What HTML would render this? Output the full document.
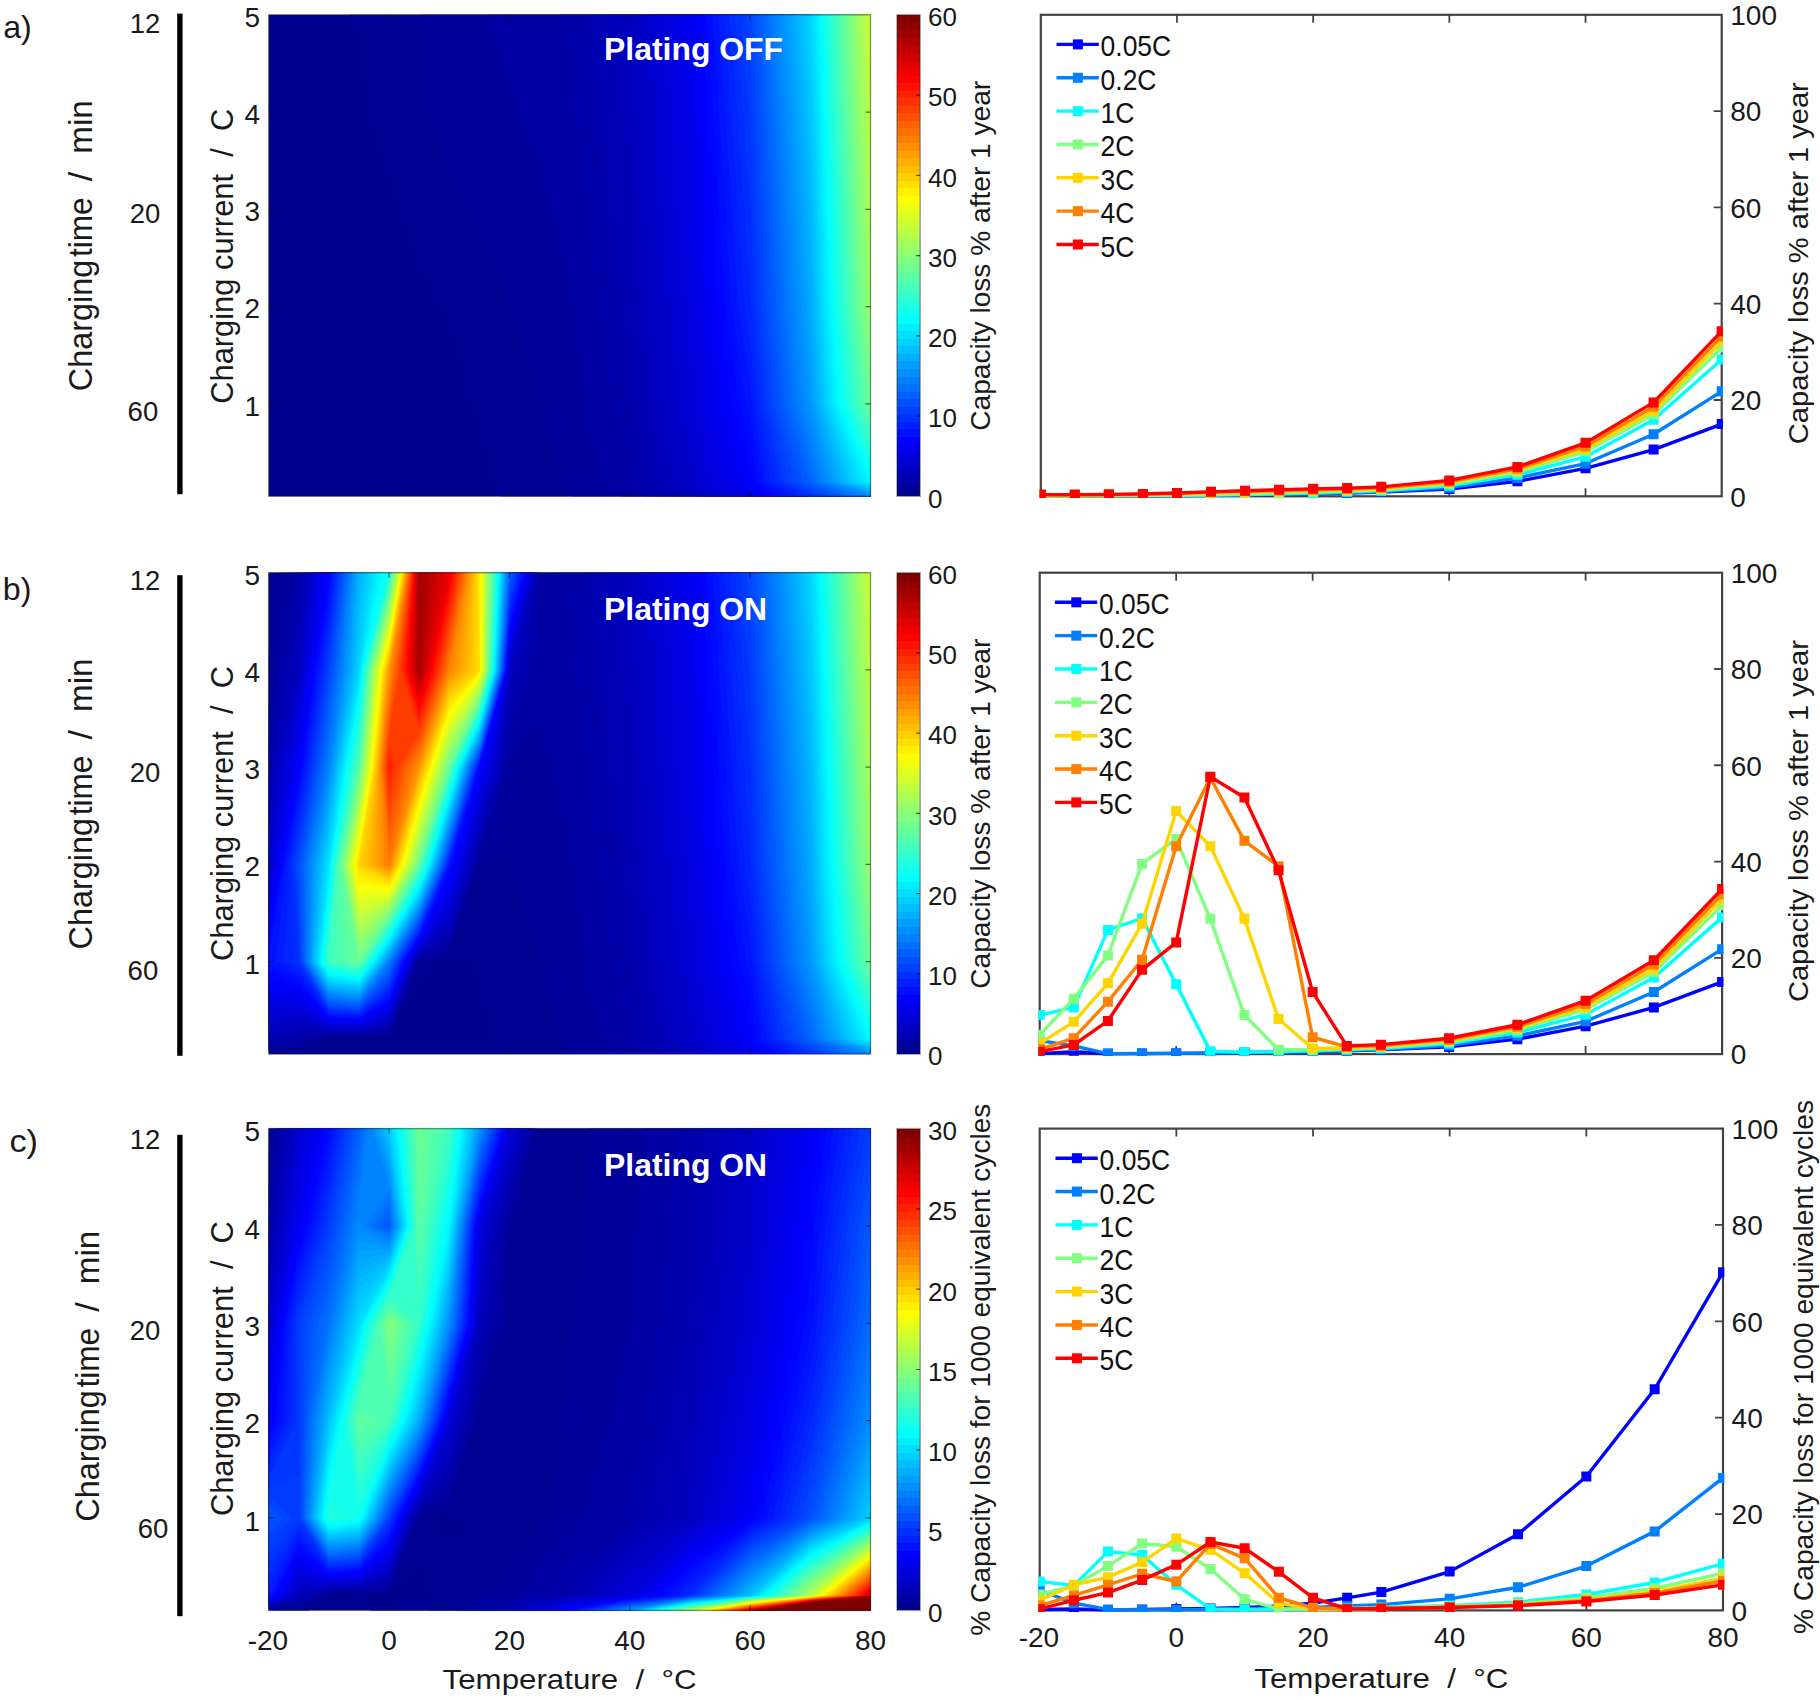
<!DOCTYPE html>
<html lang="en"><head><meta charset="utf-8"><title>Capacity loss maps</title>
<style>html,body{margin:0;padding:0;background:#fff}svg{display:block}text{font-family:"Liberation Sans", sans-serif;white-space:pre}</style></head>
<body>
<svg width="1820" height="1700" viewBox="0 0 1820 1700">
<rect width="1820" height="1700" fill="#fff"/>
<defs>
<clipPath id="lc0"><rect x="1039.5" y="8.8" width="683.5" height="489.1"/></clipPath>
<clipPath id="lc1"><rect x="1038.4" y="566.7" width="685" height="489"/></clipPath>
<clipPath id="lc2"><rect x="1038.4" y="1122.6" width="685.9" height="489.4"/></clipPath>
</defs>
<g>
<rect x="268.7" y="14.8" width="601.8" height="481.5" fill="#00008f"/>
<path d="M500 496.3h9.4h30.1h30.1h60.2h60.2h60.1h60.2h60.2v-14.6v-77.8v-97.3v-97.3v-97.2v-97.3h-60.2h-60.2h-60.1h-60.2h-60.2h-30.1h-30.1h-30.1h-30.1h-30.1h-30h-30.1h-9.4l9.4 38l8.1 59.3l22 70.9l8.1 26.3l21.9 58.1l22.3 39.2l7.8 25.3l22.3 72l7.8 30.4l11.3 47.4z" fill="#000093"/>
<path d="M562.1 481.7l7.5 9.1l3.8 5.5h56.4h60.2h60.1h60.2h60.2v-14.6v-77.8v-97.3v-97.3v-97.2v-97.3h-60.2h-60.2h-60.1h-60.2h-60.2h-30.1h-30.1h-30.1h-30.1h-27.7l5.2 97.3l22.5 54.7l17.6 42.5l12.5 20.3l30.1 69.6l2.9 7.4l27.2 87.8l2.3 9.5z" fill="#00009b"/>
<path d="M620.4 496.3h9.4h60.2h60.1h60.2h60.2v-14.6v-77.8v-97.3v-97.3v-97.2v-97.3h-60.2h-60.2h-60.1h-60.2h-60.2h-30.1h-30.1h-21.6l21.6 69.9l11.3 27.4l18.8 45.6l12.8 51.6l17.3 70l2.9 27.3l11.8 97.3l15.9 77.8z" fill="#0000a3"/>
<path d="M643.9 496.3h46.1h60.1h60.2h60.2v-14.6v-77.8v-97.3v-97.3v-97.2v-97.3h-60.2h-60.2h-60.1h-60.2h-60.2h-9.8l9.8 39.4l6 57.9l9.6 97.2l11.9 97.3l14.1 97.3l18.6 63.2l2.2 14.6z" fill="#0000ab"/>
<path d="M661.5 496.3h28.5h60.1h60.2h60.2v-14.6v-77.8v-97.3v-97.3v-97.2v-97.3h-60.2h-60.2h-60.1h-60.2h-43l11.4 97.3l9.6 97.2l13.8 97.3l8.2 50.7l3.7 46.6l12.6 77.8z" fill="#0000b3"/>
<path d="M679.1 496.3h10.9h60.1h60.2h60.2v-14.6v-77.8v-97.3v-97.3v-97.2v-97.3h-60.2h-60.2h-60.1h-60.2h-21.9l12.9 97.3l9 91.2l0.3 6l7.2 97.3l8.5 97.3l14.4 77.8z" fill="#0000bb"/>
<path d="M674.4 481.7l15.6 10.8l4 3.8h56.1h60.2h60.2v-14.6v-77.8v-97.3v-97.3v-97.2v-97.3h-60.2h-60.2h-60.1h-60.2h-0.9l0.9 6.1l6.2 91.2l4.9 97.2l7.7 97.3l9.5 97.3z" fill="#0000c3"/>
<path d="M688.5 481.7l1.5 1.1l14.4 13.5h45.7h60.2h60.2v-14.6v-77.8v-97.3v-97.3v-97.2v-97.3h-60.2h-60.2h-60.1h-50.5l7 97.3l5.3 97.2l8.1 97.3l10.4 97.3z" fill="#0000cb"/>
<path d="M714.9 496.3h35.2h60.2h60.2v-14.6v-77.8v-97.3v-97.3v-97.2v-97.3h-60.2h-60.2h-60.1h-40.5l7.4 97.3l5.7 97.2l8.6 97.3l11.4 97.3l7.4 31.3l8.4 46.5z" fill="#0000d3"/>
<path d="M725.3 496.3h24.8h60.2h60.2v-14.6v-77.8v-97.3v-97.3v-97.2v-97.3h-60.2h-60.2h-60.1h-30.4l7.8 97.3l6.1 97.2l8.9 97.3l7.6 60.8l3 36.5l14.8 77.8z" fill="#0000db"/>
<path d="M735.8 496.3h14.3h60.2h60.2v-14.6v-77.8v-97.3v-97.3v-97.2v-97.3h-60.2h-60.2h-60.1h-20.3l8.1 97.3l6.5 97.2l5.7 59.3l2.1 38l8.5 97.3l16.6 77.8z" fill="#0000e3"/>
<path d="M746.2 496.3h3.9h60.2h60.2v-14.6v-77.8v-97.3v-97.3v-97.2v-97.3h-60.2h-60.2h-60.1h-10.2l8.5 97.3l1.7 24.3l3 72.9l5.7 97.3l9.6 97.3l18.3 77.8z" fill="#0000eb"/>
<path d="M736 481.7l14.1 10.3l4.6 4.3h55.6h60.2v-14.6v-77.8v-97.3v-97.3v-97.2v-97.3h-60.2h-60.2h-60.1h-0.2l0.2 1.5l5 95.8l4.4 97.2l5.9 97.3l10.6 97.3z" fill="#0000f3"/>
<path d="M745.4 481.7l4.7 3.5l11.8 11.1h48.4h60.2v-14.6v-77.8v-97.3v-97.3v-97.2v-97.3h-60.2h-60.2h-54.6l5.5 97.3l4.9 97.2l5.9 97.3l11.7 97.3z" fill="#0000fb"/>
<path d="M769.1 496.3h41.2h60.2v-14.6v-77.8v-97.3v-97.3v-97.2v-97.3h-60.2h-60.2h-48.9l5.8 97.3l5.3 97.2l6.1 97.3l12.7 97.3l19 65l2.3 12.8z" fill="#0004ff"/>
<path d="M776.4 496.3h33.9h60.2v-14.6v-77.8v-97.3v-97.3v-97.2v-97.3h-60.2h-60.2h-43.3l6.2 97.3l5.7 97.2l6.2 97.3l13.9 97.3l11.3 38.9l6.9 38.9z" fill="#000cff"/>
<path d="M783.6 496.3h26.7h60.2v-14.6v-77.8v-97.3v-97.3v-97.2v-97.3h-60.2h-60.2h-37.6l6.5 97.3l6.1 97.2l6.4 97.3l14.9 97.3l3.7 12.8l11.6 65z" fill="#0014ff"/>
<path d="M790.8 496.3h19.5h60.2v-14.6v-77.8v-97.3v-97.3v-97.2v-97.3h-60.2h-60.2h-32l6.9 97.3l6.5 97.2l6.6 97.3l12 76.3l1.9 21l14.3 77.8z" fill="#001cff"/>
<path d="M798.1 496.3h12.2h60.2v-14.6v-77.8v-97.3v-97.3v-97.2v-97.3h-60.2h-60.2h-26.4l7.3 97.3l6.9 97.2l6.7 97.3l5.5 34.8l5.6 62.5l15.2 77.8z" fill="#0024ff"/>
<path d="M805.3 496.3h5h60.2v-14.6v-77.8v-97.3v-97.3v-97.2v-97.3h-60.2h-60.2h-20.7l7.6 97.3l7.3 97.2l5.8 82.7l0.6 14.6l8.6 97.3l16.2 77.8z" fill="#002cff"/>
<path d="M780.2 481.7l30.1 13.9l1.7 0.7h58.5v-14.6v-77.8v-97.3v-97.3v-97.2v-97.3h-60.2h-60.2h-15.1l8 97.3l7.1 90.2l0.4 7l3.9 97.3l8.6 97.3z" fill="#0034ff"/>
<path d="M784.8 481.7l25.5 11.8l7 2.8h53.2v-14.6v-77.8v-97.3v-97.3v-97.2v-97.3h-60.2h-60.2h-9.4l8.3 97.3l1.1 14.2l3.9 83l4.1 97.3l8.6 97.3z" fill="#003cff"/>
<path d="M789.4 481.7l20.9 9.7l12.3 4.9h47.9v-14.6v-77.8v-97.3v-97.3v-97.2v-97.3h-60.2h-60.2h-3.8l3.8 44.3l2.8 53l4.7 97.2l4.1 97.3l8.6 97.3z" fill="#0044ff"/>
<path d="M794 481.7l16.3 7.5l17.6 7.1h42.6v-14.6v-77.8v-97.3v-97.3v-97.2v-97.3h-60.2h-59.1l5.2 97.3l4.8 97.2l4.2 97.3l8.6 97.3z" fill="#004cff"/>
<path d="M798.7 481.7l11.6 5.4l22.9 9.2h37.3v-14.6v-77.8v-97.3v-97.3v-97.2v-97.3h-60.2h-55.7l5.2 97.3l5 97.2l4.2 97.3l8.6 97.3z" fill="#0054ff"/>
<path d="M803.3 481.7l7 3.3l28.3 11.3h31.9v-14.6v-77.8v-97.3v-97.3v-97.2v-97.3h-60.2h-52.4l5.4 97.3l5 97.2l4.4 97.3l8.6 97.3z" fill="#005cff"/>
<path d="M807.9 481.7l2.4 1.1l33.6 13.5h26.6v-14.6v-77.8v-97.3v-97.3v-97.2v-97.3h-60.2h-49l5.4 97.3l5.2 97.2l4.5 97.3l8.6 97.3z" fill="#0064ff"/>
<path d="M849.2 496.3h21.3v-14.6v-77.8v-97.3v-97.3v-97.2v-97.3h-60.2h-45.7l5.5 97.3l5.4 97.2l4.5 97.3l8.6 97.3l21.7 72l1.5 5.8z" fill="#006cff"/>
<path d="M854.5 496.3h16v-14.6v-77.8v-97.3v-97.3v-97.2v-97.3h-60.2h-42.3l5.6 97.3l5.4 97.2l4.7 97.3l8.6 97.3l18 59.8l4.7 18z" fill="#0074ff"/>
<path d="M859.9 496.3h10.6v-14.6v-77.8v-97.3v-97.3v-97.2v-97.3h-60.2h-38.9l5.6 97.3l5.6 97.2l4.8 97.3l8.6 97.3l14.3 47.7l7.9 30.1z" fill="#007cff"/>
<path d="M865.2 496.3h5.3v-14.6v-77.8v-97.3v-97.3v-97.2v-97.3h-60.2h-35.6l5.8 97.3l5.7 97.2l4.8 97.3l8.6 97.3l10.7 35.5l11.1 42.3z" fill="#0083ff"/>
<path d="M824.5 481.7l46 14.6v-14.6v-77.8v-97.3v-97.3v-97.2v-97.3h-60.2h-32.2l5.8 97.3l5.9 97.2l4.9 97.3l8.6 97.3l7 23.3z" fill="#008bff"/>
<path d="M827.7 481.7l42.8 13.6v-13.6v-77.8v-97.3v-97.3v-97.2v-97.3h-60.2h-28.9l5.9 97.3l6 97.2l5.1 97.3l8.5 97.3l3.4 11.2z" fill="#0093ff"/>
<path d="M830.9 481.7l39.6 12.6v-12.6v-77.8v-97.3v-97.3v-97.2v-97.3h-60.2h-25.5l6 97.3l6.1 97.2l5.1 97.3l8.3 94l0.2 3.3z" fill="#009bff"/>
<path d="M834 481.7l36.5 11.6v-11.6v-77.8v-97.3v-97.3v-97.2v-97.3h-60.2h-22.1l6 97.3l6.3 97.2l5.2 97.3l4.6 52.5l2.5 44.8z" fill="#00a3ff"/>
<path d="M837.2 481.7l33.3 10.6v-10.6v-77.8v-97.3v-97.3v-97.2v-97.3h-60.2h-18.8l6.2 97.3l6.3 97.2l5.3 97.3l1 11.1l4.7 86.2z" fill="#00abff"/>
<path d="M840.4 481.7l30.1 9.6v-9.6v-77.8v-97.3v-97.3v-97.2v-97.3h-60.2h-15.4l6.2 97.3l6.5 97.2l2.7 49.6l1.5 47.7l5.5 97.3z" fill="#00b3ff"/>
<path d="M843.5 481.7l27 8.6v-8.6v-77.8v-97.3v-97.3v-97.2v-97.3h-60.2h-12.1l6.3 97.3l5.8 85.1l0.5 12.1l3 97.3l5.7 97.3z" fill="#00bbff"/>
<path d="M846.7 481.7l23.8 7.6v-7.6v-77.8v-97.3v-97.3v-97.2v-97.3h-60.2h-8.7l6.4 97.3l2.3 34.4l2.4 62.8l3.2 97.3l5.9 97.3z" fill="#00c3ff"/>
<path d="M849.9 481.7l20.6 6.6v-6.6v-77.8v-97.3v-97.3v-97.2v-97.3h-60.2h-5.4l5.4 81.1l0.6 16.2l3.8 97.2l3.2 97.3l6.1 97.3z" fill="#00cbff"/>
<path d="M853 481.7l17.5 5.5v-5.5v-77.8v-97.3v-97.3v-97.2v-97.3h-60.2h-2l2 30.4l2.6 66.9l3.8 97.2l3.2 97.3l6.4 97.3z" fill="#00d3ff"/>
<path d="M856.2 481.7l14.3 4.5v-4.5v-77.8v-97.3v-97.3v-97.2v-97.3h-59.4l3.7 97.3l3.8 97.2l3.4 97.3l6.6 97.3z" fill="#00dbff"/>
<path d="M859.4 481.7l11.1 3.5v-3.5v-77.8v-97.3v-97.3v-97.2v-97.3h-57.5l3.7 97.3l3.9 97.2l3.4 97.3l6.8 97.3z" fill="#00e3ff"/>
<path d="M862.6 481.7l7.9 2.5v-2.5v-77.8v-97.3v-97.3v-97.2v-97.3h-55.6l3.8 97.3l3.8 97.2l3.5 97.3l7.1 97.3z" fill="#00ebff"/>
<path d="M865.7 481.7l4.8 1.5v-1.5v-77.8v-97.3v-97.3v-97.2v-97.3h-53.7l3.8 97.3l3.9 97.2l3.5 97.3l7.3 97.3z" fill="#00f3ff"/>
<path d="M868.9 481.7l1.6 0.5v-0.5v-77.8v-97.3v-97.3v-97.2v-97.3h-51.8l3.8 97.3l4 97.2l3.6 97.3l7.5 97.3z" fill="#00fbff"/>
<path d="M839.8 403.9l30.7 75.1v-75.1v-97.3v-97.3v-97.2v-97.3h-49.9l3.9 97.3l3.9 97.2l3.7 97.3z" fill="#04fffb"/>
<path d="M842.1 403.9l28.4 69.6v-69.6v-97.3v-97.3v-97.2v-97.3h-48l3.9 97.3l4 97.2l3.7 97.3z" fill="#0cfff3"/>
<path d="M844.4 403.9l26.1 64v-64v-97.3v-97.3v-97.2v-97.3h-46.1l3.9 97.3l4 97.2l3.9 97.3z" fill="#14ffeb"/>
<path d="M846.6 403.9l23.9 58.5v-58.5v-97.3v-97.3v-97.2v-97.3h-44.2l4 97.3l4 97.2l3.9 97.3z" fill="#1cffe3"/>
<path d="M848.9 403.9l21.6 53v-53v-97.3v-97.3v-97.2v-97.3h-42.3l4 97.3l4.1 97.2l3.9 97.3z" fill="#24ffdb"/>
<path d="M851.1 403.9l19.4 47.4v-47.4v-97.3v-97.3v-97.2v-97.3h-40.4l4 97.3l4.1 97.2l4.1 97.3z" fill="#2cffd3"/>
<path d="M853.4 403.9l17.1 41.9v-41.9v-97.3v-97.3v-97.2v-97.3h-38.5l4.1 97.3l4.1 97.2l4.1 97.3z" fill="#34ffcb"/>
<path d="M855.6 403.9l14.9 36.4v-36.4v-97.3v-97.3v-97.2v-97.3h-36.5l4 97.3l4.1 97.2l4.2 97.3z" fill="#3cffc3"/>
<path d="M857.9 403.9l12.6 30.9v-30.9v-97.3v-97.3v-97.2v-97.3h-34.6l4 97.3l4.2 97.2l4.2 97.3z" fill="#44ffbb"/>
<path d="M860.1 403.9l10.4 25.3v-25.3v-97.3v-97.3v-97.2v-97.3h-32.7l4.1 97.3l4.2 97.2l4.3 97.3z" fill="#4cffb3"/>
<path d="M862.4 403.9l8.1 19.8v-19.8v-97.3v-97.3v-97.2v-97.3h-30.8l4.1 97.3l4.2 97.2l4.4 97.3z" fill="#54ffab"/>
<path d="M864.7 403.9l5.8 14.3v-14.3v-97.3v-97.3v-97.2v-97.3h-28.9l4.1 97.3l4.3 97.2l4.4 97.3z" fill="#5cffa3"/>
<path d="M866.9 403.9l3.6 8.8v-8.8v-97.3v-97.3v-97.2v-97.3h-27l4.1 97.3l4.3 97.2l4.6 97.3z" fill="#64ff9b"/>
<path d="M869.2 403.9l1.3 3.2v-3.2v-97.3v-97.3v-97.2v-97.3h-25.1l4.2 97.3l4.3 97.2l4.6 97.3z" fill="#6cff93"/>
<path d="M860.5 306.6l10 89.8v-89.8v-97.3v-97.2v-97.3h-23.2l4.2 97.3l4.3 97.2z" fill="#74ff8b"/>
<path d="M862.5 306.6l8 71.5v-71.5v-97.3v-97.2v-97.3h-21.3l4.2 97.3l4.4 97.2z" fill="#7cff83"/>
<path d="M864.6 306.6l5.9 53.3v-53.3v-97.3v-97.2v-97.3h-19.4l4.3 97.3l4.4 97.2z" fill="#83ff7c"/>
<path d="M866.6 306.6l3.9 35v-35v-97.3v-97.2v-97.3h-17.5l4.3 97.3l4.4 97.2z" fill="#8bff74"/>
<path d="M868.6 306.6l1.9 16.8v-16.8v-97.3v-97.2v-97.3h-15.6l4.3 97.3l4.5 97.2z" fill="#93ff6c"/>
<path d="M865.6 209.3l4.9 94.3v-94.3v-97.2v-97.3h-13.7l4.4 97.3z" fill="#9bff64"/>
<path d="M867.6 209.3l2.9 56.3v-56.3v-97.2v-97.3h-11.8l4.4 97.3z" fill="#a3ff5c"/>
<path d="M869.6 209.3l0.9 18.3v-18.3v-97.2v-97.3h-9.9l4.4 97.3z" fill="#abff54"/>
<path d="M867 112.1l3.5 75.7v-75.7v-97.3h-8z" fill="#b3ff4c"/>
<path d="M868.9 112.1l1.6 34.2v-34.2v-97.3h-6z" fill="#bbff44"/>
<path d="M866.4 14.8l4.1 90.1v-90.1z" fill="#c3ff3c"/>
<path d="M868.3 14.8l2.2 48.6v-48.6z" fill="#cbff34"/>
<path d="M870.2 14.8l0.3 7.2v-7.2z" fill="#d3ff2c"/>
</g>
<rect x="268.7" y="14.8" width="601.8" height="481.5" fill="none" stroke="#222" stroke-opacity=".45" stroke-width="1.4"/>
<path d="M268.7 403.89h5M870.5 403.89h-5M268.7 306.62h5M870.5 306.62h-5M268.7 209.35h5M870.5 209.35h-5M268.7 112.07h5M870.5 112.07h-5M389.06 496.3v-5M389.06 14.8v5M509.42 496.3v-5M509.42 14.8v5M629.78 496.3v-5M629.78 14.8v5M750.14 496.3v-5M750.14 14.8v5" stroke="#111" stroke-opacity=".6" stroke-width="1.2" fill="none"/>
<text x="260.2" y="415.69" font-size="28" text-anchor="end" fill="#1a1a1a">1</text>
<text x="260.2" y="318.42" font-size="28" text-anchor="end" fill="#1a1a1a">2</text>
<text x="260.2" y="221.15" font-size="28" text-anchor="end" fill="#1a1a1a">3</text>
<text x="260.2" y="123.87" font-size="28" text-anchor="end" fill="#1a1a1a">4</text>
<text x="260.2" y="26.6" font-size="28" text-anchor="end" fill="#1a1a1a">5</text>
<text x="232.8" y="403.8" font-size="31" textLength="295" lengthAdjust="spacingAndGlyphs" transform="rotate(-90 232.8 403.8)" fill="#1a1a1a">Charging current  /  C</text>
<rect x="177.2" y="13.6" width="5.4" height="480.6" fill="#000"/>
<text x="160.4" y="32.6" font-size="27.5" text-anchor="end" fill="#1a1a1a">12</text>
<text x="160.4" y="223.4" font-size="27.5" text-anchor="end" fill="#1a1a1a">20</text>
<text x="158.2" y="421.4" font-size="27.5" text-anchor="end" fill="#1a1a1a">60</text>
<g transform="translate(92.2 391.2) rotate(-90)" font-size="34" fill="#1a1a1a" lengthAdjust="spacingAndGlyphs"><text x="0" y="0" textLength="131.5" lengthAdjust="spacingAndGlyphs">Charging</text><text x="134.3" y="0" textLength="59.5" lengthAdjust="spacingAndGlyphs">time</text><text x="210" y="0">/</text><text x="237.5" y="0" textLength="53.5" lengthAdjust="spacingAndGlyphs">min</text></g>
<text x="3.2" y="38.4" font-size="30.5" textLength="28.6" lengthAdjust="spacingAndGlyphs" fill="#1a1a1a">a)</text>
<text x="604.1" y="60.1" font-size="31.9" font-weight="bold" fill="#fff">Plating OFF</text>
<g shape-rendering="crispEdges">
<rect x="897" y="488.78" width="23.2" height="7.52" fill="#00008f"/>
<rect x="897" y="481.25" width="23.2" height="8.12" fill="#00009f"/>
<rect x="897" y="473.73" width="23.2" height="8.12" fill="#0000af"/>
<rect x="897" y="466.21" width="23.2" height="8.12" fill="#0000bf"/>
<rect x="897" y="458.68" width="23.2" height="8.12" fill="#0000cf"/>
<rect x="897" y="451.16" width="23.2" height="8.12" fill="#0000df"/>
<rect x="897" y="443.64" width="23.2" height="8.12" fill="#0000ef"/>
<rect x="897" y="436.11" width="23.2" height="8.12" fill="#0000ff"/>
<rect x="897" y="428.59" width="23.2" height="8.12" fill="#0010ff"/>
<rect x="897" y="421.07" width="23.2" height="8.12" fill="#0020ff"/>
<rect x="897" y="413.54" width="23.2" height="8.12" fill="#0030ff"/>
<rect x="897" y="406.02" width="23.2" height="8.12" fill="#0040ff"/>
<rect x="897" y="398.5" width="23.2" height="8.12" fill="#0050ff"/>
<rect x="897" y="390.97" width="23.2" height="8.12" fill="#0060ff"/>
<rect x="897" y="383.45" width="23.2" height="8.12" fill="#0070ff"/>
<rect x="897" y="375.93" width="23.2" height="8.12" fill="#0080ff"/>
<rect x="897" y="368.4" width="23.2" height="8.12" fill="#008fff"/>
<rect x="897" y="360.88" width="23.2" height="8.12" fill="#009fff"/>
<rect x="897" y="353.35" width="23.2" height="8.12" fill="#00afff"/>
<rect x="897" y="345.83" width="23.2" height="8.12" fill="#00bfff"/>
<rect x="897" y="338.31" width="23.2" height="8.12" fill="#00cfff"/>
<rect x="897" y="330.78" width="23.2" height="8.12" fill="#00dfff"/>
<rect x="897" y="323.26" width="23.2" height="8.12" fill="#00efff"/>
<rect x="897" y="315.74" width="23.2" height="8.12" fill="#00ffff"/>
<rect x="897" y="308.21" width="23.2" height="8.12" fill="#10ffef"/>
<rect x="897" y="300.69" width="23.2" height="8.12" fill="#20ffdf"/>
<rect x="897" y="293.17" width="23.2" height="8.12" fill="#30ffcf"/>
<rect x="897" y="285.64" width="23.2" height="8.12" fill="#40ffbf"/>
<rect x="897" y="278.12" width="23.2" height="8.12" fill="#50ffaf"/>
<rect x="897" y="270.6" width="23.2" height="8.12" fill="#60ff9f"/>
<rect x="897" y="263.07" width="23.2" height="8.12" fill="#70ff8f"/>
<rect x="897" y="255.55" width="23.2" height="8.12" fill="#80ff80"/>
<rect x="897" y="248.03" width="23.2" height="8.12" fill="#8fff70"/>
<rect x="897" y="240.5" width="23.2" height="8.12" fill="#9fff60"/>
<rect x="897" y="232.98" width="23.2" height="8.12" fill="#afff50"/>
<rect x="897" y="225.46" width="23.2" height="8.12" fill="#bfff40"/>
<rect x="897" y="217.93" width="23.2" height="8.12" fill="#cfff30"/>
<rect x="897" y="210.41" width="23.2" height="8.12" fill="#dfff20"/>
<rect x="897" y="202.89" width="23.2" height="8.12" fill="#efff10"/>
<rect x="897" y="195.36" width="23.2" height="8.12" fill="#ffff00"/>
<rect x="897" y="187.84" width="23.2" height="8.12" fill="#ffef00"/>
<rect x="897" y="180.32" width="23.2" height="8.12" fill="#ffdf00"/>
<rect x="897" y="172.79" width="23.2" height="8.12" fill="#ffcf00"/>
<rect x="897" y="165.27" width="23.2" height="8.12" fill="#ffbf00"/>
<rect x="897" y="157.75" width="23.2" height="8.12" fill="#ffaf00"/>
<rect x="897" y="150.22" width="23.2" height="8.12" fill="#ff9f00"/>
<rect x="897" y="142.7" width="23.2" height="8.12" fill="#ff8f00"/>
<rect x="897" y="135.18" width="23.2" height="8.12" fill="#ff8000"/>
<rect x="897" y="127.65" width="23.2" height="8.12" fill="#ff7000"/>
<rect x="897" y="120.13" width="23.2" height="8.12" fill="#ff6000"/>
<rect x="897" y="112.6" width="23.2" height="8.12" fill="#ff5000"/>
<rect x="897" y="105.08" width="23.2" height="8.12" fill="#ff4000"/>
<rect x="897" y="97.56" width="23.2" height="8.12" fill="#ff3000"/>
<rect x="897" y="90.03" width="23.2" height="8.12" fill="#ff2000"/>
<rect x="897" y="82.51" width="23.2" height="8.12" fill="#ff1000"/>
<rect x="897" y="74.99" width="23.2" height="8.12" fill="#ff0000"/>
<rect x="897" y="67.46" width="23.2" height="8.12" fill="#ef0000"/>
<rect x="897" y="59.94" width="23.2" height="8.12" fill="#df0000"/>
<rect x="897" y="52.42" width="23.2" height="8.12" fill="#cf0000"/>
<rect x="897" y="44.89" width="23.2" height="8.12" fill="#bf0000"/>
<rect x="897" y="37.37" width="23.2" height="8.12" fill="#af0000"/>
<rect x="897" y="29.85" width="23.2" height="8.12" fill="#9f0000"/>
<rect x="897" y="22.32" width="23.2" height="8.12" fill="#8f0000"/>
<rect x="897" y="14.8" width="23.2" height="8.12" fill="#800000"/>
</g>
<rect x="897" y="14.8" width="23.2" height="481.5" fill="none" stroke="#222" stroke-opacity=".45" stroke-width="1.4"/>
<text x="928" y="507.6" font-size="26" fill="#1a1a1a">0</text>
<text x="928" y="427.35" font-size="26" fill="#1a1a1a">10</text>
<text x="928" y="347.1" font-size="26" fill="#1a1a1a">20</text>
<text x="928" y="266.85" font-size="26" fill="#1a1a1a">30</text>
<text x="928" y="186.6" font-size="26" fill="#1a1a1a">40</text>
<text x="928" y="106.35" font-size="26" fill="#1a1a1a">50</text>
<text x="928" y="26.1" font-size="26" fill="#1a1a1a">60</text>
<path d="M920.2 416.05h-4M920.2 335.8h-4M920.2 255.55h-4M920.2 175.3h-4M920.2 95.05h-4" stroke="#111" stroke-opacity=".7" stroke-width="1.2" fill="none"/>
<text x="990.3" y="430.8" font-size="28" textLength="350" lengthAdjust="spacingAndGlyphs" transform="rotate(-90 990.3 430.8)" fill="#1a1a1a">Capacity loss % after 1 year</text>
<rect x="1040.8" y="14.8" width="680.9" height="481.5" fill="none" stroke="#434343" stroke-width="2.2"/>
<path d="M1176.98 496.3v-8M1176.98 14.8v8M1313.16 496.3v-8M1313.16 14.8v8M1449.34 496.3v-8M1449.34 14.8v8M1585.52 496.3v-8M1585.52 14.8v8M1721.7 400h-8M1721.7 303.7h-8M1721.7 207.4h-8M1721.7 111.1h-8" stroke="#434343" stroke-width="1.8" fill="none"/>
<g clip-path="url(#lc0)">
<polyline points="1040.8,496.06 1074.85,496.01 1108.89,495.91 1142.93,495.82 1176.98,495.58 1211.03,495.34 1245.07,494.86 1279.12,494.37 1313.16,493.89 1347.2,492.93 1381.25,491.97 1449.34,489.08 1517.43,481.37 1585.52,468.37 1653.61,449.59 1721.7,424.08" fill="none" stroke="#0000ff" stroke-width="3.4" stroke-linejoin="round"/>
<path d="M1035.8 491.06h10v10h-10zM1069.85 491.01h10v10h-10zM1103.89 490.91h10v10h-10zM1137.93 490.82h10v10h-10zM1171.98 490.58h10v10h-10zM1206.03 490.34h10v10h-10zM1240.07 489.86h10v10h-10zM1274.12 489.37h10v10h-10zM1308.16 488.89h10v10h-10zM1342.2 487.93h10v10h-10zM1376.25 486.97h10v10h-10zM1444.34 484.08h10v10h-10zM1512.43 476.37h10v10h-10zM1580.52 463.37h10v10h-10zM1648.61 444.59h10v10h-10zM1716.7 419.08h10v10h-10z" fill="#0000ff"/>
<polyline points="1040.8,496.01 1074.85,495.96 1108.89,495.87 1142.93,495.77 1176.98,495.53 1211.03,495.24 1245.07,494.76 1279.12,494.28 1313.16,493.65 1347.2,492.69 1381.25,491.49 1449.34,487.63 1517.43,478 1585.52,463.56 1653.61,434.19 1721.7,391.33" fill="none" stroke="#0080ff" stroke-width="3.4" stroke-linejoin="round"/>
<path d="M1035.8 491.01h10v10h-10zM1069.85 490.96h10v10h-10zM1103.89 490.87h10v10h-10zM1137.93 490.77h10v10h-10zM1171.98 490.53h10v10h-10zM1206.03 490.24h10v10h-10zM1240.07 489.76h10v10h-10zM1274.12 489.28h10v10h-10zM1308.16 488.65h10v10h-10zM1342.2 487.69h10v10h-10zM1376.25 486.49h10v10h-10zM1444.34 482.63h10v10h-10zM1512.43 473h10v10h-10zM1580.52 458.56h10v10h-10zM1648.61 429.19h10v10h-10zM1716.7 386.33h10v10h-10z" fill="#0080ff"/>
<polyline points="1040.8,495.96 1074.85,495.91 1108.89,495.82 1142.93,495.58 1176.98,495.34 1211.03,494.95 1245.07,494.47 1279.12,493.89 1313.16,492.93 1347.2,491.87 1381.25,490.76 1449.34,485.71 1517.43,474.63 1585.52,456.82 1653.61,419.74 1721.7,359.55" fill="none" stroke="#00ffff" stroke-width="3.4" stroke-linejoin="round"/>
<path d="M1035.8 490.96h10v10h-10zM1069.85 490.91h10v10h-10zM1103.89 490.82h10v10h-10zM1137.93 490.58h10v10h-10zM1171.98 490.34h10v10h-10zM1206.03 489.95h10v10h-10zM1240.07 489.47h10v10h-10zM1274.12 488.89h10v10h-10zM1308.16 487.93h10v10h-10zM1342.2 486.87h10v10h-10zM1376.25 485.76h10v10h-10zM1444.34 480.71h10v10h-10zM1512.43 469.63h10v10h-10zM1580.52 451.82h10v10h-10zM1648.61 414.74h10v10h-10zM1716.7 354.55h10v10h-10z" fill="#00ffff"/>
<polyline points="1040.8,495.87 1074.85,495.82 1108.89,495.58 1142.93,495.34 1176.98,494.95 1211.03,494.47 1245.07,493.89 1279.12,492.93 1313.16,491.87 1347.2,491 1381.25,489.8 1449.34,484.26 1517.43,472.23 1585.52,451.52 1653.61,414.44 1721.7,347.52" fill="none" stroke="#80ff80" stroke-width="3.4" stroke-linejoin="round"/>
<path d="M1035.8 490.87h10v10h-10zM1069.85 490.82h10v10h-10zM1103.89 490.58h10v10h-10zM1137.93 490.34h10v10h-10zM1171.98 489.95h10v10h-10zM1206.03 489.47h10v10h-10zM1240.07 488.89h10v10h-10zM1274.12 487.93h10v10h-10zM1308.16 486.87h10v10h-10zM1342.2 486h10v10h-10zM1376.25 484.8h10v10h-10zM1444.34 479.26h10v10h-10zM1512.43 467.23h10v10h-10zM1580.52 446.52h10v10h-10zM1648.61 409.44h10v10h-10zM1716.7 342.52h10v10h-10z" fill="#80ff80"/>
<polyline points="1040.8,495.53 1074.85,495.43 1108.89,495.24 1142.93,494.86 1176.98,494.28 1211.03,493.41 1245.07,492.21 1279.12,491.49 1313.16,490.76 1347.2,490.04 1381.25,488.84 1449.34,482.82 1517.43,470.3 1585.52,449.11 1653.61,411.07 1721.7,341.74" fill="none" stroke="#ffd500" stroke-width="3.4" stroke-linejoin="round"/>
<path d="M1035.8 490.53h10v10h-10zM1069.85 490.43h10v10h-10zM1103.89 490.24h10v10h-10zM1137.93 489.86h10v10h-10zM1171.98 489.28h10v10h-10zM1206.03 488.41h10v10h-10zM1240.07 487.21h10v10h-10zM1274.12 486.49h10v10h-10zM1308.16 485.76h10v10h-10zM1342.2 485.04h10v10h-10zM1376.25 483.84h10v10h-10zM1444.34 477.82h10v10h-10zM1512.43 465.3h10v10h-10zM1580.52 444.11h10v10h-10zM1648.61 406.07h10v10h-10zM1716.7 336.74h10v10h-10z" fill="#ffd500"/>
<polyline points="1040.8,495 1074.85,494.95 1108.89,494.71 1142.93,494.28 1176.98,493.41 1211.03,491.97 1245.07,491.24 1279.12,490.62 1313.16,489.8 1347.2,489.08 1381.25,487.87 1449.34,481.86 1517.43,468.85 1585.52,446.22 1653.61,406.74 1721.7,336.44" fill="none" stroke="#ff8000" stroke-width="3.4" stroke-linejoin="round"/>
<path d="M1035.8 490h10v10h-10zM1069.85 489.95h10v10h-10zM1103.89 489.71h10v10h-10zM1137.93 489.28h10v10h-10zM1171.98 488.41h10v10h-10zM1206.03 486.97h10v10h-10zM1240.07 486.24h10v10h-10zM1274.12 485.62h10v10h-10zM1308.16 484.8h10v10h-10zM1342.2 484.08h10v10h-10zM1376.25 482.87h10v10h-10zM1444.34 476.86h10v10h-10zM1512.43 463.85h10v10h-10zM1580.52 441.22h10v10h-10zM1648.61 401.74h10v10h-10zM1716.7 331.44h10v10h-10z" fill="#ff8000"/>
<polyline points="1040.8,494.61 1074.85,494.61 1108.89,494.37 1142.93,493.89 1176.98,493.03 1211.03,491.87 1245.07,490.81 1279.12,489.8 1313.16,488.84 1347.2,488.11 1381.25,486.86 1449.34,480.41 1517.43,466.93 1585.52,442.85 1653.61,402.41 1721.7,331.15" fill="none" stroke="#ff0000" stroke-width="3.4" stroke-linejoin="round"/>
<path d="M1035.8 489.61h10v10h-10zM1069.85 489.61h10v10h-10zM1103.89 489.37h10v10h-10zM1137.93 488.89h10v10h-10zM1171.98 488.03h10v10h-10zM1206.03 486.87h10v10h-10zM1240.07 485.81h10v10h-10zM1274.12 484.8h10v10h-10zM1308.16 483.84h10v10h-10zM1342.2 483.11h10v10h-10zM1376.25 481.86h10v10h-10zM1444.34 475.41h10v10h-10zM1512.43 461.93h10v10h-10zM1580.52 437.85h10v10h-10zM1648.61 397.41h10v10h-10zM1716.7 326.15h10v10h-10z" fill="#ff0000"/>
</g>
<text x="1730.3" y="506.6" font-size="28" fill="#1a1a1a">0</text>
<text x="1730.3" y="410.3" font-size="28" fill="#1a1a1a">20</text>
<text x="1730.3" y="314" font-size="28" fill="#1a1a1a">40</text>
<text x="1730.3" y="217.7" font-size="28" fill="#1a1a1a">60</text>
<text x="1730.3" y="121.4" font-size="28" fill="#1a1a1a">80</text>
<text x="1730.3" y="25.1" font-size="28" fill="#1a1a1a">100</text>
<text x="1808.5" y="444.2" font-size="28" textLength="362" lengthAdjust="spacingAndGlyphs" transform="rotate(-90 1808.5 444.2)" fill="#1a1a1a">Capacity loss % after 1 year</text>
<path d="M1056.5 44.4H1098.8" stroke="#0000ff" stroke-width="3.4"/>
<rect x="1072.9" y="39.4" width="10" height="10" fill="#0000ff"/>
<text x="1100.6" y="56.4" font-size="29.5" textLength="70.6" lengthAdjust="spacingAndGlyphs" fill="#111">0.05C</text>
<path d="M1056.5 77.75H1098.8" stroke="#0080ff" stroke-width="3.4"/>
<rect x="1072.9" y="72.75" width="10" height="10" fill="#0080ff"/>
<text x="1100.6" y="89.75" font-size="29.5" textLength="55.88" lengthAdjust="spacingAndGlyphs" fill="#111">0.2C</text>
<path d="M1056.5 111.1H1098.8" stroke="#00ffff" stroke-width="3.4"/>
<rect x="1072.9" y="106.1" width="10" height="10" fill="#00ffff"/>
<text x="1100.6" y="123.1" font-size="29.5" textLength="33.82" lengthAdjust="spacingAndGlyphs" fill="#111">1C</text>
<path d="M1056.5 144.45H1098.8" stroke="#80ff80" stroke-width="3.4"/>
<rect x="1072.9" y="139.45" width="10" height="10" fill="#80ff80"/>
<text x="1100.6" y="156.45" font-size="29.5" textLength="33.82" lengthAdjust="spacingAndGlyphs" fill="#111">2C</text>
<path d="M1056.5 177.8H1098.8" stroke="#ffd500" stroke-width="3.4"/>
<rect x="1072.9" y="172.8" width="10" height="10" fill="#ffd500"/>
<text x="1100.6" y="189.8" font-size="29.5" textLength="33.82" lengthAdjust="spacingAndGlyphs" fill="#111">3C</text>
<path d="M1056.5 211.15H1098.8" stroke="#ff8000" stroke-width="3.4"/>
<rect x="1072.9" y="206.15" width="10" height="10" fill="#ff8000"/>
<text x="1100.6" y="223.15" font-size="29.5" textLength="33.82" lengthAdjust="spacingAndGlyphs" fill="#111">4C</text>
<path d="M1056.5 244.5H1098.8" stroke="#ff0000" stroke-width="3.4"/>
<rect x="1072.9" y="239.5" width="10" height="10" fill="#ff0000"/>
<text x="1100.6" y="256.5" font-size="29.5" textLength="33.82" lengthAdjust="spacingAndGlyphs" fill="#111">5C</text>
<g>
<rect x="268.7" y="572.7" width="601.8" height="481.4" fill="#00008f"/>
<path d="M296.4 1054.1h2.4h2.2l20.9-14.6l7-1.1l30.1 0.1l30.1-0.7l30-49.2l18-26.9l12.1-1.1l22.3 1.1l7.8 30.4l11.3 47.4l9.4 14.6h9.4h30.1h30.1h60.2h60.2h60.1h60.2h60.2v-14.6v-77.8v-97.2v-97.3v-97.2v-97.3h-60.2h-60.2h-60.1h-60.2h-60.2h-30.1h-30.1h-30.1h-30.1h-30.1h-30h-30.1h-30.1h-30.1h-30.1v97.3v97.2v97.3v97.2v77.8v12.6z" fill="#000093"/>
<path d="M268.7 1039.5v10.1l30.1-0.8l14.3-9.3l15.8-2.5l30.1 0.2l30.1-1.9l29.3-73.6l0.7-1.2l30.1-5.8l30-90.2l0.1-0.6l30.1-6.8l2.9 7.4l27.2 87.8l2.3 9.4l20.3 77.8l7.5 9.1l3.8 5.5h56.4h60.2h60.1h60.2h60.2v-14.6v-77.8v-97.2v-97.3v-97.2v-97.3h-60.2h-60.2h-60.1h-60.2h-60.2h-30.1h-30.1h-30.1h-30.1h-30.1h-30h-30.1h-30.1h-30.1h-20.7l-9.4 85.1v12.2v97.2v97.3v97.2z" fill="#00009b"/>
<path d="M268.7 1039.5v7.5l30.1-3.9l5.5-3.6l24.6-3.9l30.1 0.3l30.1-3.1l28.3-71.1l1.7-2.8l30.1-10.1l28-84.3l2.1-7.7l28.9-89.6l1.2-10.6l30.1-41.1l12.8 51.7l17.3 69.9l2.9 27.4l11.8 97.2l15.9 77.8l20.2 14.6h9.4h60.2h60.1h60.2h60.2v-14.6v-77.8v-97.2v-97.3v-97.2v-97.3h-60.2h-60.2h-60.1h-60.2h-60.2h-30.1h-30.1h-30.1h-30.1h-30.1h-30h-30.1h-30.1h-30.1h-10.6l-14.2 97.3l-5.3 32.9v64.3v97.3v97.2z" fill="#0000a3"/>
<path d="M268.7 1039.5v5l25.3-5l4.8-1.7l30.1-3.7l30.1 0.5l30.1-4.4l27.3-68.5l2.7-4.5l30.1-14.3l26.1-78.4l4-14.9l26.6-82.4l3.5-30l24.5-67.2l5.1-97.3h-29.6h-30.1h-30.1h-30.1h-30h-30.1h-30.1h-30.1h-0.5l-18.2 97.3l-11.4 70.9v26.3v97.3v97.2zM643.9 1054.1h46.1h60.1h60.2h60.2v-14.6v-77.8v-97.2v-97.3v-97.2v-97.3h-60.2h-60.2h-60.1h-60.2h-60.2h-9.8l9.8 39.4l6 57.9l9.6 97.2l11.9 97.3l14.1 97.2l18.6 63.2l2.2 14.6z" fill="#0000ab"/>
<path d="M268.7 1039.5v2.5l12.5-2.5l17.6-6.2l30.1-0.6l30.1 0.6l30.1-5.6l26.3-66l3.7-6.2l30.1-18.5l24.1-72.5l6-22l24.3-75.3l5.8-49.4l17.4-47.8l11-97.3h-28.4h-30.1h-30.1h-30.1h-30h-30.1h-30.1h-27.4l-2.7 30.8l-12.5 66.5l-16.6 97.2l-1 7.8v89.5v97.2zM661.5 1054.1h28.5h60.1h60.2h60.2v-14.6v-77.8v-97.2v-97.3v-97.2v-97.3h-60.2h-60.2h-60.1h-60.2h-43l11.4 97.3l9.6 97.2l13.8 97.3l8.2 50.6l3.7 46.6l12.6 77.8z" fill="#0000b3"/>
<path d="M679.1 1054.1h10.9h60.1h60.2h60.2v-14.6v-77.8v-97.2v-97.3v-97.2v-97.3h-60.2h-60.2h-60.1h-60.2h-21.9l12.9 97.3l9 91.1l0.3 6.1l7.2 97.3l8.5 97.2l14.4 77.8zM268.7 961.7v77.6l30.1-10.6l30.1 2.6l30.1 0.7l30.1-6.9l25.3-63.4l4.7-7.8l30.1-22.8l22.1-66.6l8-29.1l22-68.2l8.1-68.8l10.4-28.4l16.7-97.3h-27.1h-30.1h-30.1h-30.1h-30h-30.1h-30.1h-24.6l-5.5 63.4l-6.4 33.9l-19.6 97.2l-4.1 33.1v64.2z" fill="#0000bb"/>
<path d="M674.4 1039.5l15.6 10.8l4 3.8h56.1h60.2h60.2v-14.6v-77.8v-97.2v-97.3v-97.2v-97.3h-60.2h-60.2h-60.1h-60.2h-0.9l0.9 6.1l6.2 91.2l4.9 97.2l7.7 97.3l9.5 97.2zM268.7 961.7v70.7l30.1-8.3l30.1 5.8l30.1 0.8l30.1-8.1l24.2-60.9l5.8-9.5l30.1-27l20.2-60.7l9.9-36.2l19.7-61.1l10.4-88.2l3.3-9l22.6-97.3h-25.9h-30.1h-30.1h-30.1h-30h-30.1h-30.1h-21.8l-8.3 96l-0.3 1.3l-22.6 97.2l-7.2 58.4v38.9z" fill="#0000c3"/>
<path d="M688.5 1039.5l1.5 1.1l14.4 13.5h45.7h60.2h60.2v-14.6v-77.8v-97.2v-97.3v-97.2v-97.3h-60.2h-60.2h-60.1h-50.5l7 97.3l5.3 97.2l8.1 97.3l10.4 97.2zM268.7 961.7v63.9l30.1-6l30.1 8.9l30.1 0.9l30.1-9.4l23.2-58.3l6.9-11.1l30-31.3l18.2-54.8l11.9-43.4l17.4-53.9l12.5-97.2l0.2-2.6l24.6-94.7h-24.6h-30.1h-30.1h-30.1h-30h-30.1h-30.1h-19l-9.3 97.3l-1.8 12.8l-19.7 84.4l-10.4 83.8v13.5z" fill="#0000cb"/>
<path d="M714.9 1054.1h35.2h60.2h60.2v-14.6v-77.8v-97.2v-97.3v-97.2v-97.3h-60.2h-60.2h-60.1h-40.5l7.4 97.3l5.7 97.2l8.6 97.3l11.4 97.2l7.4 31.3l8.4 46.5zM268.7 961.7v57l30.1-3.7l30.1 12l30.1 1.1l30.1-10.6l22.2-55.8l7.8-12.8l30.1-35.5l16.3-48.9l13.8-50.5l15.1-46.8l14.4-97.2l0.6-7.5l23.3-89.8h-23.3h-30.1h-30.1h-30.1h-30h-30.1h-30.1h-16.2l-10.3 97.3l-3.6 26.2l-16.6 71l-12.6 97.3l-0.9 5.1z" fill="#0000d3"/>
<path d="M725.3 1054.1h24.8h60.2h60.2v-14.6v-77.8v-97.2v-97.3v-97.2v-97.3h-60.2h-60.2h-60.1h-30.4l7.8 97.3l6.1 97.2l8.9 97.3l7.6 60.7l3 36.5l14.8 77.8zM268.7 961.7v50.1l30.1-1.3l30.1 15.1l30.1 1.2l30.1-11.9l21.2-53.2l8.8-14.4l30.1-39.9l14.3-42.9l15.8-57.6l12.8-39.7l16.3-97.2l1-12.3l22.1-85h-22.1h-30.1h-30.1h-30.1h-30h-30.1h-30.1h-13.3l-11.3 97.3l-5.5 39.6l-13.5 57.6l-13.8 97.3l-2.8 16.3z" fill="#0000db"/>
<path d="M735.8 1054.1h14.3h60.2h60.2v-14.6v-77.8v-97.2v-97.3v-97.2v-97.3h-60.2h-60.2h-60.1h-20.3l8.1 97.3l6.5 97.2l5.7 59.3l2.1 38l8.5 97.2l16.6 77.8zM268.7 961.7v43.2l30.1 1l30.1 18.3l30.1 1.3l30.1-13.1l20.2-50.7l9.8-16.1l30.1-44.1l12.3-37l17.8-64.7l10.5-32.6l18.2-97.2l1.4-17.2l20.8-80.1h-20.8h-30.1h-30.1h-30.1h-30h-30.1h-30.1h-10.5l-12.3 97.3l-7.3 53l-10.3 44.2l-15.2 97.3l-4.6 27.4z" fill="#0000e3"/>
<path d="M746.2 1054.1h3.9h60.2h60.2v-14.6v-77.8v-97.2v-97.3v-97.2v-97.3h-60.2h-60.2h-60.1h-10.2l8.5 97.3l1.7 24.3l3 72.9l5.7 97.3l9.6 97.2l18.3 77.8zM268.7 961.7v36.3l30.1 3.3l30.1 21.5l30.1 1.4l30.1-14.3l19.2-48.2l10.8-17.8l30.1-48.3l10.4-31.1l19.7-71.8l8.2-25.5l20.1-97.2l1.8-22l19.6-75.3h-19.6h-30.1h-30.1h-30.1h-30h-30.1h-30.1h-7.7l-13.2 97.3l-9.2 66.5l-7.2 30.7l-16.4 97.3l-6.5 38.5z" fill="#0000eb"/>
<path d="M736 1039.5l14.1 10.3l4.6 4.3h55.6h60.2v-14.6v-77.8v-97.2v-97.3v-97.2v-97.3h-60.2h-60.2h-60.1h-0.2l0.2 1.5l5 95.8l4.4 97.2l5.9 97.3l10.6 97.2zM268.7 961.7v29.5l30.1 5.6l30.1 24.6l30.1 1.5l30.1-15.6l18.2-45.6l11.8-19.4l30.1-52.6l8.4-25.2l21.7-79l5.9-18.3l22-97.2l2.2-26.9l18.3-70.4h-18.3h-30.1h-30.1h-30.1h-30h-30.1h-30.1h-4.9l-14.1 97.3l-11.1 79.9l-4.1 17.3l-17.6 97.3l-8.4 49.6z" fill="#0000f3"/>
<path d="M745.4 1039.5l4.7 3.5l11.8 11.1h48.4h60.2v-14.6v-77.8v-97.2v-97.3v-97.2v-97.3h-60.2h-60.2h-54.6l5.5 97.3l4.9 97.2l5.9 97.3l11.7 97.2zM268.7 961.7v22.6l30.1 7.9l30.1 27.7l30.1 1.7l30.1-16.8l17.1-43.1l12.9-21.1l30.1-56.8l6.5-19.3l23.6-86.1l3.6-11.2l23.9-97.2l2.6-31.7l17-65.6h-17h-30.1h-30.1h-30.1h-30h-30.1h-30.1h-2.1l-15.1 97.3l-12.9 93.3l-0.9 3.9l-18.9 97.3l-10.3 60.7z" fill="#0000fb"/>
<path d="M769.1 1054.1h41.2h60.2v-14.6v-77.8v-97.2v-97.3v-97.2v-97.3h-60.2h-60.2h-48.9l5.8 97.3l5.3 97.2l6.1 97.3l12.7 97.2l19 65l2.3 12.8zM268.7 961.7v15.7l30.1 10.3l30.1 30.8l30.1 1.8l30.1-18.1l16.1-40.5l13.9-22.7l30.1-61.1l4.5-13.4l25.6-93.2l1.3-4.1l25.8-97.2l3-36.6l15.8-60.7h-15.8h-30.1h-30.1h-30.1h-30h-30.1h-29.7l-0.4 3.2l-15.3 94.1l-13.6 97.2l-1.2 6.7l-17.9 90.6l-12.2 71.9z" fill="#0004ff"/>
<path d="M776.4 1054.1h33.9h60.2v-14.6v-77.8v-97.2v-97.3v-97.2v-97.3h-60.2h-60.2h-43.3l6.2 97.3l5.7 97.2l6.2 97.3l13.9 97.2l11.3 38.9l6.9 38.9zM268.7 961.7v8.8l30.1 12.6l30.1 34l30.1 1.9l30.1-19.3l15.1-38l14.9-24.4l30.1-65.3l2.5-7.5l27.3-97.3l0.3-0.6l26.7-96.6l3.4-41.4l14.5-55.9h-14.5h-30.1h-30.1h-30.1h-30h-30.1h-28.4l-1.7 14.6l-13.5 82.7l-13.6 97.2l-3 16.2l-16.1 81.1l-14 83z" fill="#000cff"/>
<path d="M783.6 1054.1h26.7h60.2v-14.6v-77.8v-97.2v-97.3v-97.2v-97.3h-60.2h-60.2h-37.6l6.5 97.3l6.1 97.2l6.4 97.3l14.9 97.2l3.7 12.9l11.6 64.9zM268.7 961.7v1.9l30.1 14.9l30.1 37.2l30.1 2l30.1-20.6l14.1-35.4l15.9-26l30.1-69.6l0.6-1.6l28.6-97.3l0.9-2l26.3-95.2l3.8-46.3l13.3-51h-13.3h-30.1h-30.1h-30.1h-30h-30.1h-27.1l-3 26l-11.6 71.3l-13.7 97.2l-4.8 25.7l-14.2 71.6l-15.9 94.1z" fill="#0014ff"/>
<path d="M790.8 1054.1h19.5h60.2v-14.6v-77.8v-97.2v-97.3v-97.2v-97.3h-60.2h-60.2h-32l6.9 97.3l6.5 97.2l6.6 97.3l12 76.2l1.9 21l14.3 77.8zM275 961.7l23.8 12.3l30.1 40.3l30.1 2.1l30.1-21.8l13.1-32.9l16.9-27.7l29.6-69.5l0.5-1.7l28.5-95.6l1.6-3.5l25.9-93.7l4.2-51.1l12-46.2h-12h-30.1h-30.1h-30.1h-30h-30.1h-25.8l-4.3 37.4l-9.8 59.9l-13.8 97.2l-6.5 35.2l-12.3 62.1z" fill="#001cff"/>
<path d="M798.1 1054.1h12.2h60.2v-14.6v-77.8v-97.2v-97.3v-97.2v-97.3h-60.2h-60.2h-26.4l7.3 97.3l6.9 97.2l6.7 97.3l5.5 34.8l5.6 62.4l15.2 77.8zM283.9 961.7l14.9 7.7l30.1 43.5l30.1 2.2l30.1-23l12.1-30.4l17.9-29.4l28.9-67.8l1.2-4l27.8-93.3l2.3-4.9l25.5-92.3l4.6-56l10.7-41.3h-10.7h-30.1h-30.1h-30.1h-30h-30.1h-24.4l-5.7 48.8l-7.9 48.5l-13.9 97.2l-8.3 44.7l-10.4 52.6z" fill="#0024ff"/>
<path d="M805.3 1054.1h5h60.2v-14.6v-77.8v-97.2v-97.3v-97.2v-97.3h-60.2h-60.2h-20.7l7.6 97.3l7.3 97.2l5.8 82.7l0.6 14.6l8.6 97.2l16.2 77.8zM292.7 961.7l6.1 3.2l30.1 46.5l30.1 2.5l30.1-24.4l11.1-27.8l18.9-31l28.2-66.2l1.9-6.2l27.1-91.1l3-6.4l25.1-90.8l5-60.8l9.5-36.5h-9.5h-30.1h-30.1h-30.1h-30h-30.1h-23.1l-7 60.2l-6.1 37.1l-13.9 97.2l-10.1 54.2l-8.5 43.1z" fill="#002cff"/>
<path d="M780.2 1039.5l30.1 13.9l1.7 0.7h58.5v-14.6v-77.8v-97.2v-97.3v-97.2v-97.3h-60.2h-60.2h-15.1l8 97.3l7.1 90.1l0.4 7.1l3.9 97.3l8.6 97.2zM299.1 961.7l29.8 48.3l30.1 2.6l30.1-25.6l10-25.3l20-32.7l27.5-64.5l2.6-8.5l26.5-88.8l3.6-7.8l24.7-89.4l5.4-65.7l8.2-31.6h-8.2h-30.1h-30.1h-30.1h-30h-30.1h-21.8l-8.3 71.6l-4.2 25.7l-14.1 97.2l-11.8 63.7l-6.7 33.6l6.7 89.4z" fill="#0034ff"/>
<path d="M784.8 1039.5l25.5 11.8l7 2.8h53.2v-14.6v-77.8v-97.2v-97.3v-97.2v-97.3h-60.2h-60.2h-9.4l8.3 97.3l1.1 14.1l3.9 83.1l4.1 97.3l8.6 97.2zM299.9 961.7l29 46.9l30.1 2.7l30.1-26.9l9-22.7l21-34.3l26.8-62.9l3.3-10.8l25.8-86.5l4.3-9.2l24.3-88l5.8-70.5l7-26.8h-7h-30.1h-30.1h-30.1h-30h-30.1h-20.4l-9.7 83l-2.3 14.3l-14.2 97.2l-13.6 73.2l-4.8 24.1l4.8 64.1z" fill="#003cff"/>
<path d="M789.4 1039.5l20.9 9.7l12.3 4.9h47.9v-14.6v-77.8v-97.2v-97.3v-97.2v-97.3h-60.2h-60.2h-3.8l3.8 44.3l2.8 53l4.7 97.2l4.1 97.3l8.6 97.2zM300.8 961.7l28.1 45.5l30.1 2.8l30.1-28.1l8-20.2l22-36l26.1-61.2l4-13.1l25.1-84.2l5-10.7l23.9-86.5l6.2-75.4l5.7-21.9h-5.7h-30.1h-30.1h-30.1h-30h-30.1h-19.1l-11 94.4l-0.5 2.9l-14.3 97.2l-15.3 82.7l-2.9 14.6l2.9 38.8z" fill="#0044ff"/>
<path d="M794 1039.5l16.3 7.5l17.6 7.1h42.6v-14.6v-77.8v-97.2v-97.3v-97.2v-97.3h-60.2h-59.1l5.2 97.3l4.8 97.2l4.2 97.3l8.6 97.2zM301.7 961.7l27.2 44.1l30.1 2.9l30.1-29.4l7-17.6l23-37.7l25.4-59.5l4.7-15.4l24.4-81.9l5.7-12.1l23.6-85.1l6.5-80.2l4.5-17.1h-4.5h-30.1h-30.1h-30.1h-30h-30.1h-17.8l-11.1 97.3l-1.2 8.9l-13 88.3l-17.1 92.2l-1 5.1l1 13.5z" fill="#004cff"/>
<path d="M798.7 1039.5l11.6 5.4l22.9 9.2h37.3v-14.6v-77.8v-97.2v-97.3v-97.2v-97.3h-60.2h-55.7l5.2 97.3l5 97.2l4.2 97.3l8.6 97.2zM302.6 961.7l26.3 42.6l30.1 3.1l30.1-30.6l6-15.1l24-39.3l24.7-57.9l5.4-17.6l23.7-79.7l6.4-13.6l23.2-83.6l6.9-85.1l3.2-12.2h-3.2h-30.1h-30.1h-30.1h-30h-30.1h-16.4l-10.9 97.3l-2.8 20.9l-11.2 76.3l-18.2 97.3z" fill="#0054ff"/>
<path d="M803.3 1039.5l7 3.3l28.3 11.3h31.9v-14.6v-77.8v-97.2v-97.3v-97.2v-97.3h-60.2h-52.4l5.4 97.3l5 97.2l4.4 97.3l8.6 97.2zM303.4 961.7l25.5 41.2l30.1 3.2l30.1-31.8l5-12.6l25-41l24-56.2l6.1-19.9l23.1-77.4l7-15l22.8-82.2l7.3-89.9l1.9-7.4h-1.9h-30.1h-30.1h-30.1h-30h-30.1h-15.1l-10.6 97.3l-4.4 32.9l-9.5 64.3l-18.3 97.3z" fill="#005cff"/>
<path d="M807.9 1039.5l2.4 1.1l33.6 13.5h26.6v-14.6v-77.8v-97.2v-97.3v-97.2v-97.3h-60.2h-49l5.4 97.3l5.2 97.2l4.5 97.3l8.6 97.2zM304.3 961.7l24.6 39.8l30.1 3.3l30.1-33.1l4-10l26-42.6l23.3-54.6l6.8-22.2l22.4-75.1l7.7-16.4l22.4-80.8l7.7-94.8l0.7-2.5h-0.7h-30.1h-30.1h-30.1h-30h-30.1h-13.8l-10.2 97.3l-6.1 44.9l-7.7 52.3l-18.5 97.3z" fill="#0064ff"/>
<path d="M849.2 1054.1h21.3v-14.6v-77.8v-97.2v-97.3v-97.2v-97.3h-60.2h-45.7l5.5 97.3l5.4 97.2l4.5 97.3l8.6 97.2l21.7 72l1.5 5.8zM305.2 961.7l23.7 38.4l30.1 3.4l30.1-34.3l2.9-7.5l27.1-44.3l22.6-52.9l7.5-24.5l21.7-72.8l8.4-17.9l22-79.3l7.9-97.3h-29.9h-30.1h-30.1h-30h-30.1h-12.4l-10 97.3l-7.7 56.9l-5.9 40.3l-18.8 97.3z" fill="#006cff"/>
<path d="M854.5 1054.1h16v-14.6v-77.8v-97.2v-97.3v-97.2v-97.3h-60.2h-42.3l5.6 97.3l5.4 97.2l4.7 97.3l8.6 97.2l18 59.8l4.7 18zM306.1 961.7l22.8 37l30.1 3.5l30.1-35.6l1.9-4.9l28.1-45.9l21.9-51.3l8.2-26.8l21-70.5l9.1-19.3l21.6-77.9l7.7-97.3h-29.3h-30.1h-30.1h-30h-30.1h-11.1l-9.7 97.3l-9.3 68.9l-4.2 28.3l-18.9 97.3z" fill="#0074ff"/>
<path d="M859.9 1054.1h10.6v-14.6v-77.8v-97.2v-97.3v-97.2v-97.3h-60.2h-38.9l5.6 97.3l5.6 97.2l4.8 97.3l8.6 97.2l14.3 47.7l7.9 30.1zM306.9 961.7l22 35.5l30.1 3.7l30.1-36.8l0.9-2.4l29.1-47.6l21.2-49.6l8.9-29l20.3-68.3l9.8-20.7l21.2-76.5l7.5-97.3h-28.7h-30.1h-30.1h-30h-30.1h-9.8l-9.4 97.3l-10.9 80.9l-2.4 16.3l-19.1 97.3z" fill="#007cff"/>
<path d="M865.2 1054.1h5.3v-14.6v-77.8v-97.2v-97.3v-97.2v-97.3h-60.2h-35.6l5.8 97.3l5.7 97.2l4.8 97.3l8.6 97.2l10.7 35.5l11.1 42.3zM307.8 961.7l21.1 34.1l30.1 3.8l30-37.9l0.1-0.1l30-49.2l20.5-47.9l9.6-31.3l19.7-66l10.4-22.2l20.8-75l7.4-97.3h-28.2h-30.1h-30.1h-30h-30.1h-8.5l-9.1 97.3l-12.5 92.9l-0.7 4.3l-19.3 97.3z" fill="#0083ff"/>
<path d="M824.5 1039.5l46 14.6v-14.6v-77.8v-97.2v-97.3v-97.2v-97.3h-60.2h-32.2l5.8 97.3l5.9 97.2l4.9 97.3l8.6 97.2l7 23.4zM308.7 961.7l20.2 32.7l30.1 3.9l29-36.6l1.1-1.6l30-49.3l19.8-46.3l10.3-33.6l19-63.7l11.1-23.6l20.4-73.6l7.2-97.3h-27.6h-30.1h-30.1h-30h-30.1h-7.1l-8.8 97.3l-13.5 97.2l-0.7 5l-18.4 92.3z" fill="#008bff"/>
<path d="M827.7 1039.5l42.8 13.6v-13.6v-77.8v-97.2v-97.3v-97.2v-97.3h-60.2h-28.9l5.9 97.3l6 97.2l5.1 97.3l8.5 97.2l3.4 11.2zM309.6 961.7l19.3 31.3l30.1 4l27.9-35.3l2.2-3.1l30-49.5l19.1-44.6l11-35.9l18.3-61.4l11.8-25.1l20-72.1l7.1-97.3h-27.1h-30.1h-30.1h-30h-30.1h-5.8l-8.5 97.3l-14 97.2l-1.8 12.9l-16.8 84.4z" fill="#0093ff"/>
<path d="M830.9 1039.5l39.6 12.6v-12.6v-77.8v-97.2v-97.3v-97.2v-97.3h-60.2h-25.5l6 97.3l6.1 97.2l5.1 97.3l8.3 93.9l0.2 3.3zM310.4 961.7l18.5 29.9l30.1 4.1l26.9-34l3.2-4.6l30-49.6l18.3-43l11.8-38.2l17.6-59.1l12.5-26.5l19.6-70.7l6.9-97.3h-26.5h-30.1h-30.1h-30h-30.1h-4.5l-8.2 97.3l-14.4 97.2l-3 20.8l-15.3 76.5z" fill="#009bff"/>
<path d="M834 1039.5l36.5 11.6v-11.6v-77.8v-97.2v-97.3v-97.2v-97.3h-60.2h-22.1l6 97.3l6.3 97.2l5.2 97.3l4.6 52.5l2.5 44.7zM311.3 961.7l17.6 28.4l30.1 4.3l25.9-32.7l4.2-6.1l30-49.8l17.6-41.3l12.5-40.4l17-56.9l13.1-27.9l19.2-69.3l6.7-97.3h-25.9h-30.1h-30.1h-30h-30.1h-3.1l-8 97.3l-14.9 97.2l-4.1 28.6l-13.7 68.7z" fill="#00a3ff"/>
<path d="M837.2 1039.5l33.3 10.6v-10.6v-77.8v-97.2v-97.3v-97.2v-97.3h-60.2h-18.8l6.2 97.3l6.3 97.2l5.3 97.3l1 11l4.7 86.2zM312.2 961.7l16.7 27l30.1 4.4l24.8-31.4l5.3-7.6l30-49.9l16.9-39.7l13.2-42.7l16.3-54.6l13.8-29.4l18.8-67.8l6.6-97.3h-25.4h-30.1h-30.1h-30h-30.1h-1.8l-7.7 97.3l-15.3 97.2l-5.3 36.5l-12.1 60.8z" fill="#00abff"/>
<path d="M840.4 1039.5l30.1 9.6v-9.6v-77.8v-97.2v-97.3v-97.2v-97.3h-60.2h-15.4l6.2 97.3l6.5 97.2l2.7 49.5l1.5 47.8l5.5 97.2zM313.1 961.7l15.8 25.6l30.1 4.5l23.8-30.1l6.3-9.1l30-50.1l16.2-38l13.9-45l15.6-52.3l14.5-30.8l18.4-66.4l6.4-97.3h-24.8h-30.1h-30.1h-30h-30.1h-0.5l-7.3 97.3l-15.9 97.2l-6.4 44.3l-10.6 53z" fill="#00b3ff"/>
<path d="M843.5 1039.5l27 8.6v-8.6v-77.8v-97.2v-97.3v-97.2v-97.3h-60.2h-12.1l6.3 97.3l5.8 85l0.5 12.2l3 97.3l5.7 97.2zM314 961.7l14.9 24.2l30.1 4.6l22.8-28.8l7.3-10.7l30-50.2l15.5-36.3l14.6-47.3l14.9-50l15.2-32.2l18-65l6.3-97.3h-24.3h-30.1h-30.1h-30h-28.5l-1.6 14.5l-6.2 82.8l-16.4 97.2l-7.5 52.2l-9 45.1z" fill="#00bbff"/>
<path d="M846.7 1039.5l23.8 7.6v-7.6v-77.8v-97.2v-97.3v-97.2v-97.3h-60.2h-8.7l6.4 97.3l2.3 34.4l2.4 62.8l3.2 97.3l5.9 97.2zM314.8 961.7l14.1 22.8l30.1 4.7l21.8-27.5l8.3-12.2l30-50.3l14.8-34.7l15.3-49.6l14.2-47.7l15.9-33.7l17.6-63.5l6.1-97.3h-23.7h-30.1h-30.1h-30h-26l-4.1 36.2l-4.6 61.1l-16.8 97.2l-8.7 60.1l-7.4 37.2z" fill="#00c3ff"/>
<path d="M849.9 1039.5l20.6 6.6v-6.6v-77.8v-97.2v-97.3v-97.2v-97.3h-60.2h-5.4l5.4 81l0.6 16.3l3.8 97.2l3.2 97.3l6.1 97.2zM315.7 961.7l13.2 21.4l30.1 4.8l20.7-26.2l9.4-13.7l30-50.5l14.1-33l16-51.8l13.6-45.5l16.5-35.1l17.2-62.1l6-97.3h-23.2h-30.1h-30.1h-30h-23.5l-6.6 57.9l-3 39.4l-17.3 97.2l-9.8 67.9l-5.9 29.4z" fill="#00cbff"/>
<path d="M853 1039.5l17.5 5.5v-5.5v-77.8v-97.2v-97.3v-97.2v-97.3h-60.2h-2l2 30.4l2.6 66.9l3.8 97.2l3.2 97.3l6.4 97.2zM316.6 961.7l12.3 19.9l30.1 5l19.7-24.9l10.4-15.2l30-50.6l13.4-31.4l16.7-54.1l12.9-43.2l17.2-36.6l16.8-60.6l5.8-97.3h-22.6h-30.1h-30.1h-30h-21.1l-9 79.6l-1.3 17.7l-17.9 97.2l-10.9 75.8l-4.3 21.5z" fill="#00d3ff"/>
<path d="M856.2 1039.5l14.3 4.5v-4.5v-77.8v-97.2v-97.3v-97.2v-97.3h-59.4l3.7 97.3l3.8 97.2l3.4 97.3l6.6 97.2zM317.5 961.7l11.4 18.5l30.1 5.1l18.7-23.6l11.4-16.7l30-50.8l12.7-29.7l17.4-56.4l12.2-40.9l17.9-38l16.4-59.2l5.6-97.3h-22h-30.1h-30.1h-30h-18.6l-11.4 97.3l-0.1 1.1l-18 96.1l-12.1 83.6l-2.7 13.7z" fill="#00dbff"/>
<path d="M859.4 1039.5l11.1 3.5v-3.5v-77.8v-97.2v-97.3v-97.2v-97.3h-57.5l3.7 97.3l3.9 97.2l3.4 97.3l6.8 97.2zM318.3 961.7l10.6 17.1l30.1 5.2l17.6-22.3l12.5-18.2l30-50.9l12-28.1l18.1-58.7l11.5-38.6l18.6-39.4l16-57.8l5.5-97.3h-21.5h-30.1h-30.1h-30h-16.1l-13.3 97.3l-0.7 7.2l-16.9 90l-13.2 91.5l-1.2 5.8z" fill="#00e3ff"/>
<path d="M862.6 1039.5l7.9 2.5v-2.5v-77.8v-97.2v-97.3v-97.2v-97.3h-55.6l3.8 97.3l3.8 97.2l3.5 97.3l7.1 97.2zM319.2 961.7l9.7 15.7l30.1 5.3l16.6-21l13.5-19.7l30-51.1l11.3-26.4l18.8-60.9l10.9-36.4l19.2-40.9l15.6-56.3l5.3-97.3h-20.9h-30.1h-30.1h-30h-13.6l-15.2 97.3l-1.3 13.2l-15.7 84l-14.2 97.3l-0.2 2.3z" fill="#00ebff"/>
<path d="M865.7 1039.5l4.8 1.5v-1.5v-77.8v-97.2v-97.3v-97.2v-97.3h-53.7l3.8 97.3l3.9 97.2l3.5 97.3l7.3 97.2zM320.1 961.7l8.8 14.3l30.1 5.4l15.6-19.7l14.5-21.2l30-51.3l10.6-24.7l19.5-63.2l10.2-34.1l19.9-42.3l15.2-54.9l5.2-97.3h-20.4h-30.1h-30.1h-30h-11.2l-17 97.3l-1.9 19.3l-14.6 77.9l-14.6 97.3l-0.9 10.9z" fill="#00f3ff"/>
<path d="M868.9 1039.5l1.6 0.5v-0.5v-77.8v-97.2v-97.3v-97.2v-97.3h-51.8l3.8 97.3l4 97.2l3.6 97.3l7.5 97.2zM321 961.7l7.9 12.8l30.1 5.6l14.5-18.4l15.6-22.7l30-51.4l9.9-23.1l20.2-65.5l9.5-31.8l20.6-43.8l14.8-53.4l5-97.3h-19.8h-30.1h-30.1h-30h-8.7l-18.9 97.3l-2.5 25.4l-13.5 71.8l-14.9 97.3l-1.7 19.5z" fill="#00fbff"/>
<path d="M321.8 961.7l7.1 11.4l30.1 5.7l13.5-17.1l16.6-24.2l30-51.6l9.2-21.4l20.9-67.8l8.8-29.5l21.3-45.2l14.4-52l4.9-97.3h-19.3h-30.1h-30.1h-30h-6.2l-20.8 97.3l-3.1 31.5l-12.3 65.7l-15.4 97.3l-2.4 28.1zM839.8 961.7l30.7 75.1v-75.1v-97.2v-97.3v-97.2v-97.3h-49.9l3.9 97.3l3.9 97.2l3.7 97.3z" fill="#04fffb"/>
<path d="M322.7 961.7l6.2 10l30.1 5.8l12.5-15.8l17.6-25.8l30-51.6l8.5-19.8l21.6-70.1l8.1-27.2l22-46.6l14-50.6l4.7-97.3h-18.7h-30.1h-30.1h-30h-3.7l-22.7 97.3l-3.7 37.6l-11.2 59.6l-15.8 97.3l-3.1 36.7zM842.1 961.7l28.4 69.6v-69.6v-97.2v-97.3v-97.2v-97.3h-48l3.9 97.3l4 97.2l3.7 97.3z" fill="#0cfff3"/>
<path d="M323.6 961.7l5.3 8.6l30.1 5.9l11.5-14.5l18.6-27.3l30-51.8l7.8-18.1l22.3-72.3l7.5-25l22.6-48.1l13.6-49.1l4.5-97.3h-18.1h-30.1h-30.1h-30h-1.3l-24.5 97.3l-4.3 43.6l-10.1 53.6l-16.1 97.3l-3.9 45.3zM844.4 961.7l26.1 64v-64v-97.2v-97.3v-97.2v-97.3h-46.1l3.9 97.3l4 97.2l3.9 97.3z" fill="#14ffeb"/>
<path d="M324.5 961.7l4.4 7.2l30.1 6l10.4-13.2l19.7-28.8l30-52l7.1-16.4l23-74.6l6.8-22.7l23.3-49.5l13.2-47.7l4.4-97.3h-17.6h-30.1h-30.1h-29.8l-0.2 1.2l-25.2 96.1l-4.9 49.7l-8.9 47.5l-16.6 97.3l-4.6 53.9zM846.6 961.7l23.9 58.5v-58.5v-97.2v-97.3v-97.2v-97.3h-44.2l4 97.3l4 97.2l3.9 97.3z" fill="#1cffe3"/>
<path d="M325.3 961.7l3.6 5.7l30.1 6.2l9.4-11.9l20.7-30.3l30-52.1l6.4-14.8l23.7-76.9l6.1-20.4l24-50.9l12.8-46.3l4.2-97.3h-17h-30.1h-30.1h-29.4l-0.6 3.4l-24.6 93.9l-5.5 55.8l-7.8 41.4l-16.9 97.3l-5.4 62.5zM848.9 961.7l21.6 53v-53v-97.2v-97.3v-97.2v-97.3h-42.3l4 97.3l4.1 97.2l3.9 97.3z" fill="#24ffdb"/>
<path d="M326.2 961.7l2.7 4.3l30.1 6.3l8.4-10.6l21.7-31.8l30-52.3l5.7-13.1l24.4-79.2l5.4-18.1l24.7-52.4l12.4-44.8l4.1-97.3h-16.5h-30.1h-30.1h-29l-1 5.7l-24 91.6l-6.1 61.9l-6.6 35.3l-17.4 97.3l-6.1 71.1zM851.1 961.7l19.4 47.5v-47.5v-97.2v-97.3v-97.2v-97.3h-40.4l4 97.3l4.1 97.2l4.1 97.3z" fill="#2cffd3"/>
<path d="M327.1 961.7l1.8 2.9l30.1 6.4l7.3-9.3l22.8-33.3l30-52.4l4.9-11.5l25.2-81.5l4.8-15.8l25.3-53.8l12-43.4l3.9-97.3h-15.9h-30.1h-30.1h-28.6l-1.4 8l-23.4 89.3l-6.7 67.9l-5.5 29.3l-17.7 97.3l-6.9 79.7zM853.4 961.7l17.1 41.9v-41.9v-97.2v-97.3v-97.2v-97.3h-38.5l4.1 97.3l4.1 97.2l4.1 97.3z" fill="#34ffcb"/>
<path d="M328 961.7l0.9 1.5l30.1 6.5l6.3-8l23.8-34.8l30-52.6l4.2-9.8l25.9-83.7l4.1-13.6l26-55.3l11.6-41.9l3.8-97.3h-15.4h-30.1h-30.1h-28.2l-1.8 10.3l-22.8 87l-7.3 74l-4.4 23.2l-18.1 97.3l-7.6 88.3zM855.6 961.7l14.9 36.4v-36.4v-97.2v-97.3v-97.2v-97.3h-36.5l4 97.3l4.1 97.2l4.2 97.3z" fill="#3cffc3"/>
<path d="M328.8 961.7l0.1 0.1l30.1 6.6l5.3-6.7l24.8-36.3l30-52.7l3.5-8.2l26.6-86l3.4-11.3l26.7-56.7l11.2-40.5l3.6-97.3h-14.8h-30.1h-30.1h-27.8l-2.2 12.6l-22.2 84.7l-7.9 80.1l-3.2 17.1l-18.6 97.3l-8.3 96.9zM857.9 961.7l12.6 30.9v-30.9v-97.2v-97.3v-97.2v-97.3h-34.6l4 97.3l4.2 97.2l4.2 97.3z" fill="#44ffbb"/>
<path d="M334.5 961.7l24.5 5.4l4.3-5.4l25.8-37.8l30-52.9l2.8-6.5l27.3-88.3l2.7-9l27.4-58.1l10.8-39.1l3.4-97.3h-14.2h-30.1h-30.1h-27.4l-2.6 14.8l-21.7 82.5l-8.4 86.2l-2.1 11l-18.9 97.3zM860.1 961.7l10.4 25.4v-25.4v-97.2v-97.3v-97.2v-97.3h-32.7l4.1 97.3l4.2 97.2l4.3 97.3z" fill="#4cffb3"/>
<path d="M340.4 961.7l18.6 4.1l3.2-4.1l26.9-39.3l30-53.1l2.1-4.8l28-90.6l2-6.7l28.1-59.6l10.4-37.6l3.3-97.3h-13.7h-30.1h-30.1h-27l-3 17.1l-21.1 80.2l-9 92.3l-1 4.9l-19.3 97.3zM862.4 961.7l8.1 19.8v-19.8v-97.2v-97.3v-97.2v-97.3h-30.8l4.1 97.3l4.2 97.2l4.4 97.3z" fill="#54ffab"/>
<path d="M346.3 961.7l12.7 2.8l2.2-2.8l27.9-40.8l30-53.2l1.4-3.2l28.7-92.9l1.4-4.4l28.7-61l10-36.2l3.1-97.3h-13.1h-30.1h-30.1h-26.6l-3.4 19.4l-20.5 77.9l-9.5 97.2l-0.1 0.7l-19.5 96.6zM864.7 961.7l5.8 14.3v-14.3v-97.2v-97.3v-97.2v-97.3h-28.9l4.1 97.3l4.3 97.2l4.4 97.3z" fill="#5cffa3"/>
<path d="M352.2 961.7l6.8 1.5l1.2-1.5l28.9-42.4l30-53.3l0.7-1.5l29.4-95.1l0.7-2.2l29.4-62.4l9.6-34.8l3-97.3h-12.6h-30.1h-30.1h-26.1l-3.9 21.7l-19.9 75.6l-9.5 97.2l-0.7 4.4l-18.8 92.9zM866.9 961.7l3.6 8.8v-8.8v-97.2v-97.3v-97.2v-97.3h-27l4.1 97.3l4.3 97.2l4.6 97.3z" fill="#64ff9b"/>
<path d="M358 961.7l1 0.2l0.1-0.2l30-43.9l30-53.3v-0.2l30.1-97.1v-0.1l30.1-63.8l9.2-33.3l2.8-97.3h-12h-30.1h-30.1h-25.7l-4.3 23.9l-19.3 73.4l-9.5 97.2l-1.3 8l-18 89.3zM869.2 961.7l1.3 3.3v-3.3v-97.2v-97.3v-97.2v-97.3h-25.1l4.2 97.3l4.3 97.2l4.6 97.3z" fill="#6cff93"/>
<path d="M341.7 864.5l17.3 93.8l30.1-42l29.2-51.8l0.8-3.2l29.2-94.1l0.9-3l30.1-62.3l8.9-31.9l2.6-97.3h-11.5h-30.1h-30.1h-25.3l-4.7 26.2l-18.7 71.1l-9.5 97.2l-1.9 11.7zM860.5 864.5l10 89.7v-89.7v-97.3v-97.2v-97.3h-23.2l4.2 97.3l4.3 97.2z" fill="#74ff8b"/>
<path d="M342.4 864.5l16.6 89.8l30.1-39.5l28.3-50.3l1.7-6.2l28.2-91.1l1.9-5.8l30.1-61l8.5-30.4l2.4-97.3h-10.9h-30.1h-30.1h-24.9l-5.1 28.5l-18.1 68.8l-9.5 97.2l-2.5 15.4zM862.5 864.5l8 71.4v-71.4v-97.3v-97.2v-97.3h-21.3l4.2 97.3l4.4 97.2z" fill="#7cff83"/>
<path d="M343.2 864.5l15.8 85.8l30.1-37l27.5-48.8l2.5-9.3l27.3-88l2.8-8.6l30.1-59.6l8.1-29l2.2-97.3h-10.3h-30.1h-30.1h-24.5l-5.5 30.8l-17.5 66.5l-9.5 97.2l-3.1 19.1zM864.6 864.5l5.9 53.2v-53.2v-97.3v-97.2v-97.3h-19.4l4.3 97.3l4.4 97.2z" fill="#83ff7c"/>
<path d="M343.9 864.5l15.1 81.7l30.1-34.4l26.6-47.3l3.4-12.3l26.4-85l3.7-11.4l30.1-58.2l7.7-27.6l2.1-97.3h-9.8h-30.1h-30.1h-24.1l-5.9 33.1l-16.9 64.2l-9.5 97.2l-3.7 22.7zM866.6 864.5l3.9 35v-35v-97.3v-97.2v-97.3h-17.5l4.3 97.3l4.4 97.2z" fill="#8bff74"/>
<path d="M344.7 864.5l14.3 77.7l30.1-31.9l25.8-45.8l4.2-15.3l25.4-82l4.7-14.2l30.1-56.9l7.3-26.1l1.9-97.3h-9.2h-30.1h-30.1h-23.7l-6.3 35.3l-16.3 62l-9.5 97.2l-4.3 26.4zM868.6 864.5l1.9 16.7v-16.7v-97.3v-97.2v-97.3h-15.6l4.3 97.3l4.5 97.2z" fill="#93ff6c"/>
<path d="M345.4 864.5l13.6 73.7l30.1-29.4l24.9-44.3l5.1-18.3l24.5-79l5.6-17l30.1-55.5l6.9-24.7l1.8-97.3h-8.7h-30.1h-30.1h-23.3l-6.7 37.6l-15.7 59.7l-9.5 97.2l-4.9 30.1zM865.6 767.2l4.9 94.2v-94.2v-97.2v-97.3h-13.7l4.4 97.3z" fill="#9bff64"/>
<path d="M346.2 864.5l12.8 69.6l30.1-26.8l24.1-42.8l5.9-21.3l23.6-76l6.5-19.8l30.1-54.2l6.5-23.2l1.6-97.3h-8.1h-30.1h-30.1h-22.9l-7.1 39.9l-15.1 57.4l-9.5 97.2l-5.5 33.8zM867.6 767.2l2.9 56.2v-56.2v-97.2v-97.3h-11.8l4.4 97.3z" fill="#a3ff5c"/>
<path d="M346.9 864.5l12.1 65.6l30.1-24.3l23.2-41.3l6.8-24.4l22.6-72.9l7.5-22.7l30.1-52.7l6.1-21.8l1.5-97.3h-7.6h-30.1h-30.1h-22.5l-7.5 42.2l-14.5 55.1l-9.5 97.2l-6.1 37.5zM869.6 767.2l0.9 18.2v-18.2v-97.2v-97.3h-9.9l4.4 97.3z" fill="#abff54"/>
<path d="M347.6 864.5l11.4 61.5l30.1-21.8l22.4-39.7l7.6-27.4l21.7-69.9l8.4-25.5l30.1-51.3l5.7-20.4l1.3-97.3h-7h-30.1h-30.1h-22l-8 44.5l-13.9 52.8l-9.5 97.2l-6.7 41.1zM867 670l3.5 75.7v-75.7v-97.3h-8z" fill="#b3ff4c"/>
<path d="M348.4 864.5l10.6 57.5l30.1-19.3l21.5-38.2l8.5-30.4l20.7-66.9l9.4-28.3l30.1-50l5.3-18.9l1.1-97.3h-6.4h-30.1h-30.1h-21.6l-8.4 46.7l-13.3 50.6l-9.5 97.2l-7.3 44.8zM868.9 670l1.6 34.2v-34.2v-97.3h-6z" fill="#bbff44"/>
<path d="M349.1 864.5l9.9 53.5l30.1-16.8l20.7-36.7l9.3-33.4l19.8-63.9l10.3-31.1l30.1-48.6l4.9-17.5l1-97.3h-5.9h-30.1h-30.1h-21.2l-8.8 49l-12.7 48.3l-9.5 97.2l-7.9 48.5zM866.4 572.7l4.1 90.1v-90.1z" fill="#c3ff3c"/>
<path d="M349.9 864.5l9.1 49.4l30.1-14.2l19.8-35.2l10.2-36.4l18.9-60.9l11.2-33.9l30.1-47.2l4.5-16.1l0.8-97.3h-5.3h-30.1h-30.1h-20.8l-9.2 51.3l-12.1 46l-9.5 97.2l-8.5 52.2zM868.3 572.7l2.2 48.6v-48.6z" fill="#cbff34"/>
<path d="M350.6 864.5l8.4 45.4l30.1-11.7l19-33.7l11-39.5l17.9-57.8l12.2-36.7l30.1-45.9l4.1-14.6l0.7-97.3h-4.8h-30.1h-30.1h-20.4l-9.6 53.6l-11.5 43.7l-9.5 97.2l-9.1 55.8zM870.2 572.7l0.3 7.2v-7.2z" fill="#d3ff2c"/>
<path d="M351.3 864.5l7.7 41.4l30.1-9.2l18.1-32.2l11.9-42.5l17-54.8l13.1-39.5l30.1-44.5l3.7-13.2l0.5-97.3h-4.2h-30.1h-30.1h-20l-10 55.9l-10.9 41.4l-9.5 97.2l-9.7 59.5z" fill="#dbff24"/>
<path d="M352.1 864.5l6.9 37.3l30.1-6.6l17.3-30.7l12.7-45.5l16.1-51.8l14-42.4l30.1-43.1l3.3-11.7l0.4-97.3h-3.7h-30.1h-30.1h-19.6l-10.4 58.1l-10.3 39.2l-9.5 97.2l-10.3 63.2z" fill="#e3ff1c"/>
<path d="M352.8 864.5l6.2 33.3l30.1-4.1l16.4-29.2l13.6-48.5l15.1-48.8l15-45.2l30.1-41.7l2.9-10.3l0.2-97.3h-3.1h-30.1h-30.1h-19.2l-10.8 60.4l-9.7 36.9l-9.5 97.2l-10.9 66.9z" fill="#ebff14"/>
<path d="M353.6 864.5l5.4 29.3l30.1-1.6l15.6-27.7l14.4-51.5l14.2-45.8l15.9-48l30.1-40.3l2.5-8.9v-97.3h-2.5h-30.1h-30.1h-18.8l-11.2 62.7l-9.1 34.6l-9.5 97.2l-11.5 70.5z" fill="#f3ff0c"/>
<path d="M354.3 864.5l4.7 25.2l30.1 1l14.7-26.2l15.3-54.5l13.3-42.8l16.8-50.8l30.1-39l2.1-7.4l-0.1-97.3h-2h-30.1h-30.1h-18.4l-11.6 65l-8.5 32.3l-9.5 97.2l-12.1 74.2z" fill="#fbff04"/>
<path d="M355.1 864.5l3.9 21.2l30.1 3.5l13.9-24.7l16.1-57.6l12.3-39.7l17.8-53.6l30.1-37.6l1.7-6l-0.3-97.3h-1.4h-30.1h-30.1h-17.9l-12.1 67.3l-7.9 30l-9.5 97.2l-12.7 77.9z" fill="#fffb00"/>
<path d="M355.8 864.5l3.2 17.2l30.1 5.9l13-23.1l17-60.6l11.4-36.7l18.7-56.4l30.1-36.2l1.3-4.6l-0.4-97.3h-0.9h-30.1h-30.1h-17.5l-12.5 69.5l-7.3 27.8l-9.5 97.2l-13.3 81.6z" fill="#fff300"/>
<path d="M356.5 864.5l2.5 13.1l30.1 8.5l12.2-21.6l17.8-63.6l10.5-33.7l19.6-59.2l30.1-34.9l0.9-3.1l-0.6-97.3h-0.3h-30.1h-30.1h-17.1l-12.9 71.8l-6.7 25.5l-9.5 97.2l-13.9 85.2z" fill="#ffeb00"/>
<path d="M357.3 864.5l1.7 9.1l30.1 11l11.3-20.1l18.7-66.6l9.5-30.7l20.6-62.1l30.1-33.4l0.5-1.7l-0.5-68.4l-0.4-28.9h-29.7h-30.1h-16.7l-13.3 74.1l-6.1 23.2l-9.5 97.2l-14.5 88.9z" fill="#ffe300"/>
<path d="M358 864.5l1 5.1l30.1 13.5l10.5-18.6l19.5-69.6l8.6-27.7l21.5-64.9l30.1-32.1l0.1-0.2l-0.1-11.4l-1.4-85.9h-28.7h-30.1h-16.3l-13.7 76.4l-5.5 20.9l-9.4 97.2l-15.2 92.6z" fill="#ffdb00"/>
<path d="M358.8 864.5l0.2 1l30.1 16.1l9.6-17.1l20.4-72.7l7.7-24.6l22.4-67.7l28-29.5l-0.2-97.3h-27.8h-30.1h-15.9l-14.1 78.7l-4.9 18.6l-9.4 97.2l-15.8 96.3z" fill="#ffd300"/>
<path d="M361 864.5l28.1 15.6l8.8-15.6l21.2-75.7l6.7-21.6l23.4-70.5l25.3-26.7l1.6-97.3h-26.9h-30.1h-15.5l-14.5 80.9l-4.3 16.4l-9.4 97.2z" fill="#ffcb00"/>
<path d="M363.7 864.5l25.4 14.1l7.9-14.1l22.1-78.7l5.8-18.6l24.3-73.3l22.7-23.9l3.2-97.3h-25.9h-30.1h-15.1l-14.9 83.2l-3.7 14.1l-9.4 97.2z" fill="#ffc300"/>
<path d="M366.4 864.5l22.7 12.6l7.1-12.6l22.9-81.7l4.9-15.6l25.2-76.1l20-21.1l5-97.3h-25h-30.1h-14.7l-15.3 85.5l-3.1 11.8l-9.4 97.2z" fill="#ffbb00"/>
<path d="M369.1 864.5l20 11.1l6.2-11.1l23.8-84.7l3.9-12.6l26.2-78.9l17.4-18.3l6.7-97.3h-24.1h-30.1h-14.3l-15.7 87.8l-2.5 9.5l-9.4 97.2z" fill="#ffb300"/>
<path d="M371.8 864.5l17.3 9.6l5.4-9.6l24.6-87.8l3-9.5l27.1-81.8l14.7-15.4l8.4-97.3h-23.1h-30.1h-13.8l-16.2 90l-1.9 7.3l-9.4 97.2z" fill="#ffab00"/>
<path d="M374.5 864.5l14.6 8l4.5-8l25.5-90.8l2.1-6.5l28-84.6l12-12.6l10.2-97.3h-22.2h-30.1h-13.4l-16.6 92.3l-1.3 5l-9.4 97.2z" fill="#ffa300"/>
<path d="M377.2 864.5l11.9 6.5l3.7-6.5l26.3-93.8l1.1-3.5l29-87.4l9.4-9.8l11.8-97.3h-21.2h-30.1h-13l-17 94.6l-0.7 2.7l-9.4 97.2z" fill="#ff9b00"/>
<path d="M379.9 864.5l9.2 5l2.8-5l27.2-96.8l0.2-0.5l29.9-90.2l6.7-7l13.6-97.3h-20.3h-30.1h-12.6l-17.4 96.9l-0.1 0.4l-9.4 97.2z" fill="#ff9300"/>
<path d="M382.7 864.5l6.4 3.5l2-3.5l26.4-97.3l1.6-2.7l30.1-90.3l4-4.2l15.4-97.3h-19.4h-30.1h-12.2l-17 97.3l-0.8 5.2l-8.9 92z" fill="#ff8b00"/>
<path d="M385.4 864.5l3.7 2l1.1-2l25.4-97.3l3.5-5.9l30.1-89.9l1.4-1.4l17-97.3h-18.4h-30.1h-11.8l-16.4 97.3l-1.8 11.4l-8.3 85.8z" fill="#ff8300"/>
<path d="M388.1 864.5l1 0.5l0.3-0.5l24.3-97.3l5.4-9.1l29.6-88.1l0.5-2.5l17.5-94.8h-17.5h-30.1h-11.4l-15.8 97.3l-2.8 17.7l-7.7 79.5z" fill="#ff7c00"/>
<path d="M382 767.2l7.1 92.2l22.6-92.2l7.4-12.3l28.5-84.9l1.6-7.6l16.6-89.7h-16.6h-30.1h-11l-15.2 97.3l-3.8 23.9z" fill="#ff7400"/>
<path d="M382.6 767.2l6.5 84.4l20.7-84.4l9.3-15.5l27.5-81.7l2.6-12.7l15.6-84.6h-15.6h-30.1h-10.6l-14.6 97.3l-4.8 30.2z" fill="#ff6c00"/>
<path d="M383.2 767.2l5.9 76.5l18.8-76.5l11.2-18.7l26.4-78.5l3.7-17.7l14.7-79.6h-14.7h-30.1h-10.2l-14 97.3l-5.8 36.4z" fill="#ff6400"/>
<path d="M383.8 767.2l5.3 68.6l16.8-68.6l13.2-22l25.3-75.2l4.8-22.8l13.8-74.5h-13.8h-30.1h-9.7l-13.5 97.3l-6.8 42.7z" fill="#ff5c00"/>
<path d="M384.4 767.2l4.7 60.8l14.9-60.8l15.2-25.2l24.1-72l5.9-27.9l12.8-69.4h-12.8h-30.1h-9.3l-13 97.3l-7.7 48.9z" fill="#ff5400"/>
<path d="M385 767.2l4.1 52.9l13-52.9l17-28.4l23.1-68.8l7-32.9l11.9-64.4h-11.9h-30.1h-8.9l-12.4 97.3l-8.7 55.2z" fill="#ff4c00"/>
<path d="M385.6 767.2l3.5 45.1l11-45.1l19-31.6l22.1-65.6l8-38l11-59.3h-11h-30.1h-8.5l-11.8 97.3l-9.7 61.4z" fill="#ff4400"/>
<path d="M386.2 767.2l2.9 37.2l9.1-37.2l20.9-34.8l21-62.4l9.1-43.1l10-54.2h-10h-30.1h-8.1l-11.2 97.3l-10.7 67.6z" fill="#ff3c00"/>
<path d="M386.8 767.2l2.3 29.3l7.2-29.3l-7.2-23.3zM400.8 670l18.3 59.2l19.9-59.2l10.2-48.1l9.1-49.2h-9.1h-30.1h-7.7z" fill="#ff3400"/>
<path d="M387.4 767.2l1.7 21.5l5.2-21.5l-5.2-17.1zM401.8 670l17.3 56l18.8-56l11.3-53.2l8.2-44.1h-8.2h-30.1h-7.3z" fill="#ff2c00"/>
<path d="M388 767.2l1.1 13.6l3.3-13.6l-3.3-10.8zM402.8 670l16.3 52.8l17.8-52.8l12.3-58.3l7.2-39h-7.2h-30.1h-6.9z" fill="#ff2400"/>
<path d="M388.6 767.2l0.5 5.8l1.4-5.8l-1.4-4.6zM403.8 670l15.3 49.6l16.7-49.6l13.4-63.3l6.3-34h-6.3h-30.1h-6.5z" fill="#ff1c00"/>
<path d="M404.8 670l14.3 46.4l15.6-46.4l14.5-68.4l5.4-28.9h-5.4h-30.1h-6.1z" fill="#ff1400"/>
<path d="M405.8 670l13.3 43.1l14.5-43.1l15.6-73.5l4.4-23.8h-4.4h-30.1h-5.6z" fill="#ff0c00"/>
<path d="M406.8 670l12.3 39.9l13.5-39.9l16.6-78.5l3.5-18.8h-3.5h-30.1h-5.2z" fill="#ff0400"/>
<path d="M407.8 670l11.3 36.7l12.4-36.7l17.7-83.6l2.6-13.7h-2.6h-30.1h-4.8z" fill="#fb0000"/>
<path d="M408.8 670l10.3 33.5l11.3-33.5l18.8-88.7l1.6-8.6h-1.6h-30.1h-4.4z" fill="#f30000"/>
<path d="M409.8 670l9.3 30.3l10.2-30.3l19.9-93.7l0.7-3.6h-0.7h-30.1h-4z" fill="#eb0000"/>
<path d="M410.8 670l8.3 27.1l9.2-27.1l20-97.3h-29.2h-3.6z" fill="#e30000"/>
<path d="M411.7 670l7.4 23.9l8.1-23.9l17.8-97.3h-25.9h-3.2z" fill="#db0000"/>
<path d="M412.7 670l6.4 20.7l7-20.7l15.6-97.3h-22.6h-2.8z" fill="#d30000"/>
<path d="M413.7 670l5.4 17.5l5.9-17.5l13.4-97.3h-19.3h-2.4z" fill="#cb0000"/>
<path d="M414.7 670l4.4 14.2l4.8-14.2l11.3-97.3h-16.1h-2z" fill="#c30000"/>
<path d="M415.7 670l3.4 11l3.8-11l9-97.3h-12.8h-1.5z" fill="#bb0000"/>
<path d="M416.7 670l2.4 7.8l2.7-7.8l6.8-97.3h-9.5h-1.1z" fill="#b30000"/>
<path d="M417.7 670l1.4 4.6l1.6-4.6l4.6-97.3h-6.2h-0.7z" fill="#ab0000"/>
<path d="M418.7 670l0.4 1.4l0.5-1.4l2.4-97.3h-2.9h-0.3z" fill="#a30000"/>
</g>
<rect x="268.7" y="572.7" width="601.8" height="481.4" fill="none" stroke="#222" stroke-opacity=".45" stroke-width="1.4"/>
<path d="M268.7 961.71h5M870.5 961.71h-5M268.7 864.46h5M870.5 864.46h-5M268.7 767.21h5M870.5 767.21h-5M268.7 669.95h5M870.5 669.95h-5M389.06 1054.1v-5M389.06 572.7v5M509.42 1054.1v-5M509.42 572.7v5M629.78 1054.1v-5M629.78 572.7v5M750.14 1054.1v-5M750.14 572.7v5" stroke="#111" stroke-opacity=".6" stroke-width="1.2" fill="none"/>
<text x="260.2" y="973.51" font-size="28" text-anchor="end" fill="#1a1a1a">1</text>
<text x="260.2" y="876.26" font-size="28" text-anchor="end" fill="#1a1a1a">2</text>
<text x="260.2" y="779.01" font-size="28" text-anchor="end" fill="#1a1a1a">3</text>
<text x="260.2" y="681.75" font-size="28" text-anchor="end" fill="#1a1a1a">4</text>
<text x="260.2" y="584.5" font-size="28" text-anchor="end" fill="#1a1a1a">5</text>
<text x="232.8" y="961" font-size="31" textLength="295" lengthAdjust="spacingAndGlyphs" transform="rotate(-90 232.8 961)" fill="#1a1a1a">Charging current  /  C</text>
<rect x="177.2" y="575.2" width="5.4" height="480.6" fill="#000"/>
<text x="160.4" y="589.9" font-size="27.5" text-anchor="end" fill="#1a1a1a">12</text>
<text x="160.4" y="781.7" font-size="27.5" text-anchor="end" fill="#1a1a1a">20</text>
<text x="158.2" y="979.6" font-size="27.5" text-anchor="end" fill="#1a1a1a">60</text>
<g transform="translate(92.2 949.5) rotate(-90)" font-size="34" fill="#1a1a1a" lengthAdjust="spacingAndGlyphs"><text x="0" y="0" textLength="131.5" lengthAdjust="spacingAndGlyphs">Charging</text><text x="134.3" y="0" textLength="59.5" lengthAdjust="spacingAndGlyphs">time</text><text x="210" y="0">/</text><text x="237.5" y="0" textLength="53.5" lengthAdjust="spacingAndGlyphs">min</text></g>
<text x="2.8" y="599.9" font-size="30.5" textLength="28.6" lengthAdjust="spacingAndGlyphs" fill="#1a1a1a">b)</text>
<text x="604.1" y="620.2" font-size="31.9" font-weight="bold" fill="#fff">Plating ON</text>
<g shape-rendering="crispEdges">
<rect x="897" y="1046.58" width="23.2" height="7.52" fill="#00008f"/>
<rect x="897" y="1039.06" width="23.2" height="8.12" fill="#00009f"/>
<rect x="897" y="1031.53" width="23.2" height="8.12" fill="#0000af"/>
<rect x="897" y="1024.01" width="23.2" height="8.12" fill="#0000bf"/>
<rect x="897" y="1016.49" width="23.2" height="8.12" fill="#0000cf"/>
<rect x="897" y="1008.97" width="23.2" height="8.12" fill="#0000df"/>
<rect x="897" y="1001.45" width="23.2" height="8.12" fill="#0000ef"/>
<rect x="897" y="993.92" width="23.2" height="8.12" fill="#0000ff"/>
<rect x="897" y="986.4" width="23.2" height="8.12" fill="#0010ff"/>
<rect x="897" y="978.88" width="23.2" height="8.12" fill="#0020ff"/>
<rect x="897" y="971.36" width="23.2" height="8.12" fill="#0030ff"/>
<rect x="897" y="963.84" width="23.2" height="8.12" fill="#0040ff"/>
<rect x="897" y="956.32" width="23.2" height="8.12" fill="#0050ff"/>
<rect x="897" y="948.79" width="23.2" height="8.12" fill="#0060ff"/>
<rect x="897" y="941.27" width="23.2" height="8.12" fill="#0070ff"/>
<rect x="897" y="933.75" width="23.2" height="8.12" fill="#0080ff"/>
<rect x="897" y="926.23" width="23.2" height="8.12" fill="#008fff"/>
<rect x="897" y="918.71" width="23.2" height="8.12" fill="#009fff"/>
<rect x="897" y="911.18" width="23.2" height="8.12" fill="#00afff"/>
<rect x="897" y="903.66" width="23.2" height="8.12" fill="#00bfff"/>
<rect x="897" y="896.14" width="23.2" height="8.12" fill="#00cfff"/>
<rect x="897" y="888.62" width="23.2" height="8.12" fill="#00dfff"/>
<rect x="897" y="881.1" width="23.2" height="8.12" fill="#00efff"/>
<rect x="897" y="873.57" width="23.2" height="8.12" fill="#00ffff"/>
<rect x="897" y="866.05" width="23.2" height="8.12" fill="#10ffef"/>
<rect x="897" y="858.53" width="23.2" height="8.12" fill="#20ffdf"/>
<rect x="897" y="851.01" width="23.2" height="8.12" fill="#30ffcf"/>
<rect x="897" y="843.49" width="23.2" height="8.12" fill="#40ffbf"/>
<rect x="897" y="835.97" width="23.2" height="8.12" fill="#50ffaf"/>
<rect x="897" y="828.44" width="23.2" height="8.12" fill="#60ff9f"/>
<rect x="897" y="820.92" width="23.2" height="8.12" fill="#70ff8f"/>
<rect x="897" y="813.4" width="23.2" height="8.12" fill="#80ff80"/>
<rect x="897" y="805.88" width="23.2" height="8.12" fill="#8fff70"/>
<rect x="897" y="798.36" width="23.2" height="8.12" fill="#9fff60"/>
<rect x="897" y="790.83" width="23.2" height="8.12" fill="#afff50"/>
<rect x="897" y="783.31" width="23.2" height="8.12" fill="#bfff40"/>
<rect x="897" y="775.79" width="23.2" height="8.12" fill="#cfff30"/>
<rect x="897" y="768.27" width="23.2" height="8.12" fill="#dfff20"/>
<rect x="897" y="760.75" width="23.2" height="8.12" fill="#efff10"/>
<rect x="897" y="753.23" width="23.2" height="8.12" fill="#ffff00"/>
<rect x="897" y="745.7" width="23.2" height="8.12" fill="#ffef00"/>
<rect x="897" y="738.18" width="23.2" height="8.12" fill="#ffdf00"/>
<rect x="897" y="730.66" width="23.2" height="8.12" fill="#ffcf00"/>
<rect x="897" y="723.14" width="23.2" height="8.12" fill="#ffbf00"/>
<rect x="897" y="715.62" width="23.2" height="8.12" fill="#ffaf00"/>
<rect x="897" y="708.09" width="23.2" height="8.12" fill="#ff9f00"/>
<rect x="897" y="700.57" width="23.2" height="8.12" fill="#ff8f00"/>
<rect x="897" y="693.05" width="23.2" height="8.12" fill="#ff8000"/>
<rect x="897" y="685.53" width="23.2" height="8.12" fill="#ff7000"/>
<rect x="897" y="678.01" width="23.2" height="8.12" fill="#ff6000"/>
<rect x="897" y="670.48" width="23.2" height="8.12" fill="#ff5000"/>
<rect x="897" y="662.96" width="23.2" height="8.12" fill="#ff4000"/>
<rect x="897" y="655.44" width="23.2" height="8.12" fill="#ff3000"/>
<rect x="897" y="647.92" width="23.2" height="8.12" fill="#ff2000"/>
<rect x="897" y="640.4" width="23.2" height="8.12" fill="#ff1000"/>
<rect x="897" y="632.88" width="23.2" height="8.12" fill="#ff0000"/>
<rect x="897" y="625.35" width="23.2" height="8.12" fill="#ef0000"/>
<rect x="897" y="617.83" width="23.2" height="8.12" fill="#df0000"/>
<rect x="897" y="610.31" width="23.2" height="8.12" fill="#cf0000"/>
<rect x="897" y="602.79" width="23.2" height="8.12" fill="#bf0000"/>
<rect x="897" y="595.27" width="23.2" height="8.12" fill="#af0000"/>
<rect x="897" y="587.74" width="23.2" height="8.12" fill="#9f0000"/>
<rect x="897" y="580.22" width="23.2" height="8.12" fill="#8f0000"/>
<rect x="897" y="572.7" width="23.2" height="8.12" fill="#800000"/>
</g>
<rect x="897" y="572.7" width="23.2" height="481.4" fill="none" stroke="#222" stroke-opacity=".45" stroke-width="1.4"/>
<text x="928" y="1065.4" font-size="26" fill="#1a1a1a">0</text>
<text x="928" y="985.17" font-size="26" fill="#1a1a1a">10</text>
<text x="928" y="904.93" font-size="26" fill="#1a1a1a">20</text>
<text x="928" y="824.7" font-size="26" fill="#1a1a1a">30</text>
<text x="928" y="744.47" font-size="26" fill="#1a1a1a">40</text>
<text x="928" y="664.23" font-size="26" fill="#1a1a1a">50</text>
<text x="928" y="584" font-size="26" fill="#1a1a1a">60</text>
<path d="M920.2 973.87h-4M920.2 893.63h-4M920.2 813.4h-4M920.2 733.17h-4M920.2 652.93h-4" stroke="#111" stroke-opacity=".7" stroke-width="1.2" fill="none"/>
<text x="990.3" y="988.7" font-size="28" textLength="350" lengthAdjust="spacingAndGlyphs" transform="rotate(-90 990.3 988.7)" fill="#1a1a1a">Capacity loss % after 1 year</text>
<rect x="1039.7" y="572.7" width="682.4" height="481.4" fill="none" stroke="#434343" stroke-width="2.2"/>
<path d="M1176.18 1054.1v-8M1176.18 572.7v8M1312.66 1054.1v-8M1312.66 572.7v8M1449.14 1054.1v-8M1449.14 572.7v8M1585.62 1054.1v-8M1585.62 572.7v8M1722.1 957.82h-8M1722.1 861.54h-8M1722.1 765.26h-8M1722.1 668.98h-8" stroke="#434343" stroke-width="1.8" fill="none"/>
<g clip-path="url(#lc1)">
<polyline points="1039.7,1053.62 1073.82,1051.69 1107.94,1053.71 1142.06,1053.62 1176.18,1053.38 1210.3,1053.14 1244.42,1052.66 1278.54,1052.17 1312.66,1051.69 1346.78,1050.73 1380.9,1049.77 1449.14,1046.88 1517.38,1039.18 1585.62,1026.18 1653.86,1007.4 1722.1,981.89" fill="none" stroke="#0000ff" stroke-width="3.4" stroke-linejoin="round"/>
<path d="M1034.7 1048.62h10v10h-10zM1068.82 1046.69h10v10h-10zM1102.94 1048.71h10v10h-10zM1137.06 1048.62h10v10h-10zM1171.18 1048.38h10v10h-10zM1205.3 1048.14h10v10h-10zM1239.42 1047.66h10v10h-10zM1273.54 1047.17h10v10h-10zM1307.66 1046.69h10v10h-10zM1341.78 1045.73h10v10h-10zM1375.9 1044.77h10v10h-10zM1444.14 1041.88h10v10h-10zM1512.38 1034.18h10v10h-10zM1580.62 1021.18h10v10h-10zM1648.86 1002.4h10v10h-10zM1717.1 976.89h10v10h-10z" fill="#0000ff"/>
<polyline points="1039.7,1040.62 1073.82,1045.92 1107.94,1053.62 1142.06,1053.57 1176.18,1053.33 1210.3,1053.04 1244.42,1052.56 1278.54,1052.08 1312.66,1051.45 1346.78,1050.49 1380.9,1049.29 1449.14,1045.43 1517.38,1035.81 1585.62,1021.36 1653.86,992 1722.1,949.15" fill="none" stroke="#0080ff" stroke-width="3.4" stroke-linejoin="round"/>
<path d="M1034.7 1035.62h10v10h-10zM1068.82 1040.92h10v10h-10zM1102.94 1048.62h10v10h-10zM1137.06 1048.57h10v10h-10zM1171.18 1048.33h10v10h-10zM1205.3 1048.04h10v10h-10zM1239.42 1047.56h10v10h-10zM1273.54 1047.08h10v10h-10zM1307.66 1046.45h10v10h-10zM1341.78 1045.49h10v10h-10zM1375.9 1044.29h10v10h-10zM1444.14 1040.43h10v10h-10zM1512.38 1030.81h10v10h-10zM1580.62 1016.36h10v10h-10zM1648.86 987h10v10h-10zM1717.1 944.15h10v10h-10z" fill="#0080ff"/>
<polyline points="1039.7,1015.11 1073.82,1007.4 1107.94,929.9 1142.06,918.35 1176.18,984.3 1210.3,1051.21 1244.42,1052.27 1278.54,1051.69 1312.66,1050.73 1346.78,1049.67 1380.9,1048.56 1449.14,1043.51 1517.38,1032.44 1585.62,1014.63 1653.86,977.56 1722.1,917.38" fill="none" stroke="#00ffff" stroke-width="3.4" stroke-linejoin="round"/>
<path d="M1034.7 1010.11h10v10h-10zM1068.82 1002.4h10v10h-10zM1102.94 924.9h10v10h-10zM1137.06 913.35h10v10h-10zM1171.18 979.3h10v10h-10zM1205.3 1046.21h10v10h-10zM1239.42 1047.27h10v10h-10zM1273.54 1046.69h10v10h-10zM1307.66 1045.73h10v10h-10zM1341.78 1044.67h10v10h-10zM1375.9 1043.56h10v10h-10zM1444.14 1038.51h10v10h-10zM1512.38 1027.44h10v10h-10zM1580.62 1009.63h10v10h-10zM1648.86 972.56h10v10h-10zM1717.1 912.38h10v10h-10z" fill="#00ffff"/>
<polyline points="1039.7,1034.84 1073.82,998.74 1107.94,955.41 1142.06,863.95 1176.18,838.91 1210.3,918.83 1244.42,1015.11 1278.54,1049.77 1312.66,1049.67 1346.78,1048.8 1380.9,1047.6 1449.14,1042.06 1517.38,1030.03 1585.62,1009.33 1653.86,972.26 1722.1,905.35" fill="none" stroke="#80ff80" stroke-width="3.4" stroke-linejoin="round"/>
<path d="M1034.7 1029.84h10v10h-10zM1068.82 993.74h10v10h-10zM1102.94 950.41h10v10h-10zM1137.06 858.95h10v10h-10zM1171.18 833.91h10v10h-10zM1205.3 913.83h10v10h-10zM1239.42 1010.11h10v10h-10zM1273.54 1044.77h10v10h-10zM1307.66 1044.67h10v10h-10zM1341.78 1043.8h10v10h-10zM1375.9 1042.6h10v10h-10zM1444.14 1037.06h10v10h-10zM1512.38 1025.03h10v10h-10zM1580.62 1004.33h10v10h-10zM1648.86 967.26h10v10h-10zM1717.1 900.35h10v10h-10z" fill="#80ff80"/>
<polyline points="1039.7,1043.51 1073.82,1021.85 1107.94,983.33 1142.06,923.64 1176.18,810.99 1210.3,846.14 1244.42,918.83 1278.54,1018.96 1312.66,1048.56 1346.78,1047.84 1380.9,1046.64 1449.14,1040.62 1517.38,1028.1 1585.62,1006.92 1653.86,968.89 1722.1,899.57" fill="none" stroke="#ffd500" stroke-width="3.4" stroke-linejoin="round"/>
<path d="M1034.7 1038.51h10v10h-10zM1068.82 1016.85h10v10h-10zM1102.94 978.33h10v10h-10zM1137.06 918.64h10v10h-10zM1171.18 805.99h10v10h-10zM1205.3 841.14h10v10h-10zM1239.42 913.83h10v10h-10zM1273.54 1013.96h10v10h-10zM1307.66 1043.56h10v10h-10zM1341.78 1042.84h10v10h-10zM1375.9 1041.64h10v10h-10zM1444.14 1035.62h10v10h-10zM1512.38 1023.1h10v10h-10zM1580.62 1001.92h10v10h-10zM1648.86 963.89h10v10h-10zM1717.1 894.57h10v10h-10z" fill="#ffd500"/>
<polyline points="1039.7,1049.29 1073.82,1038.21 1107.94,1001.63 1142.06,959.75 1176.18,846.14 1210.3,777.78 1244.42,840.84 1278.54,866.35 1312.66,1037.25 1346.78,1046.88 1380.9,1045.68 1449.14,1039.66 1517.38,1026.66 1585.62,1004.03 1653.86,964.56 1722.1,894.28" fill="none" stroke="#ff8000" stroke-width="3.4" stroke-linejoin="round"/>
<path d="M1034.7 1044.29h10v10h-10zM1068.82 1033.21h10v10h-10zM1102.94 996.63h10v10h-10zM1137.06 954.75h10v10h-10zM1171.18 841.14h10v10h-10zM1205.3 772.78h10v10h-10zM1239.42 835.84h10v10h-10zM1273.54 861.35h10v10h-10zM1307.66 1032.25h10v10h-10zM1341.78 1041.88h10v10h-10zM1375.9 1040.68h10v10h-10zM1444.14 1034.66h10v10h-10zM1512.38 1021.66h10v10h-10zM1580.62 999.03h10v10h-10zM1648.86 959.56h10v10h-10zM1717.1 889.28h10v10h-10z" fill="#ff8000"/>
<polyline points="1039.7,1051.69 1073.82,1044.95 1107.94,1020.88 1142.06,969.85 1176.18,942.42 1210.3,776.81 1244.42,797.51 1278.54,870.21 1312.66,992 1346.78,1045.92 1380.9,1044.66 1449.14,1038.21 1517.38,1024.73 1585.62,1000.66 1653.86,960.23 1722.1,888.98" fill="none" stroke="#ff0000" stroke-width="3.4" stroke-linejoin="round"/>
<path d="M1034.7 1046.69h10v10h-10zM1068.82 1039.95h10v10h-10zM1102.94 1015.88h10v10h-10zM1137.06 964.85h10v10h-10zM1171.18 937.42h10v10h-10zM1205.3 771.81h10v10h-10zM1239.42 792.51h10v10h-10zM1273.54 865.21h10v10h-10zM1307.66 987h10v10h-10zM1341.78 1040.92h10v10h-10zM1375.9 1039.66h10v10h-10zM1444.14 1033.21h10v10h-10zM1512.38 1019.73h10v10h-10zM1580.62 995.66h10v10h-10zM1648.86 955.23h10v10h-10zM1717.1 883.98h10v10h-10z" fill="#ff0000"/>
</g>
<text x="1730.7" y="1064.4" font-size="28" fill="#1a1a1a">0</text>
<text x="1730.7" y="968.12" font-size="28" fill="#1a1a1a">20</text>
<text x="1730.7" y="871.84" font-size="28" fill="#1a1a1a">40</text>
<text x="1730.7" y="775.56" font-size="28" fill="#1a1a1a">60</text>
<text x="1730.7" y="679.28" font-size="28" fill="#1a1a1a">80</text>
<text x="1730.7" y="583" font-size="28" fill="#1a1a1a">100</text>
<text x="1808.5" y="1002.1" font-size="28" textLength="362" lengthAdjust="spacingAndGlyphs" transform="rotate(-90 1808.5 1002.1)" fill="#1a1a1a">Capacity loss % after 1 year</text>
<path d="M1054.9 602.3H1097.2" stroke="#0000ff" stroke-width="3.4"/>
<rect x="1071.3" y="597.3" width="10" height="10" fill="#0000ff"/>
<text x="1099" y="614.3" font-size="29.5" textLength="70.6" lengthAdjust="spacingAndGlyphs" fill="#111">0.05C</text>
<path d="M1054.9 635.65H1097.2" stroke="#0080ff" stroke-width="3.4"/>
<rect x="1071.3" y="630.65" width="10" height="10" fill="#0080ff"/>
<text x="1099" y="647.65" font-size="29.5" textLength="55.88" lengthAdjust="spacingAndGlyphs" fill="#111">0.2C</text>
<path d="M1054.9 669H1097.2" stroke="#00ffff" stroke-width="3.4"/>
<rect x="1071.3" y="664" width="10" height="10" fill="#00ffff"/>
<text x="1099" y="681" font-size="29.5" textLength="33.82" lengthAdjust="spacingAndGlyphs" fill="#111">1C</text>
<path d="M1054.9 702.35H1097.2" stroke="#80ff80" stroke-width="3.4"/>
<rect x="1071.3" y="697.35" width="10" height="10" fill="#80ff80"/>
<text x="1099" y="714.35" font-size="29.5" textLength="33.82" lengthAdjust="spacingAndGlyphs" fill="#111">2C</text>
<path d="M1054.9 735.7H1097.2" stroke="#ffd500" stroke-width="3.4"/>
<rect x="1071.3" y="730.7" width="10" height="10" fill="#ffd500"/>
<text x="1099" y="747.7" font-size="29.5" textLength="33.82" lengthAdjust="spacingAndGlyphs" fill="#111">3C</text>
<path d="M1054.9 769.05H1097.2" stroke="#ff8000" stroke-width="3.4"/>
<rect x="1071.3" y="764.05" width="10" height="10" fill="#ff8000"/>
<text x="1099" y="781.05" font-size="29.5" textLength="33.82" lengthAdjust="spacingAndGlyphs" fill="#111">4C</text>
<path d="M1054.9 802.4H1097.2" stroke="#ff0000" stroke-width="3.4"/>
<rect x="1071.3" y="797.4" width="10" height="10" fill="#ff0000"/>
<text x="1099" y="814.4" font-size="29.5" textLength="33.82" lengthAdjust="spacingAndGlyphs" fill="#111">5C</text>
<g>
<rect x="268.7" y="1128.6" width="601.8" height="481.8" fill="#00008f"/>
<path d="M279 1610.4h19.8h9.9l19.4-14.6l0.8-0.2l30.1-0.7l30.1-0.4l30-25.5l10.4 26.8l-10.4 2.5l-30 5.7l-19.8 6.4h19.8h30h30.1h30.1h30.1h30.1h30.1h60.2h60.2h60.1h60.2h60.2v-14.6v-77.9v-97.3v-97.3v-97.4v-97.3h-60.2h-60.2h-60.1h-60.2h-60.2h-30.1h-30.1h-30.1h-30.1h-30.1h-30h-30.1h-30.1h-30.1h-30.1v97.3v97.4v97.3v97.3v77.9v14.5zM449.2 1544.7l-10.3-26.8l10.3-1.6l20.7 1.6z" fill="#000093"/>
<path d="M268.7 1595.8v13.6l30.1-1.1l23.9-12.5l6.2-1.7l30.1-0.8l30.1-2.3l29-73.1l1-1.9l30.1-10.5l27.6-84.9l2.5-13.7l25.9-83.6l4.2-82.2l4.7-15.2l23.2-97.3h-27.9h-30.1h-30.1h-30.1h-30h-30.1h-30.1h-30.1h-27.3l-2.8 23.5v73.8v97.4v97.3v97.3zM429.5 1610.4h19.7h30.1h30.1h30.1h30.1h60.2h60.2h60.1h60.2h60.2v-14.6v-77.9v-97.3v-97.3v-97.4v-97.3h-60.2h-60.2h-60.1h-60.2h-39.5l-4.2 97.3l-12 97.4l-4.5 36.5l-6.3 60.8l-13.4 97.3l-10.4 10.7l-30.1 33.1l-19.7 34.1l-10.4 2l-30.1 6.2z" fill="#00009b"/>
<path d="M268.7 1595.8v12.8l30.1-3.1l18.4-9.7l11.7-3.3l30.1-0.8l30.1-4.3l27.6-69.5l2.4-4.7l30.1-18.6l24.1-74l6-32.7l20-64.6l7.2-97.4l2.9-9.4l24.8-87.9h-24.8h-30.1h-30.1h-30.1h-30h-30.1h-30.1h-30.1h-23.4l-6.7 56.1v41.2v97.4v97.3v97.3zM459.6 1610.4h19.7h30.1h30.1h30.1h60.2h60.2h60.1h60.2h60.2v-14.6v-77.9v-97.3v-97.3v-97.4v-97.3h-60.2h-60.2h-60.1h-44.7l-8.4 97.3l-6.7 97.4l-0.4 3l-19.5 94.3l-25.2 97.3l-15.5 13.4l-30.1 33.8l-19.7 30.7l-10.4 1.7l-30.1 7.2z" fill="#0000a3"/>
<path d="M268.7 1595.8v11.9l30.1-5.1l13-6.8l17.1-4.8l30.1-0.9l30.1-6.2l26.2-66l3.8-7.4l30.1-26.7l20.5-63.2l9.6-51.7l14.1-45.6l9.8-97.4l6.2-20.2l21.8-77.1h-21.8h-30.1h-30.1h-30.1h-30h-30.1h-30.1h-30.1h-19.4l-10.7 88.6v8.7v97.4v97.3v97.3zM481.2 1610.4h28.2h30.1h30.1h60.2h60.2h60.1h60.2h60.2v-14.6v-77.9v-97.3v-97.3v-97.4v-97.3h-60.2h-60.2h-60.1h-9.4l-12.4 97.3l-9.8 97.4l-14.8 97.3l-13.8 66.9l-9.4 30.4l-50.8 43.8l-26.3 34.1l-3.8 0.3l-30.1 5.2z" fill="#0000ab"/>
<path d="M268.7 1595.8v11.1l30.1-7.1l7.6-4l22.5-6.3l30.1-1l30.1-8.2l24.8-62.4l5.2-10.2l30.1-34.8l17-52.3l13.1-70.7l8.3-26.6l12.2-97.4l9.6-31.1l18.7-66.2h-18.7h-30.1h-30.1h-30.1h-30h-30.1h-30.1h-30.1h-15.5l-12.1 97.3l-2.5 15.2v82.2v97.3v97.3zM493 1610.4h16.4h30.1h30.1h60.2h60.2h60.1h60.2h60.2v-14.6v-77.9v-97.3v-97.3v-97.4v-97.3h-60.2h-60.2h-48l-7.3 97.3l-4.8 70l-3.4 27.4l-19.5 97.3l-22.5 97.3l-14.8 9.6l-60.2 64.7l-2.8 3.6l-27.3 2.3l-30.1 7z" fill="#0000b3"/>
<path d="M268.7 1595.8v10.2l30.1-9.1l2.2-1.1l27.9-7.8l30.1-1.1l30.1-10.1l23.4-58.9l6.7-12.9l30-43l13.5-41.4l16.6-89.7l2.4-7.6l14.7-97.4l13-42l15.6-55.3h-15.6h-30.1h-30.1h-30.1h-30h-30.1h-30.1h-30.1h-11.6l-12.7 97.3l-5.8 36v61.4v97.3v97.3zM504.7 1610.4h4.7h30.1h30.1h60.2h60.2h60.1h60.2h60.2v-14.6v-77.9v-97.3v-97.3v-97.4v-97.3h-60.2h-60.2h-31.4l-8.3 97.3l-8 97.4l-12.1 97.3l-0.3 2l-25.3 95.3l-34.9 22.6l-49.9 55.3l-10.3 1.2l-30.1 3.1l-30.1 8.8z" fill="#0000bb"/>
<path d="M268.7 1595.8v9.3l28.5-9.3l1.6-3l30.1-6.3l30.1-1.2l30.1-12l22-55.4l8-15.7l30.1-51l10-30.6l19.4-97.3l0.7-12.5l13.8-84.9l16.3-52.8l12.6-44.5h-12.6h-30.1h-30.1h-30.1h-30h-30.1h-30.1h-30.1h-7.7l-13.2 97.3l-9.2 56.7v40.7v97.3v97.3zM513.3 1610.4h26.2h30.1h60.2h60.2h60.1h60.2h60.2v-14.6v-77.9v-97.3v-97.3v-97.4v-97.3h-60.2h-60.2h-14.8l-9.2 97.3l-9.6 97.4l-14.5 97.3l-12 78.1l-5.1 19.2l-55.1 35.7l-38.1 42.2l-22.1 2.5l-30.1 3.9z" fill="#0000c3"/>
<path d="M268.7 1595.8v8.5l25.9-8.5l4.2-7.9l30.1-3l30.1-1.2l30.1-14l20.6-51.8l9.4-18.4l30.1-59.2l6.4-19.7l21.9-97.3l1.8-33.2l10.4-64.2l19.7-63.7l9.5-33.6h-9.5h-30.1h-30.1h-30.1h-30h-30.1h-30.1h-30.1h-3.8l-13.8 97.3l-12.5 77.5v19.9v97.3v97.3zM519.7 1610.4h19.8h30.1h60.2h60.2h60.1h60.2h60.2v-14.6v-77.9v-97.3v-97.3v-97.4v-97.3h-60.2h-59l-1.2 16.2l-8.3 81.1l-11.2 97.4l-16.8 97.3l-17.3 97.3l-6.5 4.4l-60.2 44.3l-26.3 29.2l-33.9 3.8l-30.1 4.6z" fill="#0000cb"/>
<path d="M268.7 1595.8v7.6l23.3-7.6l6.8-12.8l30.1 0.4l30.1-1.3l30.1-15.9l19.2-48.3l10.9-21.2l30-67.3l2.9-8.8l24.3-97.3l2.9-54l7.1-43.4l23-74.6l6.4-22.7h-6.4h-30.1h-30.1h-30.1h-30h-30.1h-30.1h-29.9l-0.2 0.9l-14.2 96.4l-15.8 97.4l-0.1 0.7v96.6v97.3zM526.1 1610.4h13.4h30.1h60.2h60.2h60.1h60.2h60.2v-14.6v-77.9v-97.3v-97.3v-97.4v-97.3h-60.2h-48.6l-7.4 97.3l-4.2 53.3l-5.4 44.1l-19.2 97.3l-20.1 97.3l-15.4 10.3l-60.2 51.4l-14.6 16.2l-45.6 5.1l-30.1 5.3z" fill="#0000d3"/>
<path d="M268.7 1595.8v6.8l20.7-6.8l9.4-17.8l30.1 3.9l30.1-1.4l30.1-17.9l17.8-44.7l12.2-23.9l29.9-73.4l0.2-0.8l26-96.5l4.1-74.7l3.7-22.7l26.4-85.4l3.4-11.9h-3.4h-30.1h-30.1h-30.1h-30h-30.1h-30.1h-25.5l-4.6 23.7l-10.8 73.6l-17 97.4l-2.3 19.7v77.6v97.3zM532.5 1610.4h7h30.1h60.2h60.2h60.1h60.2h60.2v-14.6v-77.9v-97.3v-97.3v-97.4v-97.3h-60.2h-38.1l-9.1 97.3l-7.9 97.4l-5.1 34.9l-12.8 62.4l-23.1 97.3l-24.2 16.2l-60.2 58.6l-2.8 3.1l-57.4 6.4l-30.1 6z" fill="#0000db"/>
<path d="M268.7 1595.8v5.9l18.1-5.9l12-22.7l30.1 7.3l30.1-1.5l30.1-19.8l16.3-41.2l13.7-26.7l28.8-70.6l1.3-5l24.9-92.3l5.2-95.4l0.3-2l29.8-96.3l0.3-1h-0.3h-30.1h-30.1h-30.1h-30h-30.1h-30.1h-21.1l-9 46.5l-7.5 50.8l-18.1 97.4l-4.5 38.7v58.6v97.3zM538.9 1610.4h0.6h30.1h60.2h60.2h60.1h60.2h60.2v-14.6v-77.9v-97.3v-97.3v-97.4v-97.3h-60.2h-27.7l-10.7 97.3l-8.4 97.4l-13.4 92l-1.1 5.3l-26 97.3l-33 22.1l-55.8 55.8l-4.4 0.5l-60.2 7.2l-30.1 6.7z" fill="#0000e3"/>
<path d="M268.7 1595.8v5.1l15.5-5.1l14.6-27.6l30.1 10.6l30.1-1.5l30.1-21.8l14.9-37.6l15.2-29.4l27.6-67.9l2.4-9.2l23.8-88.1l5.6-97.4l0.7-3.8l28.9-93.5h-28.9h-30.1h-30.1h-30h-30.1h-30.1h-16.7l-13.4 69.4l-4.1 27.9l-19.3 97.4l-6.7 57.8v39.5v97.3zM544.8 1610.4h24.8h60.2h60.2h60.1h60.2h60.2v-14.6v-77.9v-97.3v-97.3v-97.4v-97.3h-60.2h-17.3l-12.3 97.3l-8.9 97.4l-15.3 97.3l-6.4 29.5l-18.3 67.8l-41.8 28l-49.9 49.9l-10.3 1.1l-60.2 8z" fill="#0000eb"/>
<path d="M268.7 1595.8v4.2l12.9-4.2l17.2-32.6l30.1 14.1l30.1-1.6l30.1-23.7l13.5-34.1l16.5-32.2l26.6-65.1l3.5-13.5l22.6-83.8l5.9-97.4l1.6-8l27.6-89.3h-27.6h-30.1h-30.1h-30h-30.1h-30.1h-12.3l-17.8 92.2l-0.8 5.1l-20.4 97.4l-8.9 76.8v20.5v97.3zM550.7 1610.4h18.9h60.2h60.2h60.1h60.2h60.2v-14.6v-77.9v-97.3v-97.3v-97.4v-97.3h-60.2h-6.8l-14 97.3l-9.4 97.4l-16.5 97.3l-13.5 62.1l-9.5 35.2l-50.6 33.9l-44 44l-16.2 1.7l-60.2 8.7z" fill="#0000f3"/>
<path d="M268.7 1595.8v3.4l10.2-3.4l19.9-37.5l30.1 17.5l30.1-1.7l30.1-25.6l12.1-30.6l17.9-34.9l25.5-62.4l4.6-17.7l21.5-79.6l6.1-97.4l2.5-12.2l26.3-85.1h-26.3h-30.1h-30.1h-30h-30.1h-30.1h-7.9l-19.7 97.3l-2.5 8.1l-19 89.3l-11.1 95.8v1.5v97.3zM556.6 1610.4h13h60.2h60.2h60.1h60.2h60.2v-14.6v-77.9v-97.3v-97.3v-97.4v-97.3h-57.9l-2.3 19.8l-12 77.5l-9.9 97.4l-17.8 97.3l-20.5 94.7l-0.7 2.6l-59.4 39.8l-38.1 38.1l-22.1 2.3l-60.2 9.4z" fill="#0000fb"/>
<path d="M268.7 1595.8v2.5l7.6-2.5l22.5-42.4l30.1 20.9l30.1-1.8l30.1-27.6l10.7-27l19.3-37.7l24.3-59.6l5.8-21.9l20.3-75.4l6.5-97.4l3.3-16.5l25-80.8h-25h-30.1h-30.1h-30h-30.1h-30.1h-3.5l-20.9 97.3l-5.7 18.4l-16.8 79l-9.7 97.3l-3.6 7.8v89.5zM562.5 1610.4h7.1h60.2h60.2h60.1h60.2h60.2v-14.6v-77.9v-97.3v-97.3v-97.4v-97.3h-51.1l-9.1 76.8l-3.2 20.5l-10.4 97.4l-19 97.3l-22.4 97.3l-5.2 2.9l-60.1 42.7l-32.2 32.3l-28 2.9l-60.2 10.1z" fill="#0004ff"/>
<path d="M268.7 1595.8v1.6l5-1.6l25.1-47.4l30.1 24.4l30.1-1.9l30.1-29.5l9.3-23.5l20.7-40.4l23.2-56.9l6.9-26.1l19.2-71.2l6.7-97.4l4.2-20.7l23.7-76.6h-23.7h-30.1h-30.1h-30h-30.1h-29.5l-0.6 3l-21.2 94.3l-8.9 28.8l-14.6 68.6l-8 97.3l-7.5 16.2v81.1zM568.3 1610.4h1.3h60.2h60.2h60.1h60.2h60.2v-14.6v-77.9v-97.3v-97.3v-97.4v-97.3h-44.4l-12.2 97.3l-3.6 48.7l-5.3 48.7l-20.3 97.3l-23.7 97.3l-10.9 6l-60.1 45.5l-26.4 26.4l-33.8 3.5l-60.2 10.8z" fill="#000cff"/>
<path d="M268.7 1595.8v0.8l2.4-0.8l27.7-52.3l30.1 27.7l30.1-1.9l30.1-31.5l7.9-19.9l22.1-43.2l22.1-54.1l8-30.4l18.1-66.9l7-97.4l5-24.9l22.4-72.4h-22.4h-30.1h-30.1h-30h-30.1h-26.8l-3.3 17.3l-18 80l-12.1 39.2l-12.4 58.2l-6.3 97.3l-11.4 24.7v72.6zM572.2 1610.4h57.6h60.2h60.1h60.2h60.2v-14.6v-77.9v-97.3v-97.3v-97.4v-97.3h-37.7l-13.2 97.3l-7.5 97.4l-1.8 11.7l-18.5 85.6l-25.2 97.3l-16.5 9.1l-60.1 48.3l-20.5 20.5l-39.7 4.1z" fill="#0014ff"/>
<path d="M575.5 1610.4h54.3h60.2h60.1h60.2h60.2v-14.6v-77.9v-97.3v-97.3v-97.4v-97.3h-31l-14.3 97.3l-8 97.4l-6.9 44.3l-11.5 53l-26.5 97.3l-22.2 12.2l-60.1 51.1l-14.6 14.6l-45.6 4.7zM268.7 1517.9v77.1l30.1-56.4l30.1 31.1l30.1-2l30.1-33.4l6.5-16.4l23.5-45.9l21-51.4l9.1-34.6l16.9-62.7l7.3-97.4l5.9-29.1l21.1-68.2h-21.1h-30.1h-30.1h-30h-30.1h-24.1l-6 31.6l-14.8 65.7l-15.3 49.5l-10.2 47.9l-4.5 97.3l-15.4 33.1z" fill="#001cff"/>
<path d="M578.8 1610.4h51h60.2h60.1h60.2h60.2v-14.6v-77.9v-97.3v-97.3v-97.4v-97.3h-24.3l-15.3 97.3l-8.7 97.4l-11.9 76.9l-4.4 20.4l-28 97.3l-27.8 15.3l-60.1 53.9l-8.7 8.7l-51.5 5.3zM268.7 1517.9v67l30.1-51.2l30.1 34.5l30.1-2.1l30.1-35.4l5.1-12.8l24.9-48.7l19.9-48.6l10.2-38.8l15.8-58.5l7.5-97.4l6.8-33.4l19.8-63.9h-19.8h-30.1h-30.1h-30h-30.1h-21.4l-8.7 45.8l-11.6 51.5l-18.5 59.9l-8 37.5l-2.8 97.3l-19.3 41.6z" fill="#0024ff"/>
<path d="M582.2 1610.4h47.6h60.2h60.1h60.2h60.2v-14.6v-77.9v-97.3v-97.3v-97.4v-97.3h-17.6l-16.4 97.3l-9.3 97.4l-15.2 97.3l-1.7 7.1l-26.8 90.2l-33.4 18.3l-60.1 56.8l-2.9 2.8l-57.3 5.9zM268.7 1517.9v56.8l30.1-46l30.1 38l30.1-2.2l30.1-37.3l3.6-9.3l26.4-51.4l18.7-45.9l11.4-43l14.7-54.3l7.8-97.4l7.6-37.6l18.5-59.7h-18.5h-30.1h-30.1h-30h-30.1h-18.7l-11.4 60.1l-8.4 37.2l-21.7 70.3l-5.8 27.1l-1.1 97.3l-23.2 50z" fill="#002cff"/>
<path d="M585.5 1610.4h44.3h60.2h60.1h60.2h60.2v-14.6v-77.9v-97.3v-97.3v-97.4v-97.3h-10.8l-17.6 97.3l-9.8 97.4l-15.7 97.3l-6.3 26.1l-21.1 71.2l-39.1 21.4l-58.5 56.5l-1.6 0.2l-60.2 6.3zM268.7 1517.9v46.7l30.1-40.8l30.1 41.4l30.1-2.3l30.1-39.2l2.2-5.8l27.8-54.2l17.6-43.1l12.5-47.3l13.5-50l8.1-97.4l8.5-41.8l17.2-55.5h-17.2h-30.1h-30.1h-30h-30.1h-16l-14.1 74.3l-5.2 23l-24.9 80.6l-3.6 16.8l0.6 97.3l-27.1 58.5z" fill="#0034ff"/>
<path d="M588.8 1610.4h41h60.2h60.1h60.2h60.2v-14.6v-77.9v-97.3v-97.3v-97.4v-97.3h-4.1l-18.6 97.3l-10.5 97.4l-16.2 97.3l-10.8 45.1l-15.5 52.2l-44.7 24.5l-55.3 53.4l-4.8 0.5l-60.2 6.6zM268.7 1517.9v36.5l30.1-35.5l30.1 44.7l30.1-2.3l30.1-41.2l0.8-2.2l29.2-56.9l16.5-40.4l13.6-51.5l12.4-45.8l8.3-97.4l9.4-46l15.9-51.3h-15.9h-30.1h-30.1h-30h-30.1h-13.3l-16.8 88.6l-2 8.7l-28.1 91l-1.4 6.4l1.4 69.9l0.4 27.4l-0.4 54.7l-30.1 12.2z" fill="#003cff"/>
<path d="M592.1 1610.4h37.7h60.2h60.1h60.2h60.2v-14.6v-77.9v-97.3v-97.3v-97.4v-86.3l-17.1 86.3l-11 97.4l-16.7 97.3l-15.4 64.1l-9.8 33.2l-50.4 27.6l-52.1 50.3l-8 0.8l-60.2 6.9zM268.7 1517.9v26.4l22.9-26.4l-22.9-21.9zM299.6 1517.9l29.3 44.2l30.1-2.4l29.6-41.8l0.5-1.1l30-58.6l15.4-37.6l14.7-55.7l11.2-41.6l8.7-97.4l10.2-50.3l14.6-47h-14.6h-30.1h-30.1h-30h-30.1h-10.6l-18.3 97.3l-1.2 5.5l-28.4 91.9l0.4 97.3z" fill="#0044ff"/>
<path d="M595.4 1610.4h34.4h60.2h60.1h60.2h60.2v-14.6v-77.9v-97.3v-97.3v-97.4v-57.8l-11.4 57.8l-11.7 97.4l-17.2 97.3l-19.9 83.1l-4.2 14.2l-56 30.7l-48.9 47.2l-11.2 1.1l-60.2 7.2zM268.7 1517.9v16.3l14.1-16.3l-14.1-13.5zM300.6 1517.9l28.3 42.7l30.1-2.5l28.5-40.2l1.6-4l30-58.4l14.3-34.9l15.8-59.9l10.1-37.4l8.9-97.4l11.1-54.5l13.3-42.8h-13.3h-30.1h-30.1h-30h-30.1h-7.8l-18.1 97.3l-4.2 19.8l-24 77.6l-2.3 97.3z" fill="#004cff"/>
<path d="M598.8 1610.4h31h60.2h60.1h60.2h60.2v-14.6v-77.9v-97.3v-97.3v-97.4v-29.2l-5.8 29.2l-12.3 97.4l-17.6 97.3l-23.6 97.3l-0.9 0.5l-60.2 33.3l-45.7 44.1l-14.4 1.4l-60.2 7.5zM268.7 1517.9v6.1l5.3-6.1l-5.3-5zM301.6 1517.9l27.3 41.2l30.1-2.6l27.3-38.6l2.8-6.9l30-58.3l13.1-32.1l17-64.2l9-33.1l9.2-97.4l11.9-58.7l12-38.6h-12h-30.1h-30.1h-30h-30.1h-5.1l-17.7 97.3l-7.3 34.1l-19.6 63.3l-4.9 97.3z" fill="#0054ff"/>
<path d="M602.1 1610.4h27.7h60.2h60.1h60.2h60.2v-14.6v-77.9v-97.3v-97.3v-97.4v-0.7l-0.2 0.7l-12.8 97.4l-18.2 97.3l-24.4 97.3l-4.6 2.2l-60.2 34.7l-42.4 41l-17.7 1.7l-60.2 7.8zM302.6 1517.9l26.3 39.7l30.1-2.7l26.2-37l3.9-9.7l30-58.2l12-29.4l18.1-68.4l7.8-28.9l9.5-97.4l12.8-62.9l10.7-34.4h-10.7h-30.1h-30.1h-30h-30.1h-2.4l-17.3 97.3l-10.4 48.3l-15.2 49.1l-7.6 97.3zM389.1 1227l-1.8-1.1l1.8-2.6l0.3 2.6z" fill="#005cff"/>
<path d="M605.4 1610.4h24.4h60.2h60.1h60.2h60.2v-14.6v-77.9v-97.3v-97.3v-60.4l-8 60.4l-18.6 97.3l-25.4 97.3l-8.2 3.9l-60.2 36.1l-39.2 37.9l-20.9 2l-60.2 8.2zM303.6 1517.9l25.3 38.1l30.1-2.7l25.1-35.4l5-12.6l30-58.1l10.9-26.6l19.2-72.6l6.7-24.7l9.7-97.4l13.7-67.2l9.3-30.1h-9.3h-30.1h-30.1h-30h-29.9l-0.2 2.1l-16.7 95.2l-13.4 62.6l-10.8 34.8l-10.3 97.3zM389.1 1229.5l-6.2-3.6l6.2-9.1l1.2 9.1z" fill="#0064ff"/>
<path d="M608.7 1610.4h21.1h60.2h60.1h60.2h60.2v-14.6v-77.9v-97.3v-97.3v-22.3l-3 22.3l-19.1 97.3l-26.3 97.3l-11.8 5.6l-60.2 37.5l-36 34.8l-24.1 2.3l-60.2 8.5zM304.6 1517.9l24.3 36.6l30.1-2.8l23.9-33.8l6.2-15.5l30-57.9l9.8-23.9l20.3-76.8l5.6-20.5l10-97.4l14.5-71.4l8-25.9h-8h-30.1h-30.1h-30h-27.7l-2.4 19.7l-13.6 77.6l-16.5 76.8l-6.4 20.6l-13 97.3zM389.1 1232.1l-10.6-6.2l10.6-15.6l2.1 15.6z" fill="#006cff"/>
<path d="M612 1610.4h17.8h60.2h60.1h60.2h60.2v-14.6v-77.9v-97.3v-87.9l-17.5 87.9l-27.3 97.3l-15.4 7.4l-60.2 38.8l-32.8 31.7l-27.3 2.7l-60.2 8.7zM305.7 1517.9l23.2 35.1l30.1-2.9l22.8-32.2l7.3-18.4l30-57.8l8.7-21.1l21.4-81.1l4.4-16.2l10.3-97.4l15.4-75.6l6.7-21.7h-6.7h-30.1h-30.1h-30h-25.5l-4.6 37.2l-10.5 60.1l-19.6 91.1l-2 6.3l-15.7 97.3zM389.1 1234.6l-15-8.7l15-22.1l3 22.1z" fill="#0074ff"/>
<path d="M615.4 1610.4h14.4h60.2h60.1h60.2h60.2v-14.6v-77.9v-97.3v-65.1l-13 65.1l-28.2 97.3l-19 9.1l-60.2 40.2l-29.6 28.6l-30.5 3l-60.2 9zM306.7 1517.9l22.2 33.6l30.1-3l21.7-30.6l8.4-21.3l30-57.6l7.5-18.4l22.6-85.3l3.3-12l10.6-97.4l16.2-79.8l5.4-17.5h-5.4h-30.1h-30.1h-30h-23.3l-6.8 54.7l-7.5 42.6l-21.3 97.4l-1.3 5.5l-15.9 91.8zM389.1 1237.2l-19.4-11.3l19.4-28.6l3.9 28.6z" fill="#007cff"/>
<path d="M618.7 1610.4h11.1h60.2h60.1h60.2h60.2v-14.6v-77.9v-97.3v-42.3l-8.4 42.3l-29.2 97.3l-22.6 10.8l-60.2 41.6l-26.4 25.5l-33.7 3.3l-60.2 9.3zM307.7 1517.9l21.2 32.1l30.1-3.1l20.5-29l9.6-24.2l30-57.5l6.4-15.6l23.7-89.5l2.1-7.8l10.9-97.4l17.1-84.1l4.1-13.2h-4.1h-30.1h-30.1h-30h-21.1l-9 72.3l-4.4 25l-22.2 97.4l-3.5 15.4l-14.2 81.9zM389.1 1239.8l-23.8-13.9l23.8-35.2l4.8 35.2z" fill="#0083ff"/>
<path d="M622 1610.4h7.8h60.2h60.1h60.2h60.2v-14.6v-77.9v-97.3v-19.5l-3.9 19.5l-30 97.3l-26.3 12.5l-60.2 43l-23.2 22.4l-36.9 3.6l-60.2 9.6zM308.7 1517.9l20.2 30.5l30.1-3.1l19.4-27.4l10.7-27.1l30-57.3l5.3-12.9l24.8-93.7l1-3.6l11.1-97.4l18-88.3l2.8-9h-2.8h-30.1h-30.1h-30h-18.8l18.8 55.6l5.7 41.7l-5.7 16.4l-28.2-16.4l-1.9-7.5l-1.3 7.5l-23 97.4l-5.8 25.4l-12.5 71.9z" fill="#008bff"/>
<path d="M625.3 1610.4h4.5h60.2h60.1h60.2h60.2v-14.6v-77.9v-95.6l-30.3 95.6l-29.9 14.2l-60.2 44.4l-20 19.3l-40.1 3.9l-60.2 9.9zM309.7 1517.9l19.2 29l30.1-3.2l18.2-25.8l11.9-30l30-57.1l4.2-10.2l25.7-97.3l0.2-1.1l11.3-96.3l18.8-92.5l1.5-4.8h-1.5h-30.1h-30.1h-30h-16.6l16.6 49.1l6.7 48.2l-6.7 19l-30.1-13.5l-22 91.9l-8.1 35.3l-10.8 62z" fill="#0093ff"/>
<path d="M628.6 1610.4h1.2h60.2h60.1h60.2h60.2v-14.6v-77.9v-84.2l-26.7 84.2l-33.5 16l-60.2 45.7l-16.8 16.2l-43.3 4.2l-60.2 10.2zM310.7 1517.9l18.2 27.5l30.1-3.3l17.1-24.2l13-32.8l30-57.1l3.1-7.4l25.4-97.3l1.6-8.5l10.4-88.9l19.7-96.7l0.2-0.6h-0.2h-30.1h-30.1h-30h-14.4l14.4 42.6l7.6 54.7l-7.6 21.6l-30.1-6.6l-19.7 82.4l-10.4 45.2l-9.1 52.1z" fill="#009bff"/>
<path d="M631 1610.4h59h60.1h60.2h60.2v-14.6v-77.9v-72.8l-23.1 72.8l-37.1 17.7l-60.2 47l-13.6 13.2l-46.5 4.5zM311.7 1517.9l17.2 26l30.1-3.4l16-22.6l14.1-35.7l30-56.9l1.9-4.7l25.2-97.3l3-15.8l9.6-81.6l19.3-97.3h-28.9h-30.1h-30h-12.2l12.2 36.1l8.5 61.2l-8.5 24.1l-30.1 0.4l-17.5 72.9l-12.6 55.1l-7.3 42.2z" fill="#00a3ff"/>
<path d="M632.8 1610.4h57.2h60.1h60.2h60.2v-14.6v-77.9v-61.4l-19.5 61.4l-40.7 19.4l-60.2 48.4l-10.4 10.1l-49.7 4.8zM312.7 1517.9l16.2 24.4l30.1-3.4l14.8-21l15.3-38.6l30-56.8l0.8-1.9l24.8-97.3l4.5-23.2l8.7-74.2l18.7-97.3h-27.4h-30.1h-30h-10l10 29.5l9.4 67.8l-9.4 26.7l-30.1 7.3l-15.2 63.4l-14.9 65l-5.6 32.3z" fill="#00abff"/>
<path d="M634.6 1610.4h55.4h60.1h60.2h60.2v-14.6v-77.9v-50l-15.9 50l-44.3 21.1l-60.2 49.8l-7.2 7l-52.9 5.1zM313.7 1517.9l15.2 22.9l30.1-3.5l13.7-19.4l16.4-41.5l29.6-55.8l0.4-1.7l24.2-95.6l5.9-30.5l7.8-66.9l18.2-97.3h-26h-30.1h-30h-7.8l7.8 23l10.3 74.3l-10.3 29.3l-30.1 14.2l-12.9 53.9l-17.2 75l-3.9 22.3z" fill="#00b3ff"/>
<path d="M636.4 1610.4h53.6h60.1h60.2h60.2v-14.6v-77.9v-38.6l-12.2 38.6l-48 22.9l-60.2 51.1l-4 3.9l-56.1 5.5zM314.7 1517.9l14.2 21.4l30.1-3.7l12.6-17.7l17.5-44.4l28-52.9l2-7.5l22.7-89.8l7.4-37.9l7-59.5l17.6-97.3h-24.6h-30.1h-30h-5.6l5.6 16.5l11.2 80.8l-11.2 31.8l-30.1 21.2l-10.6 44.4l-19.5 84.9l-2.2 12.4z" fill="#00bbff"/>
<path d="M638.2 1610.4h51.8h60.1h60.2h60.2v-14.6v-77.9v-27.2l-8.6 27.2l-51.6 24.6l-60.2 52.5l-0.8 0.8l-59.3 5.8zM315.7 1517.9l13.2 19.9l30.1-3.8l11.4-16.1l18.7-47.3l26.5-50l3.5-13.2l21.3-84.1l8.8-45.3l6.1-52.1l17-97.3h-23.1h-30.1h-30h-3.4l3.4 10l12.1 87.3l-12.1 34.4l-30.1 28.1l-8.4 34.9l-21.7 94.8l-0.5 2.5z" fill="#00c3ff"/>
<path d="M640.1 1610.4h49.9h60.1h60.2h60.2v-14.6v-77.9v-15.8l-5 15.8l-55.2 26.3l-58.7 51.6l-1.5 0.1l-60.1 6zM316.7 1517.9l12.2 18.4l30.1-3.9l10.3-14.5l19.8-50.2l25-47.1l5-18.9l19.9-78.4l10.2-52.6l5.3-44.8l16.4-97.3h-21.7h-30.1h-30h-1.2l1.2 3.5l13 93.8l-13 36.9l-30.1 35.1l-6.1 25.4l-22.9 97.3l-1.1 5.7z" fill="#00cbff"/>
<path d="M641.9 1610.4h48.1h60.1h60.2h60.2v-14.6v-77.9v-4.4l-1.4 4.4l-58.8 28l-56.7 49.9l-3.5 0.3l-60.1 6.1zM317.7 1517.9l11.2 16.8l30.1-3.9l9.1-12.9l21-53.1l23.4-44.2l6.6-24.6l18.4-72.7l11.7-60l4.4-37.4l15.8-97.3h-20.2h-30.1h-29.3l13.2 97.3l-13.9 39.5l-30.1 42l-3.8 15.9l-23.7 97.3l-2.6 13.3z" fill="#00d3ff"/>
<path d="M643.7 1610.4h46.3h60.1h60.2h60.2v-14.6v-77.2l-60.2 29l-54.8 48.2l-5.4 0.5l-60.1 6.2zM318.8 1517.9l10.1 15.3l30.1-4l8-11.3l22.1-55.9l21.9-41.4l8.1-30.3l17-67l13.1-67.3l3.5-30.1l15.3-97.3h-18.8h-30.1h-27.8l12.6 97.3l-14.8 42.1l-30.1 48.9l-1.5 6.4l-24.5 97.3l-4.1 20.9z" fill="#00dbff"/>
<path d="M645.5 1610.4h44.5h60.1h60.2h60.2v-14.6v-76.2l-60.2 29.8l-52.8 46.4l-7.4 0.7l-60.1 6.3zM319.8 1517.9l9.1 13.8l30.1-4.1l6.9-9.7l23.2-58.8l20.4-38.5l9.6-36l15.5-61.3l14.6-74.7l2.7-22.7l14.7-97.3h-17.4h-30.1h-26.3l12 97.3l-15.7 44.6l-29.7 52.8l-0.4 1.9l-24.5 95.4l-5.6 28.5z" fill="#00e3ff"/>
<path d="M647.3 1610.4h42.7h60.1h60.2h60.2v-14.6v-75.2l-60.2 30.5l-50.9 44.7l-9.3 0.9l-60.1 6.4zM320.8 1517.9l8.1 12.3l30.1-4.2l5.7-8.1l24.4-61.7l18.8-35.6l11.2-41.7l14.1-55.6l16-82.1l1.8-15.3l14.1-97.3h-15.9h-30.1h-24.8l11.4 97.3l-16.6 47.2l-28.2 50.2l-1.9 7.8l-23 89.5l-7.1 36.1z" fill="#00ebff"/>
<path d="M649.2 1610.4h40.8h60.1h60.2h60.2v-14.6v-74.2l-60.2 31.2l-48.9 43l-11.3 1.1l-60.1 6.5zM321.8 1517.9l7.1 10.8l30.1-4.3l4.6-6.5l25.5-64.6l17.3-32.7l12.7-47.4l12.7-49.9l17.4-89.4l1-8l13.5-97.3h-14.5h-30.1h-23.3l10.8 97.3l-17.5 49.8l-26.8 47.6l-3.3 13.6l-21.5 83.7l-8.6 43.7z" fill="#00f3ff"/>
<path d="M651 1610.4h39h60.1h60.2h60.2v-14.6v-73.1l-60.2 31.8l-46.9 41.3l-13.3 1.2l-60.1 6.7zM322.8 1517.9l6.1 9.2l30.1-4.3l3.5-4.9l26.6-67.5l15.8-29.8l14.2-53.1l11.2-44.2l18.9-96.8l0.1-0.6l13-97.3h-13.1h-30.1h-21.8l10.2 97.3l-18.4 52.3l-25.3 45.1l-4.8 19.5l-20 77.8l-10.1 51.3z" fill="#00fbff"/>
<path d="M652.8 1610.4h37.2h60.1h60.2h60.2v-14.6v-72.1l-60.2 32.5l-45 39.6l-15.2 1.4l-60.1 6.8zM323.8 1517.9l5.1 7.7l30.1-4.4l2.3-3.3l27.8-70.4l14.2-26.9l15.8-58.8l9.8-38.5l18.2-97.4l2.1-10l11.6-87.3h-11.6h-30.1h-20.3l9.6 97.3l-19.3 54.9l-23.9 42.5l-6.2 25.3l-18.5 72l-11.6 58.9z" fill="#04fffb"/>
<path d="M654.6 1610.4h35.4h60.1h60.2h60.2v-14.6v-71.1l-60.2 33.3l-43 37.8l-17.2 1.6l-60.1 7zM324.8 1517.9l4.1 6.2l30.1-4.5l1.2-1.7l28.9-73.3l12.7-24l17.3-64.5l8.3-32.8l17.3-97.4l4.5-20.8l10.2-76.5h-10.2h-30.1h-18.8l9 97.3l-20.2 57.4l-22.5 40l-7.6 31.2l-17 66.1l-13.1 66.5z" fill="#0cfff3"/>
<path d="M656.4 1610.4h33.6h60.1h60.2h60.2v-14.6v-70.1l-60.2 34l-41.1 36.1l-19.1 1.8l-60.1 7.1zM325.8 1517.9l3.1 4.7l30.1-4.6v-0.1l30.1-76.2l11.2-21.1l18.8-70.2l6.9-27.1l16.4-97.4l6.8-31.7l8.7-65.6h-8.7h-30.1h-17.3l8.4 97.3l-21.1 60l-21 37.4l-9.1 37l-15.5 60.3l-14.6 74.1z" fill="#14ffeb"/>
<path d="M658.3 1610.4h31.7h60.1h60.2h60.2v-14.6v-69l-60.2 34.6l-39.1 34.4l-21.1 2l-60.1 7.2zM326.8 1517.9l2.1 3.2l20.7-3.2l-20.7-15.6zM345 1420.6l14 88.5l30.1-70.3l9.6-18.2l20.4-75.9l5.5-21.4l15.4-97.4l9.2-42.6l7.3-54.7h-7.3h-30.1h-15.8l7.8 97.3l-22 62.6l-19.6 34.8l-10.5 42.9z" fill="#1cffe3"/>
<path d="M660.1 1610.4h29.9h60.1h60.2h60.2v-14.6v-68l-60.2 35.3l-37.1 32.7l-23.1 2.2l-60.1 7.3zM327.8 1517.9l1.1 1.6l10.6-1.6l-10.6-8zM346.5 1420.6l12.5 79l30.1-63.6l8.1-15.4l21.9-81.6l4-15.7l14.6-97.4l11.5-53.4l5.9-43.9h-5.9h-30.1h-14.3l7.2 97.3l-22.9 65.1l-18.1 32.3l-12 48.7z" fill="#24ffdb"/>
<path d="M661.9 1610.4h28.1h60.1h60.2h60.2v-14.6v-67l-60.2 36.1l-35.2 30.9l-25 2.3l-60.1 7.5zM328.8 1517.9l0.1 0.1l0.5-0.1l-0.5-0.4zM348 1420.6l11 69.5l30.1-57l6.6-12.5l23.4-87.3l2.6-10l13.6-97.4l13.9-64.3l4.4-33h-4.4h-30.1h-12.8l6.6 97.3l-23.8 67.7l-16.7 29.7l-13.4 54.6z" fill="#2cffd3"/>
<path d="M663.7 1610.4h26.3h60.1h60.2h60.2v-14.6v-66l-60.2 36.8l-33.2 29.2l-27 2.5l-60.1 7.6zM349.5 1420.6l9.5 59.9l30.1-50.3l5-9.6l25-93l1.1-4.3l12.8-97.4l16.2-75.1l3-22.2h-3h-30.1h-11.3l6 97.3l-24.7 70.3l-15.3 27.1l-14.8 60.4z" fill="#34ffcb"/>
<path d="M665.5 1610.4h24.5h60.1h60.2h60.2v-14.6v-64.9l-60.2 37.4l-31.3 27.5l-28.9 2.7l-60.1 7.7zM351 1420.6l8 50.4l30.1-43.7l3.5-6.7l25.8-97.3l-29.3-24.6l-13.8 24.6l-16.3 66.3zM414.7 1225.9l4.5 92.8l11.4-92.8l18.6-86l1.5-11.3h-1.5h-30.1h-9.8z" fill="#3cffc3"/>
<path d="M667.4 1610.4h22.6h60.1h60.2h60.2v-14.6v-63.9l-60.2 38.1l-29.3 25.8l-30.9 2.9l-60.1 7.8zM352.5 1420.6l6.5 40.9l30.1-37.1l2-3.8l24.2-97.3l-26.2-22l-12.4 22l-17.7 72.1zM415.6 1225.9l3.5 73.8l9.2-73.8l20.9-96.9l0.1-0.4h-0.1h-30.1h-8.3z" fill="#44ffbb"/>
<path d="M669.2 1610.4h20.8h60.1h60.2h60.2v-14.6v-62.9l-60.2 38.8l-27.4 24.1l-32.8 3.1l-60.1 7.9zM354 1420.6l5 31.4l30.1-30.5l0.5-0.9l22.7-97.3l-23.2-19.4l-10.9 19.4l-19.2 78zM416.5 1225.9l2.6 54.8l6.8-54.8l18.1-97.3h-24.9h-6.8z" fill="#4cffb3"/>
<path d="M671 1610.4h19h60.1h60.2h60.2v-14.6v-61.9l-60.2 39.6l-25.4 22.3l-34.8 3.3l-60.1 8.1zM355.5 1420.6l3.5 21.9l23.2-21.9l-23.2-13.5zM379.6 1323.3l9.5 88.2l20.1-88.2l-20.1-16.9zM417.5 1225.9l1.6 35.8l4.5-35.8l15-97.3h-19.5h-5.3z" fill="#54ffab"/>
<path d="M672.8 1610.4h17.2h60.1h60.2h60.2v-14.6v-60.8l-60.2 40.2l-23.4 20.6l-36.8 3.4l-60.1 8.3zM357 1420.6l2 12.4l13.1-12.4l-13.1-7.6zM381 1323.3l8.1 74.8l17-74.8l-17-14.3zM418.4 1225.9l0.7 16.8l2.1-16.8l12-97.3h-14.1h-3.8z" fill="#5cffa3"/>
<path d="M674.6 1610.4h15.4h60.1h60.2h60.2v-14.6v-59.8l-60.2 40.9l-21.5 18.9l-38.7 3.6l-60.1 8.4zM358.5 1420.6l0.5 2.9l3.1-2.9l-3.1-1.8zM382.5 1323.3l6.6 61.3l14-61.3l-14-11.8zM416.8 1128.6l2.3 90.5l8.7-90.5h-8.7z" fill="#64ff9b"/>
<path d="M676.5 1610.4h13.5h60.1h60.2h60.2v-14.6v-58.8l-60.2 41.6l-19.5 17.2l-40.7 3.8l-60.1 8.5zM383.9 1323.3l5.2 47.9l10.9-47.9l-10.9-9.2zM418.3 1128.6l0.8 33.5l3.2-33.5h-3.2z" fill="#6cff93"/>
<path d="M678.3 1610.4h11.7h60.1h60.2h60.2v-14.6v-57.8l-60.2 42.4l-17.6 15.4l-42.6 4l-60.1 8.6zM385.4 1323.3l3.7 34.5l7.9-34.5l-7.9-6.6z" fill="#74ff8b"/>
<path d="M680.1 1610.4h9.9h60.1h60.2h60.2v-14.6v-56.7l-60.2 43l-15.6 13.7l-44.6 4.2l-60.1 8.7zM386.8 1323.3l2.3 21.1l4.8-21.1l-4.8-4.1z" fill="#7cff83"/>
<path d="M681.9 1610.4h8.1h60.1h60.2h60.2v-14.6v-55.7l-60.2 43.7l-13.6 12l-46.6 4.4l-60.1 8.8zM388.2 1323.3l0.9 7.7l1.7-7.7l-1.7-1.5z" fill="#83ff7c"/>
<path d="M683.7 1610.4h6.3h60.1h60.2h60.2v-14.6v-54.7l-60.2 44.4l-11.7 10.3l-48.5 4.6l-60.1 8.9z" fill="#8bff74"/>
<path d="M685.6 1610.4h4.4h60.1h60.2h60.2v-14.6v-53.7l-60.2 45.1l-9.7 8.6l-50.5 4.7l-60.1 9.1z" fill="#93ff6c"/>
<path d="M687.4 1610.4h2.6h60.1h60.2h60.2v-14.6v-52.6l-60.2 45.8l-7.8 6.8l-52.4 4.9l-60.1 9.3z" fill="#9bff64"/>
<path d="M689.2 1610.4h0.8h60.1h60.2h60.2v-14.6v-51.6l-60.2 46.5l-5.8 5.1l-54.4 5.1l-60.1 9.4z" fill="#a3ff5c"/>
<path d="M690.6 1610.4h59.5h60.2h60.2v-14.6v-50.6l-60.2 47.2l-3.8 3.4l-56.4 5.3z" fill="#abff54"/>
<path d="M691.8 1610.4h58.3h60.2h60.2v-14.6v-49.6l-60.2 47.9l-1.9 1.7l-58.3 5.5z" fill="#b3ff4c"/>
<path d="M693 1610.4h57.1h60.2h60.2v-14.6v-48.5l-60.1 48.5h-0.1l-60.2 5.7z" fill="#bbff44"/>
<path d="M694.2 1610.4h55.9h60.2h60.2v-14.6v-47.5l-58.9 47.5l-1.3 0.1l-60.2 5.7z" fill="#c3ff3c"/>
<path d="M695.4 1610.4h54.7h60.2h60.2v-14.6v-46.5l-57.6 46.5l-2.6 0.2l-60.2 5.8z" fill="#cbff34"/>
<path d="M696.5 1610.4h53.6h60.2h60.2v-14.6v-45.5l-56.3 45.5l-3.9 0.4l-60.2 5.8z" fill="#d3ff2c"/>
<path d="M697.7 1610.4h52.4h60.2h60.2v-14.6v-44.4l-55.1 44.4l-5.1 0.5l-60.2 5.9z" fill="#dbff24"/>
<path d="M698.9 1610.4h51.2h60.2h60.2v-14.6v-43.4l-53.8 43.4l-6.4 0.6l-60.2 6z" fill="#e3ff1c"/>
<path d="M700.1 1610.4h50h60.2h60.2v-14.6v-42.4l-52.5 42.4l-7.7 0.7l-60.2 6.1z" fill="#ebff14"/>
<path d="M701.2 1610.4h48.9h60.2h60.2v-14.6v-41.4l-51.3 41.4l-8.9 0.8l-60.2 6.1z" fill="#f3ff0c"/>
<path d="M702.4 1610.4h47.7h60.2h60.2v-14.6v-40.3l-50 40.3l-10.2 0.9l-60.2 6.2z" fill="#fbff04"/>
<path d="M703.6 1610.4h46.5h60.2h60.2v-14.6v-39.3l-48.7 39.3l-11.5 1l-60.2 6.3z" fill="#fffb00"/>
<path d="M704.8 1610.4h45.3h60.2h60.2v-14.6v-38.3l-47.4 38.3l-12.8 1.2l-60.2 6.3z" fill="#fff300"/>
<path d="M705.9 1610.4h44.2h60.2h60.2v-14.6v-37.3l-46.2 37.3l-14 1.3l-60.2 6.4z" fill="#ffeb00"/>
<path d="M707.1 1610.4h43h60.2h60.2v-14.6v-36.2l-44.9 36.2l-15.3 1.4l-60.2 6.5z" fill="#ffe300"/>
<path d="M708.3 1610.4h41.8h60.2h60.2v-14.6v-35.2l-43.6 35.2l-16.6 1.5l-60.2 6.5z" fill="#ffdb00"/>
<path d="M709.5 1610.4h40.6h60.2h60.2v-14.6v-34.2l-42.4 34.2l-17.8 1.6l-60.2 6.6z" fill="#ffd300"/>
<path d="M710.6 1610.4h39.5h60.2h60.2v-14.6v-33.2l-41.1 33.2l-19.1 1.7l-60.2 6.7z" fill="#ffcb00"/>
<path d="M711.8 1610.4h38.3h60.2h60.2v-14.6v-32.1l-39.8 32.1l-20.4 1.9l-60.2 6.7z" fill="#ffc300"/>
<path d="M713 1610.4h37.1h60.2h60.2v-14.6v-31.1l-38.5 31.1l-21.7 2l-60.2 6.8z" fill="#ffbb00"/>
<path d="M714.2 1610.4h35.9h60.2h60.2v-14.6v-30.1l-37.3 30.1l-22.9 2.1l-60.2 6.9z" fill="#ffb300"/>
<path d="M715.3 1610.4h34.8h60.2h60.2v-14.6v-29l-36 29l-24.2 2.2l-60.2 7z" fill="#ffab00"/>
<path d="M716.5 1610.4h33.6h60.2h60.2v-14.6v-28l-34.7 28l-25.5 2.3l-60.2 7z" fill="#ffa300"/>
<path d="M717.7 1610.4h32.4h60.2h60.2v-14.6v-27l-33.5 27l-26.7 2.4l-60.2 7.1z" fill="#ff9b00"/>
<path d="M718.9 1610.4h31.2h60.2h60.2v-14.6v-26l-32.2 26l-28 2.6l-60.2 7.1z" fill="#ff9300"/>
<path d="M720 1610.4h30.1h60.2h60.2v-14.6v-24.9l-30.9 24.9l-29.3 2.7l-60.2 7.2z" fill="#ff8b00"/>
<path d="M721.2 1610.4h28.9h60.2h60.2v-14.6v-23.9l-29.6 23.9l-30.6 2.8l-60.2 7.3z" fill="#ff8300"/>
<path d="M722.4 1610.4h27.7h60.2h60.2v-14.6v-22.9l-28.4 22.9l-31.8 2.9l-60.2 7.4z" fill="#ff7c00"/>
<path d="M723.6 1610.4h26.5h60.2h60.2v-14.6v-21.9l-27.1 21.9l-33.1 3l-60.2 7.4z" fill="#ff7400"/>
<path d="M724.7 1610.4h25.4h60.2h60.2v-14.6v-20.8l-25.8 20.8l-34.4 3.1l-60.2 7.5z" fill="#ff6c00"/>
<path d="M725.9 1610.4h24.2h60.2h60.2v-14.6v-19.8l-24.6 19.8l-35.6 3.3l-60.2 7.5z" fill="#ff6400"/>
<path d="M727.1 1610.4h23h60.2h60.2v-14.6v-18.8l-23.3 18.8l-36.9 3.4l-60.2 7.6z" fill="#ff5c00"/>
<path d="M728.3 1610.4h21.8h60.2h60.2v-14.6v-17.8l-22 17.8l-38.2 3.5l-60.2 7.7z" fill="#ff5400"/>
<path d="M729.4 1610.4h20.7h60.2h60.2v-14.6v-16.7l-20.8 16.7l-39.4 3.6l-60.2 7.8z" fill="#ff4c00"/>
<path d="M730.6 1610.4h19.5h60.2h60.2v-14.6v-15.7l-19.5 15.7l-40.7 3.7l-60.2 7.8z" fill="#ff4400"/>
<path d="M731.8 1610.4h18.3h60.2h60.2v-14.6v-14.7l-18.2 14.7l-42 3.8l-60.2 7.9z" fill="#ff3c00"/>
<path d="M733 1610.4h17.1h60.2h60.2v-14.6v-13.7l-16.9 13.7l-43.3 3.9l-60.2 8z" fill="#ff3400"/>
<path d="M734.1 1610.4h16h60.2h60.2v-14.6v-12.6l-15.7 12.6l-44.5 4.1l-60.2 8z" fill="#ff2c00"/>
<path d="M735.3 1610.4h14.8h60.2h60.2v-14.6v-11.6l-14.4 11.6l-45.8 4.2l-60.2 8.1z" fill="#ff2400"/>
<path d="M736.5 1610.4h13.6h60.2h60.2v-14.6v-10.6l-13.1 10.6l-47.1 4.3l-60.2 8.2z" fill="#ff1c00"/>
<path d="M737.7 1610.4h12.4h60.2h60.2v-14.6v-9.6l-11.9 9.6l-48.3 4.4l-60.2 8.2z" fill="#ff1400"/>
<path d="M738.8 1610.4h11.3h60.2h60.2v-14.6v-8.5l-10.6 8.5l-49.6 4.5l-60.2 8.3z" fill="#ff0c00"/>
<path d="M740 1610.4h10.1h60.2h60.2v-14.6v-7.5l-9.3 7.5l-50.9 4.6l-60.2 8.4z" fill="#ff0400"/>
<path d="M741.2 1610.4h8.9h60.2h60.2v-14.6v-6.5l-8 6.5l-52.2 4.8l-60.2 8.4z" fill="#fb0000"/>
<path d="M742.4 1610.4h7.7h60.2h60.2v-14.6v-5.5l-6.8 5.5l-53.4 4.9l-60.2 8.5z" fill="#f30000"/>
<path d="M743.5 1610.4h6.6h60.2h60.2v-14.6v-4.4l-5.5 4.4l-54.7 5l-60.2 8.6z" fill="#eb0000"/>
<path d="M744.7 1610.4h5.4h60.2h60.2v-14.6v-3.4l-4.2 3.4l-56 5.1l-60.2 8.7z" fill="#e30000"/>
<path d="M745.9 1610.4h4.2h60.2h60.2v-14.6v-2.4l-3 2.4l-57.2 5.2l-60.2 8.7z" fill="#db0000"/>
<path d="M747.1 1610.4h3h60.2h60.2v-14.6v-1.4l-1.7 1.4l-58.5 5.3l-60.2 8.8z" fill="#d30000"/>
<path d="M748.2 1610.4h1.9h60.2h60.2v-14.6v-0.3l-0.4 0.3l-59.8 5.5l-60.2 8.8z" fill="#cb0000"/>
<path d="M749.4 1610.4h0.7h60.2h60.2v-14.5l-60.2 5.5l-60.2 8.9z" fill="#c30000"/>
<path d="M750.4 1610.4h59.9h60.2v-14.5l-60.2 5.6z" fill="#bb0000"/>
<path d="M751.2 1610.4h59.1h60.2v-14.4l-60.2 5.6z" fill="#b30000"/>
<path d="M752 1610.4h58.3h60.2v-14.3l-60.2 5.6z" fill="#ab0000"/>
<path d="M752.8 1610.4h57.5h60.2v-14.2l-60.2 5.6z" fill="#a30000"/>
<path d="M753.6 1610.4h56.7h60.2v-14.1l-60.2 5.7z" fill="#9b0000"/>
<path d="M754.3 1610.4h56h60.2v-14.1l-60.2 5.8z" fill="#930000"/>
<path d="M755.1 1610.4h55.2h60.2v-14l-60.2 5.8z" fill="#8b0000"/>
<path d="M755.9 1610.4h54.4h60.2v-13.9l-60.2 5.8z" fill="#830000"/>
<path d="M756.7 1610.4h53.6h60.2v-13.8l-60.2 5.8z" fill="#800000"/>
</g>
<rect x="268.7" y="1128.6" width="601.8" height="481.8" fill="none" stroke="#222" stroke-opacity=".45" stroke-width="1.4"/>
<path d="M268.7 1517.93h5M870.5 1517.93h-5M268.7 1420.6h5M870.5 1420.6h-5M268.7 1323.27h5M870.5 1323.27h-5M268.7 1225.93h5M870.5 1225.93h-5M389.06 1610.4v-5M389.06 1128.6v5M509.42 1610.4v-5M509.42 1128.6v5M629.78 1610.4v-5M629.78 1128.6v5M750.14 1610.4v-5M750.14 1128.6v5" stroke="#111" stroke-opacity=".6" stroke-width="1.2" fill="none"/>
<text x="260.2" y="1530.73" font-size="28" text-anchor="end" fill="#1a1a1a">1</text>
<text x="260.2" y="1433.4" font-size="28" text-anchor="end" fill="#1a1a1a">2</text>
<text x="260.2" y="1336.07" font-size="28" text-anchor="end" fill="#1a1a1a">3</text>
<text x="260.2" y="1238.73" font-size="28" text-anchor="end" fill="#1a1a1a">4</text>
<text x="260.2" y="1141.4" font-size="28" text-anchor="end" fill="#1a1a1a">5</text>
<text x="232.8" y="1516.1" font-size="31" textLength="295" lengthAdjust="spacingAndGlyphs" transform="rotate(-90 232.8 1516.1)" fill="#1a1a1a">Charging current  /  C</text>
<rect x="177.2" y="1134.8" width="5.4" height="481.4" fill="#000"/>
<text x="160.4" y="1148.5" font-size="27.5" text-anchor="end" fill="#1a1a1a">12</text>
<text x="160.4" y="1339.7" font-size="27.5" text-anchor="end" fill="#1a1a1a">20</text>
<text x="168.3" y="1538.2" font-size="27.5" text-anchor="end" fill="#1a1a1a">60</text>
<g transform="translate(98.9 1521.7) rotate(-90)" font-size="34" fill="#1a1a1a" lengthAdjust="spacingAndGlyphs"><text x="0" y="0" textLength="131.5" lengthAdjust="spacingAndGlyphs">Charging</text><text x="134.3" y="0" textLength="59.5" lengthAdjust="spacingAndGlyphs">time</text><text x="210" y="0">/</text><text x="237.5" y="0" textLength="53.5" lengthAdjust="spacingAndGlyphs">min</text></g>
<text x="9.4" y="1152.2" font-size="30.5" textLength="28.6" lengthAdjust="spacingAndGlyphs" fill="#1a1a1a">c)</text>
<text x="604.1" y="1175.6" font-size="31.9" font-weight="bold" fill="#fff">Plating ON</text>
<g shape-rendering="crispEdges">
<rect x="897" y="1602.87" width="23.2" height="7.53" fill="#00008f"/>
<rect x="897" y="1595.34" width="23.2" height="8.13" fill="#00009f"/>
<rect x="897" y="1587.82" width="23.2" height="8.13" fill="#0000af"/>
<rect x="897" y="1580.29" width="23.2" height="8.13" fill="#0000bf"/>
<rect x="897" y="1572.76" width="23.2" height="8.13" fill="#0000cf"/>
<rect x="897" y="1565.23" width="23.2" height="8.13" fill="#0000df"/>
<rect x="897" y="1557.7" width="23.2" height="8.13" fill="#0000ef"/>
<rect x="897" y="1550.18" width="23.2" height="8.13" fill="#0000ff"/>
<rect x="897" y="1542.65" width="23.2" height="8.13" fill="#0010ff"/>
<rect x="897" y="1535.12" width="23.2" height="8.13" fill="#0020ff"/>
<rect x="897" y="1527.59" width="23.2" height="8.13" fill="#0030ff"/>
<rect x="897" y="1520.06" width="23.2" height="8.13" fill="#0040ff"/>
<rect x="897" y="1512.53" width="23.2" height="8.13" fill="#0050ff"/>
<rect x="897" y="1505.01" width="23.2" height="8.13" fill="#0060ff"/>
<rect x="897" y="1497.48" width="23.2" height="8.13" fill="#0070ff"/>
<rect x="897" y="1489.95" width="23.2" height="8.13" fill="#0080ff"/>
<rect x="897" y="1482.42" width="23.2" height="8.13" fill="#008fff"/>
<rect x="897" y="1474.89" width="23.2" height="8.13" fill="#009fff"/>
<rect x="897" y="1467.37" width="23.2" height="8.13" fill="#00afff"/>
<rect x="897" y="1459.84" width="23.2" height="8.13" fill="#00bfff"/>
<rect x="897" y="1452.31" width="23.2" height="8.13" fill="#00cfff"/>
<rect x="897" y="1444.78" width="23.2" height="8.13" fill="#00dfff"/>
<rect x="897" y="1437.25" width="23.2" height="8.13" fill="#00efff"/>
<rect x="897" y="1429.72" width="23.2" height="8.13" fill="#00ffff"/>
<rect x="897" y="1422.2" width="23.2" height="8.13" fill="#10ffef"/>
<rect x="897" y="1414.67" width="23.2" height="8.13" fill="#20ffdf"/>
<rect x="897" y="1407.14" width="23.2" height="8.13" fill="#30ffcf"/>
<rect x="897" y="1399.61" width="23.2" height="8.13" fill="#40ffbf"/>
<rect x="897" y="1392.08" width="23.2" height="8.13" fill="#50ffaf"/>
<rect x="897" y="1384.56" width="23.2" height="8.13" fill="#60ff9f"/>
<rect x="897" y="1377.03" width="23.2" height="8.13" fill="#70ff8f"/>
<rect x="897" y="1369.5" width="23.2" height="8.13" fill="#80ff80"/>
<rect x="897" y="1361.97" width="23.2" height="8.13" fill="#8fff70"/>
<rect x="897" y="1354.44" width="23.2" height="8.13" fill="#9fff60"/>
<rect x="897" y="1346.92" width="23.2" height="8.13" fill="#afff50"/>
<rect x="897" y="1339.39" width="23.2" height="8.13" fill="#bfff40"/>
<rect x="897" y="1331.86" width="23.2" height="8.13" fill="#cfff30"/>
<rect x="897" y="1324.33" width="23.2" height="8.13" fill="#dfff20"/>
<rect x="897" y="1316.8" width="23.2" height="8.13" fill="#efff10"/>
<rect x="897" y="1309.28" width="23.2" height="8.13" fill="#ffff00"/>
<rect x="897" y="1301.75" width="23.2" height="8.13" fill="#ffef00"/>
<rect x="897" y="1294.22" width="23.2" height="8.13" fill="#ffdf00"/>
<rect x="897" y="1286.69" width="23.2" height="8.13" fill="#ffcf00"/>
<rect x="897" y="1279.16" width="23.2" height="8.13" fill="#ffbf00"/>
<rect x="897" y="1271.63" width="23.2" height="8.13" fill="#ffaf00"/>
<rect x="897" y="1264.11" width="23.2" height="8.13" fill="#ff9f00"/>
<rect x="897" y="1256.58" width="23.2" height="8.13" fill="#ff8f00"/>
<rect x="897" y="1249.05" width="23.2" height="8.13" fill="#ff8000"/>
<rect x="897" y="1241.52" width="23.2" height="8.13" fill="#ff7000"/>
<rect x="897" y="1233.99" width="23.2" height="8.13" fill="#ff6000"/>
<rect x="897" y="1226.47" width="23.2" height="8.13" fill="#ff5000"/>
<rect x="897" y="1218.94" width="23.2" height="8.13" fill="#ff4000"/>
<rect x="897" y="1211.41" width="23.2" height="8.13" fill="#ff3000"/>
<rect x="897" y="1203.88" width="23.2" height="8.13" fill="#ff2000"/>
<rect x="897" y="1196.35" width="23.2" height="8.13" fill="#ff1000"/>
<rect x="897" y="1188.82" width="23.2" height="8.13" fill="#ff0000"/>
<rect x="897" y="1181.3" width="23.2" height="8.13" fill="#ef0000"/>
<rect x="897" y="1173.77" width="23.2" height="8.13" fill="#df0000"/>
<rect x="897" y="1166.24" width="23.2" height="8.13" fill="#cf0000"/>
<rect x="897" y="1158.71" width="23.2" height="8.13" fill="#bf0000"/>
<rect x="897" y="1151.18" width="23.2" height="8.13" fill="#af0000"/>
<rect x="897" y="1143.66" width="23.2" height="8.13" fill="#9f0000"/>
<rect x="897" y="1136.13" width="23.2" height="8.13" fill="#8f0000"/>
<rect x="897" y="1128.6" width="23.2" height="8.13" fill="#800000"/>
</g>
<rect x="897" y="1128.6" width="23.2" height="481.8" fill="none" stroke="#222" stroke-opacity=".45" stroke-width="1.4"/>
<text x="928" y="1621.7" font-size="26" fill="#1a1a1a">0</text>
<text x="928" y="1541.4" font-size="26" fill="#1a1a1a">5</text>
<text x="928" y="1461.1" font-size="26" fill="#1a1a1a">10</text>
<text x="928" y="1380.8" font-size="26" fill="#1a1a1a">15</text>
<text x="928" y="1300.5" font-size="26" fill="#1a1a1a">20</text>
<text x="928" y="1220.2" font-size="26" fill="#1a1a1a">25</text>
<text x="928" y="1139.9" font-size="26" fill="#1a1a1a">30</text>
<path d="M920.2 1530.1h-4M920.2 1449.8h-4M920.2 1369.5h-4M920.2 1289.2h-4M920.2 1208.9h-4" stroke="#111" stroke-opacity=".7" stroke-width="1.2" fill="none"/>
<text x="989.6" y="1635.7" font-size="28" textLength="532" lengthAdjust="spacingAndGlyphs" transform="rotate(-90 989.6 1635.7)" fill="#1a1a1a">% Capacity loss for 1000 equivalent cycles</text>
<rect x="1039.7" y="1128.6" width="683.3" height="481.8" fill="none" stroke="#434343" stroke-width="2.2"/>
<path d="M1176.36 1610.4v-8M1176.36 1128.6v8M1313.02 1610.4v-8M1313.02 1128.6v8M1449.68 1610.4v-8M1449.68 1128.6v8M1586.34 1610.4v-8M1586.34 1128.6v8M1723 1514.04h-8M1723 1417.68h-8M1723 1321.32h-8M1723 1224.96h-8" stroke="#434343" stroke-width="1.8" fill="none"/>
<g clip-path="url(#lc2)">
<polyline points="1039.7,1609.44 1073.87,1608.95 1108.03,1609.92 1142.19,1609.44 1176.36,1608.95 1210.53,1608.47 1244.69,1607.51 1278.86,1606.06 1313.02,1603.17 1347.18,1597.87 1381.35,1592.09 1449.68,1571.62 1518.01,1534.28 1586.34,1476.46 1654.67,1389.25 1723,1272.18" fill="none" stroke="#0000ff" stroke-width="3.4" stroke-linejoin="round"/>
<path d="M1034.7 1604.44h10v10h-10zM1068.87 1603.95h10v10h-10zM1103.03 1604.92h10v10h-10zM1137.19 1604.44h10v10h-10zM1171.36 1603.95h10v10h-10zM1205.53 1603.47h10v10h-10zM1239.69 1602.51h10v10h-10zM1273.86 1601.06h10v10h-10zM1308.02 1598.17h10v10h-10zM1342.18 1592.87h10v10h-10zM1376.35 1587.09h10v10h-10zM1444.68 1566.62h10v10h-10zM1513.01 1529.28h10v10h-10zM1581.34 1471.46h10v10h-10zM1649.67 1384.25h10v10h-10zM1718 1267.18h10v10h-10z" fill="#0000ff"/>
<polyline points="1039.7,1590.16 1073.87,1603.17 1108.03,1609.44 1142.19,1609.92 1176.36,1609.68 1210.53,1609.44 1244.69,1608.95 1278.86,1608.47 1313.02,1607.51 1347.18,1606.06 1381.35,1604.62 1449.68,1598.84 1518.01,1587.27 1586.34,1566.07 1654.67,1531.38 1723,1477.9" fill="none" stroke="#0080ff" stroke-width="3.4" stroke-linejoin="round"/>
<path d="M1034.7 1585.16h10v10h-10zM1068.87 1598.17h10v10h-10zM1103.03 1604.44h10v10h-10zM1137.19 1604.92h10v10h-10zM1171.36 1604.68h10v10h-10zM1205.53 1604.44h10v10h-10zM1239.69 1603.95h10v10h-10zM1273.86 1603.47h10v10h-10zM1308.02 1602.51h10v10h-10zM1342.18 1601.06h10v10h-10zM1376.35 1599.62h10v10h-10zM1444.68 1593.84h10v10h-10zM1513.01 1582.27h10v10h-10zM1581.34 1561.07h10v10h-10zM1649.67 1526.38h10v10h-10zM1718 1472.9h10v10h-10z" fill="#0080ff"/>
<polyline points="1039.7,1581.49 1073.87,1585.35 1108.03,1551.62 1142.19,1554.99 1176.36,1584.86 1210.53,1608.95 1244.69,1609.44 1278.86,1609.2 1313.02,1608.95 1347.18,1608.47 1381.35,1607.51 1449.68,1605.58 1518.01,1602.21 1586.34,1594.5 1654.67,1582.46 1723,1563.67" fill="none" stroke="#00ffff" stroke-width="3.4" stroke-linejoin="round"/>
<path d="M1034.7 1576.49h10v10h-10zM1068.87 1580.35h10v10h-10zM1103.03 1546.62h10v10h-10zM1137.19 1549.99h10v10h-10zM1171.36 1579.86h10v10h-10zM1205.53 1603.95h10v10h-10zM1239.69 1604.44h10v10h-10zM1273.86 1604.2h10v10h-10zM1308.02 1603.95h10v10h-10zM1342.18 1603.47h10v10h-10zM1376.35 1602.51h10v10h-10zM1444.68 1600.58h10v10h-10zM1513.01 1597.21h10v10h-10zM1581.34 1589.5h10v10h-10zM1649.67 1577.46h10v10h-10zM1718 1558.67h10v10h-10z" fill="#00ffff"/>
<polyline points="1039.7,1594.5 1073.87,1585.83 1108.03,1566.07 1142.19,1543.43 1176.36,1546.8 1210.53,1568.97 1244.69,1599.32 1278.86,1608.95 1313.02,1608.95 1347.18,1608.71 1381.35,1607.99 1449.68,1606.55 1518.01,1603.65 1586.34,1597.87 1654.67,1588.24 1723,1573.3" fill="none" stroke="#80ff80" stroke-width="3.4" stroke-linejoin="round"/>
<path d="M1034.7 1589.5h10v10h-10zM1068.87 1580.83h10v10h-10zM1103.03 1561.07h10v10h-10zM1137.19 1538.43h10v10h-10zM1171.36 1541.8h10v10h-10zM1205.53 1563.97h10v10h-10zM1239.69 1594.32h10v10h-10zM1273.86 1603.95h10v10h-10zM1308.02 1603.95h10v10h-10zM1342.18 1603.71h10v10h-10zM1376.35 1602.99h10v10h-10zM1444.68 1601.55h10v10h-10zM1513.01 1598.65h10v10h-10zM1581.34 1592.87h10v10h-10zM1649.67 1583.24h10v10h-10zM1718 1568.3h10v10h-10z" fill="#80ff80"/>
<polyline points="1039.7,1600.28 1073.87,1584.86 1108.03,1577.16 1142.19,1562.22 1176.36,1538.61 1210.53,1549.69 1244.69,1573.3 1278.86,1603.17 1313.02,1608.95 1347.18,1608.95 1381.35,1608.23 1449.68,1607.03 1518.01,1604.62 1586.34,1599.8 1654.67,1591.61 1723,1578.12" fill="none" stroke="#ffd500" stroke-width="3.4" stroke-linejoin="round"/>
<path d="M1034.7 1595.28h10v10h-10zM1068.87 1579.86h10v10h-10zM1103.03 1572.16h10v10h-10zM1137.19 1557.22h10v10h-10zM1171.36 1533.61h10v10h-10zM1205.53 1544.69h10v10h-10zM1239.69 1568.3h10v10h-10zM1273.86 1598.17h10v10h-10zM1308.02 1603.95h10v10h-10zM1342.18 1603.95h10v10h-10zM1376.35 1603.23h10v10h-10zM1444.68 1602.03h10v10h-10zM1513.01 1599.62h10v10h-10zM1581.34 1594.8h10v10h-10zM1649.67 1586.61h10v10h-10zM1718 1573.12h10v10h-10z" fill="#ffd500"/>
<polyline points="1039.7,1605.58 1073.87,1595.46 1108.03,1584.86 1142.19,1573.78 1176.36,1581.49 1210.53,1543.91 1244.69,1558.37 1278.86,1597.87 1313.02,1607.99 1347.18,1608.95 1381.35,1608.47 1449.68,1607.27 1518.01,1605.1 1586.34,1600.76 1654.67,1593.06 1723,1581.01" fill="none" stroke="#ff8000" stroke-width="3.4" stroke-linejoin="round"/>
<path d="M1034.7 1600.58h10v10h-10zM1068.87 1590.46h10v10h-10zM1103.03 1579.86h10v10h-10zM1137.19 1568.78h10v10h-10zM1171.36 1576.49h10v10h-10zM1205.53 1538.91h10v10h-10zM1239.69 1553.37h10v10h-10zM1273.86 1592.87h10v10h-10zM1308.02 1602.99h10v10h-10zM1342.18 1603.95h10v10h-10zM1376.35 1603.47h10v10h-10zM1444.68 1602.27h10v10h-10zM1513.01 1600.1h10v10h-10zM1581.34 1595.76h10v10h-10zM1649.67 1588.06h10v10h-10zM1718 1576.01h10v10h-10z" fill="#ff8000"/>
<polyline points="1039.7,1608.95 1073.87,1600.28 1108.03,1592.57 1142.19,1580.05 1176.36,1564.63 1210.53,1541.98 1244.69,1548.25 1278.86,1571.86 1313.02,1597.87 1347.18,1608.95 1381.35,1608.47 1449.68,1607.51 1518.01,1605.58 1586.34,1601.49 1654.67,1594.98 1723,1584.86" fill="none" stroke="#ff0000" stroke-width="3.4" stroke-linejoin="round"/>
<path d="M1034.7 1603.95h10v10h-10zM1068.87 1595.28h10v10h-10zM1103.03 1587.57h10v10h-10zM1137.19 1575.05h10v10h-10zM1171.36 1559.63h10v10h-10zM1205.53 1536.98h10v10h-10zM1239.69 1543.25h10v10h-10zM1273.86 1566.86h10v10h-10zM1308.02 1592.87h10v10h-10zM1342.18 1603.95h10v10h-10zM1376.35 1603.47h10v10h-10zM1444.68 1602.51h10v10h-10zM1513.01 1600.58h10v10h-10zM1581.34 1596.49h10v10h-10zM1649.67 1589.98h10v10h-10zM1718 1579.86h10v10h-10z" fill="#ff0000"/>
</g>
<text x="1731.6" y="1620.7" font-size="28" fill="#1a1a1a">0</text>
<text x="1731.6" y="1524.34" font-size="28" fill="#1a1a1a">20</text>
<text x="1731.6" y="1427.98" font-size="28" fill="#1a1a1a">40</text>
<text x="1731.6" y="1331.62" font-size="28" fill="#1a1a1a">60</text>
<text x="1731.6" y="1235.26" font-size="28" fill="#1a1a1a">80</text>
<text x="1731.6" y="1138.9" font-size="28" fill="#1a1a1a">100</text>
<text x="1813.2" y="1634" font-size="28" textLength="534" lengthAdjust="spacingAndGlyphs" transform="rotate(-90 1813.2 1634)" fill="#1a1a1a">% Capacity loss for 1000 equivalent cycles</text>
<path d="M1055.5 1158.2H1097.8" stroke="#0000ff" stroke-width="3.4"/>
<rect x="1071.9" y="1153.2" width="10" height="10" fill="#0000ff"/>
<text x="1099.6" y="1170.2" font-size="29.5" textLength="70.6" lengthAdjust="spacingAndGlyphs" fill="#111">0.05C</text>
<path d="M1055.5 1191.55H1097.8" stroke="#0080ff" stroke-width="3.4"/>
<rect x="1071.9" y="1186.55" width="10" height="10" fill="#0080ff"/>
<text x="1099.6" y="1203.55" font-size="29.5" textLength="55.88" lengthAdjust="spacingAndGlyphs" fill="#111">0.2C</text>
<path d="M1055.5 1224.9H1097.8" stroke="#00ffff" stroke-width="3.4"/>
<rect x="1071.9" y="1219.9" width="10" height="10" fill="#00ffff"/>
<text x="1099.6" y="1236.9" font-size="29.5" textLength="33.82" lengthAdjust="spacingAndGlyphs" fill="#111">1C</text>
<path d="M1055.5 1258.25H1097.8" stroke="#80ff80" stroke-width="3.4"/>
<rect x="1071.9" y="1253.25" width="10" height="10" fill="#80ff80"/>
<text x="1099.6" y="1270.25" font-size="29.5" textLength="33.82" lengthAdjust="spacingAndGlyphs" fill="#111">2C</text>
<path d="M1055.5 1291.6H1097.8" stroke="#ffd500" stroke-width="3.4"/>
<rect x="1071.9" y="1286.6" width="10" height="10" fill="#ffd500"/>
<text x="1099.6" y="1303.6" font-size="29.5" textLength="33.82" lengthAdjust="spacingAndGlyphs" fill="#111">3C</text>
<path d="M1055.5 1324.95H1097.8" stroke="#ff8000" stroke-width="3.4"/>
<rect x="1071.9" y="1319.95" width="10" height="10" fill="#ff8000"/>
<text x="1099.6" y="1336.95" font-size="29.5" textLength="33.82" lengthAdjust="spacingAndGlyphs" fill="#111">4C</text>
<path d="M1055.5 1358.3H1097.8" stroke="#ff0000" stroke-width="3.4"/>
<rect x="1071.9" y="1353.3" width="10" height="10" fill="#ff0000"/>
<text x="1099.6" y="1370.3" font-size="29.5" textLength="33.82" lengthAdjust="spacingAndGlyphs" fill="#111">5C</text>
<text x="267.9" y="1649.8" font-size="28" text-anchor="middle" fill="#1a1a1a">-20</text>
<text x="1038.9" y="1647.4" font-size="28" text-anchor="middle" fill="#1a1a1a">-20</text>
<text x="389.06" y="1649.8" font-size="28" text-anchor="middle" fill="#1a1a1a">0</text>
<text x="1176.36" y="1647.4" font-size="28" text-anchor="middle" fill="#1a1a1a">0</text>
<text x="509.42" y="1649.8" font-size="28" text-anchor="middle" fill="#1a1a1a">20</text>
<text x="1313.02" y="1647.4" font-size="28" text-anchor="middle" fill="#1a1a1a">20</text>
<text x="629.78" y="1649.8" font-size="28" text-anchor="middle" fill="#1a1a1a">40</text>
<text x="1449.68" y="1647.4" font-size="28" text-anchor="middle" fill="#1a1a1a">40</text>
<text x="750.14" y="1649.8" font-size="28" text-anchor="middle" fill="#1a1a1a">60</text>
<text x="1586.34" y="1647.4" font-size="28" text-anchor="middle" fill="#1a1a1a">60</text>
<text x="870.5" y="1649.8" font-size="28" text-anchor="middle" fill="#1a1a1a">80</text>
<text x="1723" y="1647.4" font-size="28" text-anchor="middle" fill="#1a1a1a">80</text>
<text x="569.6" y="1689.4" font-size="27.5" text-anchor="middle" textLength="254" lengthAdjust="spacingAndGlyphs" fill="#1a1a1a">Temperature  /  °C</text>
<text x="1381.35" y="1687.8" font-size="27.5" text-anchor="middle" textLength="254" lengthAdjust="spacingAndGlyphs" fill="#1a1a1a">Temperature  /  °C</text>
</svg>
</body></html>
